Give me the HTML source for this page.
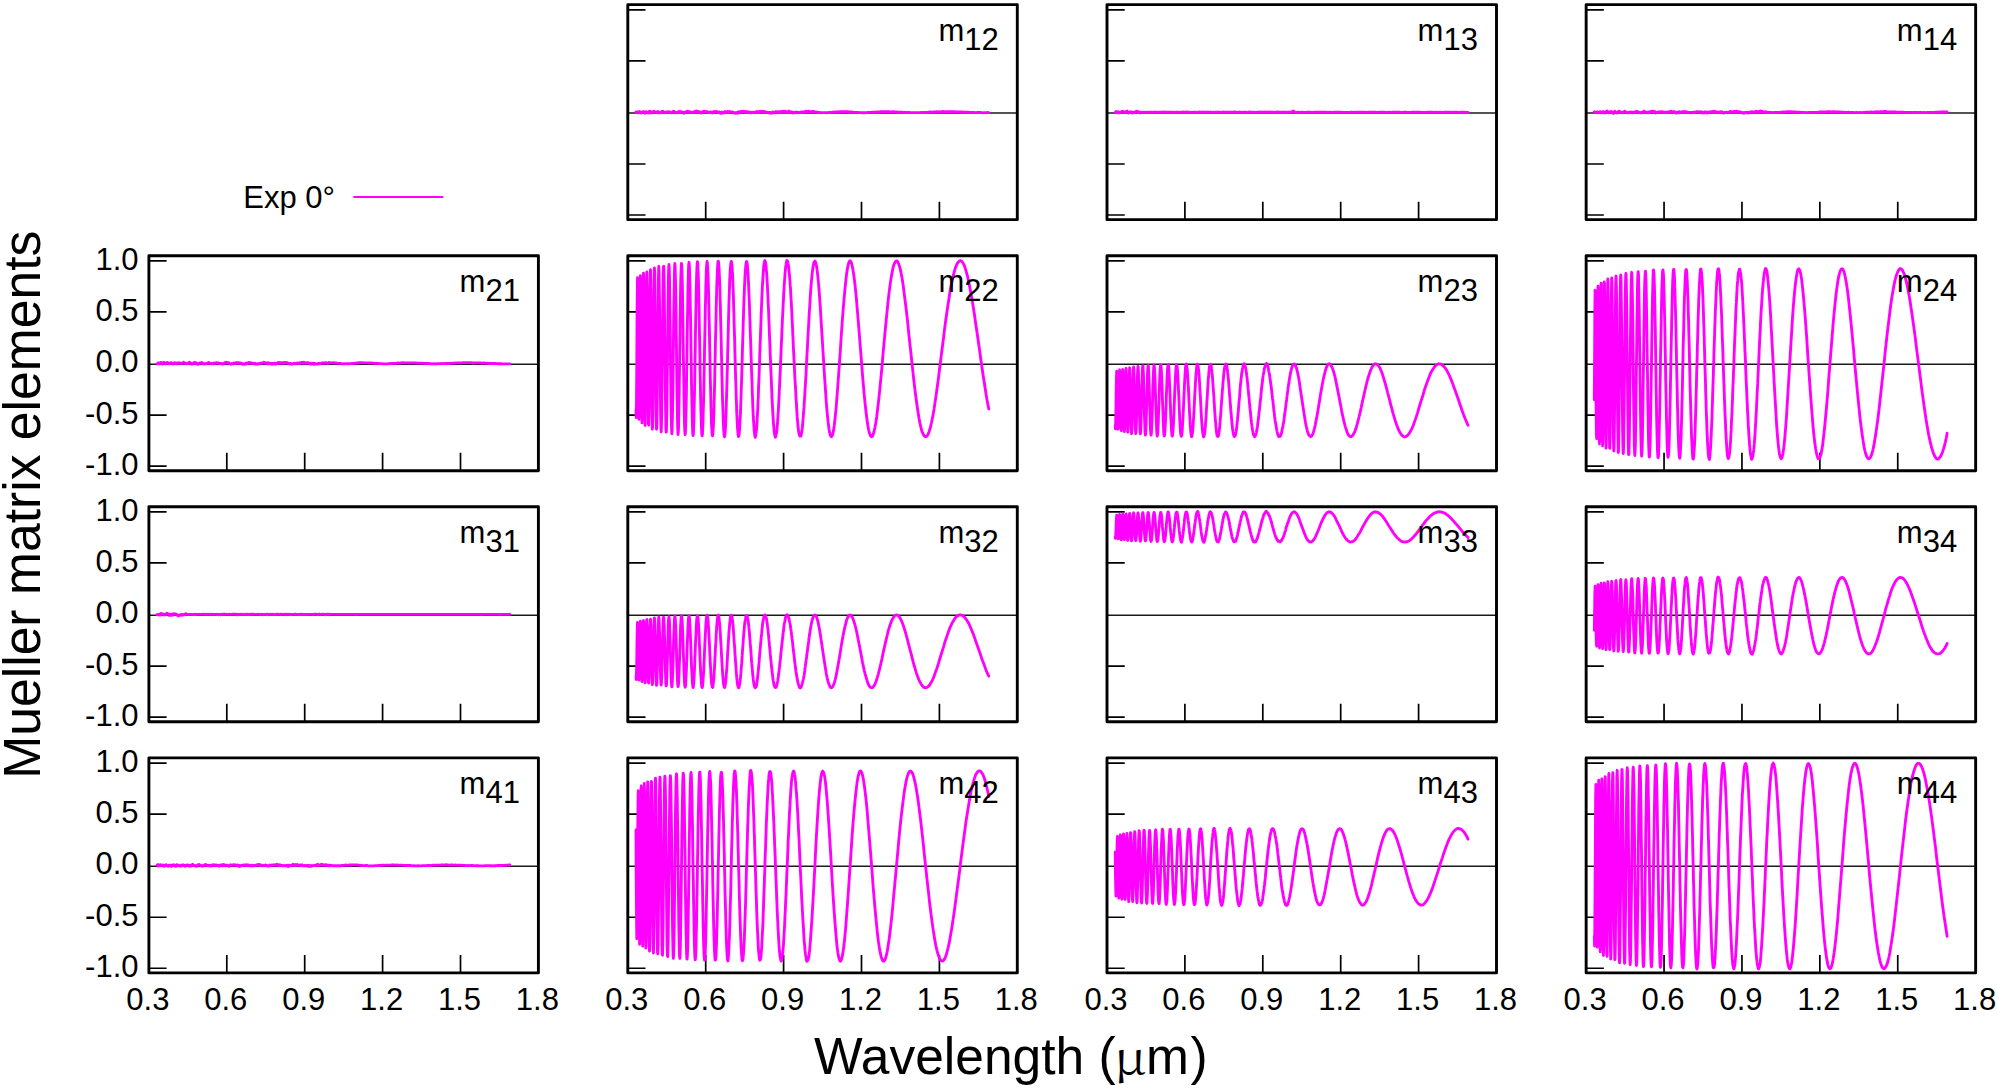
<!DOCTYPE html>
<html><head><meta charset="utf-8"><title>Mueller matrix elements</title>
<style>html,body{margin:0;padding:0;background:#fff}svg{display:block}</style>
</head><body>
<svg width="1998" height="1088" viewBox="0 0 1998 1088" font-family="'Liberation Sans', Arial, sans-serif" fill="#000">
<rect width="1998" height="1088" fill="#fff"/>
<g><line x1="627.80" y1="113.05" x2="1017.30" y2="113.05" stroke="#1a1a1a" stroke-width="1.5"/><path d="M627.80 9.80h17.7M627.80 60.80h17.7M627.80 164.00h17.7M627.80 215.00h17.7M705.70 219.65v-18M783.60 219.65v-18M861.50 219.65v-18M939.40 219.65v-18" stroke="#000" stroke-width="1.7" fill="none"/><polyline points="636.0,111.9 636.2,111.9 636.5,112.1 636.8,112.3 637.0,112.1 637.3,111.9 637.5,112.1 637.8,112.4 638.1,112.6 638.3,112.8 638.6,112.8 638.8,112.2 639.1,111.6 639.4,111.4 639.6,111.6 639.9,111.9 640.1,112.2 640.4,112.3 640.7,112.3 640.9,112.7 641.2,113.0 641.4,112.6 641.7,112.1 642.0,112.1 642.2,112.3 642.5,112.0 642.7,111.7 643.0,111.8 643.3,112.1 643.5,112.1 643.8,111.8 644.0,112.0 644.3,112.7 644.5,113.0 644.8,113.1 645.1,113.1 645.3,112.8 645.6,112.1 645.8,111.6 646.1,111.8 646.4,112.1 646.6,111.9 646.9,112.2 647.1,112.8 647.4,112.9 647.7,112.9 647.9,112.9 648.2,112.9 648.4,113.0 648.7,112.4 649.0,111.7 649.2,111.4 649.5,111.2 649.7,111.1 650.0,111.3 650.3,111.8 650.5,112.2 650.8,112.6 651.0,113.0 651.3,112.9 651.6,112.4 651.8,112.1 652.1,112.2 652.3,112.0 652.6,112.1 652.9,112.0 653.1,111.9 653.4,111.9 653.6,111.4 653.9,111.3 654.2,111.7 654.4,111.9 654.7,111.8 654.9,111.8 655.2,112.0 655.5,112.3 655.7,112.3 656.0,112.6 656.2,112.6 656.5,112.4 656.8,112.3 657.0,112.0 657.3,111.8 657.5,111.8 657.8,111.6 658.1,111.4 658.3,111.7 658.6,112.4 658.8,112.9 659.1,112.8 659.3,112.6 659.6,112.8 659.9,112.8 660.1,112.7 660.4,112.7 660.6,112.6 660.9,112.4 661.2,112.5 661.4,112.1 661.7,111.4 661.9,111.5 662.2,112.0 662.5,111.8 662.7,111.4 663.0,111.3 663.2,111.6 663.5,112.1 663.8,112.2 664.0,112.1 664.3,112.2 664.5,112.6 664.8,112.7 665.1,112.7 665.3,112.6 665.6,112.6 665.8,112.4 666.1,112.0 666.4,112.1 666.6,112.1 666.9,111.8 667.1,111.8 667.4,111.8 667.7,112.0 667.9,112.1 668.2,111.8 668.4,111.6 668.7,111.8 669.0,112.0 669.2,112.3 669.5,112.5 669.7,112.3 670.0,111.9 670.3,112.2 670.5,112.6 670.8,112.6 671.0,112.7 671.3,112.6 671.6,112.4 671.8,112.6 672.1,112.8 672.3,112.5 672.6,112.0 672.9,111.6 673.1,111.5 673.4,111.6 673.6,111.5 673.9,111.5 674.2,111.6 674.4,111.5 674.7,111.7 674.9,112.0 675.2,112.1 675.4,112.4 675.7,112.5 676.0,112.4 676.2,112.5 676.5,112.7 676.7,112.7 677.0,112.5 677.3,112.5 677.5,112.6 677.8,112.6 678.0,112.6 678.3,112.2 678.6,111.6 678.8,111.9 679.1,112.1 679.3,111.7 679.6,111.7 679.9,111.6 680.1,111.5 680.4,111.7 680.6,111.9 680.9,111.9 681.2,112.1 681.4,112.5 681.7,112.5 681.9,112.2 682.2,111.9 682.5,111.9 682.7,111.9 683.0,112.2 683.2,112.6 683.5,113.0 683.8,113.3 684.0,113.2 684.3,112.9 684.5,112.5 684.8,112.3 685.1,112.5 685.3,112.6 685.6,112.6 685.8,112.2 686.1,111.8 686.4,111.8 686.6,111.6 686.9,111.1 687.1,111.1 687.4,111.6 687.7,111.8 687.9,111.8 688.2,111.7 688.4,111.7 688.7,111.6 689.0,111.5 689.2,111.5 689.5,111.7 689.7,112.1 690.0,112.3 690.2,112.5 690.5,112.5 690.8,112.2 691.0,112.2 691.3,112.2 691.5,112.4 691.8,112.5 692.1,112.3 692.3,112.4 692.6,112.4 692.8,112.5 693.1,112.5 693.4,112.4 693.6,112.1 693.9,111.7 694.1,111.6 694.4,111.8 694.7,112.2 694.9,112.0 695.2,111.6 695.4,111.5 695.7,111.3 696.0,111.4 696.2,111.6 696.5,111.3 696.7,111.0 697.0,111.4 697.3,111.8 697.5,112.0 697.8,112.2 698.0,112.5 698.3,112.1 698.6,111.6 698.8,111.8 699.1,112.1 699.3,112.0 699.6,111.9 699.9,112.0 700.1,111.9 700.4,112.1 700.6,112.2 700.9,112.4 701.2,113.0 701.4,112.9 701.7,112.6 701.9,112.6 702.2,112.5 702.5,112.5 702.7,112.0 703.0,111.4 703.2,111.5 703.5,111.7 703.8,111.5 704.0,111.5 704.3,111.5 704.5,111.3 704.8,111.4 705.1,111.7 705.3,111.6 705.6,111.7 705.8,111.8 706.1,111.7 706.3,111.6 706.6,111.5 706.9,111.5 707.1,111.7 707.4,111.8 707.6,112.1 707.9,112.5 708.2,112.6 708.4,112.4 708.7,112.4 708.9,112.4 709.2,112.5 709.5,112.5 709.7,112.0 710.0,111.9 710.2,112.4 710.5,112.6 710.8,112.4 711.0,112.0 711.3,112.1 711.5,112.7 711.8,112.9 712.1,112.9 712.3,113.0 712.6,112.8 712.8,112.5 713.1,112.2 713.4,111.7 713.6,111.7 713.9,112.2 714.1,112.3 714.4,111.9 714.7,111.6 714.9,111.9 715.2,112.2 715.4,111.8 715.7,111.6 716.0,111.5 716.2,111.3 716.5,111.3 716.7,111.6 717.0,111.9 717.3,111.9 717.5,112.1 717.8,112.4 718.0,112.3 718.3,112.4 718.6,112.4 718.8,112.2 719.1,111.8 719.3,111.8 719.6,111.9 719.9,112.2 720.1,112.9 720.4,113.2 720.6,112.8 720.9,112.4 721.2,112.4 721.4,112.3 721.7,112.5 721.9,112.9 722.2,112.5 722.4,112.2 722.7,112.8 723.0,113.2 723.2,112.9 723.5,112.6 723.7,112.5 724.0,112.6 724.3,112.7 724.5,112.7 724.8,112.1 725.0,111.5 725.3,111.8 725.6,112.2 725.8,112.5 726.1,112.6 726.3,112.2 726.6,111.9 726.9,112.0 727.1,111.8 727.4,111.5 727.6,111.4 727.9,111.5 728.2,111.8 728.4,112.2 728.7,112.2 728.9,111.9 729.2,111.6 729.5,111.4 729.7,111.4 730.0,111.8 730.2,111.9 730.5,111.8 730.8,111.8 731.0,111.9 731.3,111.9 731.5,111.8 731.8,111.8 732.1,111.9 732.3,111.9 732.6,112.0 732.8,112.4 733.1,112.4 733.4,112.4 733.6,112.3 733.9,112.3 734.1,112.8 734.4,113.2 734.7,113.0 734.9,112.9 735.2,113.1 735.4,113.0 735.7,113.1 736.0,113.1 736.2,112.8 736.5,112.6 736.7,112.8 737.0,112.8 737.2,112.6 737.5,112.9 737.8,113.2 738.0,112.8 738.3,112.3 738.5,111.8 738.8,111.6 739.1,111.8 739.3,112.2 739.6,112.3 739.8,112.1 740.1,111.6 740.4,111.7 740.6,111.9 740.9,111.8 741.1,111.4 741.4,111.2 741.7,111.5 741.9,111.9 742.2,112.0 742.4,111.9 742.7,111.7 743.0,111.4 743.2,111.2 743.5,111.2 743.7,111.3 744.0,111.6 744.3,111.7 744.5,111.7 744.8,111.6 745.0,111.4 745.3,111.8 745.6,112.3 745.8,112.2 746.1,112.3 746.3,112.5 746.6,112.2 746.9,111.7 747.1,111.6 747.4,111.9 747.6,111.8 747.9,111.9 748.2,112.4 748.4,112.4 748.7,112.3 748.9,112.5 749.2,112.8 749.5,112.6 749.7,112.1 750.0,111.9 750.2,112.0 750.5,112.2 750.8,112.1 751.0,112.4 751.3,112.8 751.5,112.7 751.8,112.6 752.1,112.6 752.3,112.5 752.6,112.3 752.8,112.4 753.1,112.5 753.3,112.3 753.6,112.4 753.9,112.4 754.1,112.3 754.4,112.5 754.6,112.7 754.9,112.8 755.2,112.8 755.4,112.4 755.7,112.0 755.9,112.2 756.2,112.4 756.5,112.5 756.7,112.2 757.0,111.6 757.2,111.7 757.5,112.0 757.8,112.1 758.0,112.2 758.3,112.2 758.5,112.2 758.8,112.1 759.1,111.7 759.3,111.5 759.6,111.5 759.8,111.8 760.1,112.0 760.4,111.9 760.6,111.8 760.9,111.4 761.1,111.3 761.4,111.4 761.7,111.8 761.9,112.0 762.2,111.5 762.4,111.4 762.7,111.9 763.0,111.7 763.2,111.6 763.5,111.7 763.7,111.5 764.0,111.8 764.3,112.0 764.5,111.6 764.8,111.8 765.0,112.0 765.3,112.1 765.6,112.2 765.8,112.0 766.1,112.1 766.3,112.3 766.6,112.2 766.9,112.1 767.1,112.1 767.4,112.3 767.6,112.3 767.9,112.5 768.1,112.7 768.4,112.7 768.7,112.9 768.9,112.7 769.2,112.4 769.4,112.3 769.7,112.3 770.0,112.5 770.2,113.1 770.5,113.3 770.7,113.0 771.0,112.7 771.3,112.7 771.5,112.7 771.8,112.7 772.0,113.1 772.3,113.1 772.6,112.5 772.8,112.0 773.1,112.3 773.3,112.7 773.6,112.4 773.9,112.2 774.1,112.2 774.4,112.5 774.6,112.7 774.9,112.4 775.2,112.0 775.4,111.6 775.7,111.7 775.9,112.2 776.2,112.4 776.5,112.3 776.7,112.2 777.0,112.0 777.2,111.9 777.5,111.7 777.8,111.7 778.0,112.0 778.3,112.4 778.5,112.5 778.8,112.4 779.1,112.4 779.3,112.3 779.6,111.8 779.8,111.7 780.1,111.9 780.4,112.2 780.6,112.3 780.9,111.9 781.1,111.6 781.4,111.9 781.7,111.8 781.9,111.4 782.2,111.5 782.4,111.6 782.7,111.6 783.0,111.7 783.2,111.4 783.5,111.3 783.7,111.8 784.0,112.0 784.2,111.6 784.5,111.3 784.8,111.2 785.0,111.5 785.3,112.0 785.5,112.1 785.8,111.8 786.1,111.8 786.3,112.1 786.6,112.0 786.8,111.7 787.1,111.8 787.4,112.0 787.6,112.1 787.9,112.3 788.1,112.3 788.4,112.0 788.7,111.4 788.9,111.1 789.2,111.7 789.4,112.0 789.7,112.1 790.0,112.4 790.2,112.5 790.5,112.4 790.7,112.0 791.0,111.8 791.3,112.2 791.5,112.4 791.8,112.1 792.0,112.2 792.3,112.4 792.6,112.6 792.8,112.9 793.1,112.6 793.3,112.3 793.6,112.4 793.9,112.7 794.1,112.8 794.4,112.6 794.6,112.5 794.9,112.7 795.2,112.7 795.4,112.3 795.7,112.2 795.9,112.3 796.2,112.2 796.5,112.0 796.7,112.0 797.0,112.4 797.2,112.7 797.5,112.7 797.8,112.5 798.0,112.3 798.3,112.3 798.5,112.5 798.8,112.6 799.1,112.5 799.3,112.3 799.6,112.3 799.8,112.4 800.1,112.5 800.3,112.6 800.6,112.3 800.9,111.9 801.1,111.9 801.4,112.3 801.6,112.5 801.9,112.3 802.2,111.8 802.4,111.8 802.7,112.3 802.9,112.4 803.2,112.2 803.5,112.3 803.7,112.4 804.0,112.0 804.2,111.9 804.5,112.1 804.8,111.8 805.0,111.4 805.3,111.5 805.5,111.5 805.8,111.2 806.1,111.4 806.3,111.7 806.6,111.7 806.8,111.7 807.1,111.7 807.4,111.8 807.6,111.7 807.9,111.5 808.1,111.3 808.4,111.2 808.7,111.4 808.9,111.4 809.2,111.6 809.4,111.9 809.6,111.6 810.4,111.6 811.3,111.6 812.2,111.5 813.1,111.5 814.0,111.7 814.9,111.9 815.7,111.9 816.6,112.1 817.5,112.2 818.4,112.3 819.3,112.5 820.2,112.7 821.0,112.7 821.9,112.6 822.8,112.6 823.7,112.6 824.6,112.6 825.5,112.6 826.3,112.7 827.2,112.7 828.1,112.6 829.0,112.4 829.9,112.5 830.8,112.6 831.6,112.4 832.5,112.2 833.4,112.1 834.3,112.2 835.2,112.0 836.1,111.9 836.9,111.9 837.8,111.9 838.7,111.9 839.6,111.7 840.5,111.6 841.3,111.6 842.2,111.6 843.1,111.6 844.0,111.6 844.9,111.6 845.8,111.6 846.6,111.6 847.5,111.7 848.4,111.8 849.3,111.9 850.2,111.9 851.1,112.0 851.9,112.0 852.8,112.2 853.7,112.3 854.6,112.3 855.5,112.3 856.4,112.4 857.2,112.4 858.1,112.4 859.0,112.6 859.9,112.7 860.8,112.6 861.7,112.7 862.5,112.7 863.4,112.7 864.3,112.7 865.2,112.8 866.1,112.7 867.0,112.6 867.8,112.5 868.7,112.4 869.6,112.4 870.5,112.4 871.4,112.4 872.3,112.2 873.1,112.1 874.0,112.1 874.9,112.3 875.8,112.1 876.7,111.9 877.5,112.0 878.4,111.9 879.3,111.8 880.2,111.8 881.1,111.6 882.0,111.6 882.8,111.6 883.7,111.6 884.6,111.7 885.5,111.7 886.4,111.6 887.3,111.6 888.1,111.6 889.0,111.7 889.9,111.8 890.8,111.8 891.7,111.8 892.6,111.7 893.4,111.7 894.3,111.8 895.2,111.9 896.1,111.9 897.0,112.0 897.9,112.2 898.7,112.2 899.6,112.1 900.5,112.1 901.4,112.2 902.3,112.2 903.2,112.3 904.0,112.4 904.9,112.5 905.8,112.5 906.7,112.6 907.6,112.5 908.4,112.4 909.3,112.5 910.2,112.6 911.1,112.6 912.0,112.7 912.9,112.6 913.7,112.6 914.6,112.6 915.5,112.6 916.4,112.6 917.3,112.6 918.2,112.6 919.0,112.6 919.9,112.6 920.8,112.5 921.7,112.5 922.6,112.6 923.5,112.5 924.3,112.4 925.2,112.4 926.1,112.4 927.0,112.3 927.9,112.3 928.8,112.1 929.6,112.0 930.5,112.0 931.4,112.1 932.3,112.2 933.2,112.1 934.1,111.9 934.9,111.9 935.8,111.8 936.7,111.7 937.6,111.8 938.5,111.8 939.3,111.7 940.2,111.8 941.1,111.8 942.0,111.7 942.9,111.5 943.8,111.6 944.6,111.9 945.5,111.9 946.4,111.7 947.3,111.6 948.2,111.6 949.1,111.6 949.9,111.7 950.8,111.6 951.7,111.6 952.6,111.6 953.5,111.6 954.4,111.7 955.2,111.8 956.1,111.8 957.0,111.8 957.9,111.9 958.8,111.9 959.7,111.8 960.5,111.8 961.4,111.8 962.3,112.0 963.2,112.1 964.1,112.2 965.0,112.2 965.8,112.2 966.7,112.2 967.6,112.2 968.5,112.2 969.4,112.4 970.2,112.5 971.1,112.4 972.0,112.4 972.9,112.4 973.8,112.5 974.7,112.6 975.5,112.7 976.4,112.6 977.3,112.5 978.2,112.5 979.1,112.5 980.0,112.5 980.8,112.5 981.7,112.7 982.6,112.8 983.5,112.7 984.4,112.6 985.3,112.6 986.1,112.7 987.0,112.6 987.9,112.5 988.8,112.6" fill="none" stroke="#ff00ff" stroke-width="2.85" stroke-linejoin="round" stroke-linecap="round"/><rect x="627.80" y="4.65" width="389.50" height="215.00" fill="none" stroke="#000" stroke-width="2.9" stroke-linejoin="round"/><text x="938.40" y="40.65" font-size="31">m<tspan x="964.30" dy="9">12</tspan></text></g>
<g><line x1="1107.00" y1="113.05" x2="1496.50" y2="113.05" stroke="#1a1a1a" stroke-width="1.5"/><path d="M1107.00 9.80h17.7M1107.00 60.80h17.7M1107.00 164.00h17.7M1107.00 215.00h17.7M1184.90 219.65v-18M1262.80 219.65v-18M1340.70 219.65v-18M1418.60 219.65v-18" stroke="#000" stroke-width="1.7" fill="none"/><polyline points="1115.2,112.8 1115.4,112.5 1115.7,111.7 1116.0,111.4 1116.2,111.5 1116.5,112.0 1116.7,112.0 1117.0,112.3 1117.3,112.6 1117.5,112.7 1117.8,112.6 1118.0,112.1 1118.3,111.7 1118.6,112.3 1118.8,112.3 1119.1,112.6 1119.3,112.9 1119.6,112.5 1119.9,112.4 1120.1,112.4 1120.4,112.3 1120.6,112.4 1120.9,112.2 1121.2,112.3 1121.4,112.0 1121.7,112.1 1121.9,111.8 1122.2,111.3 1122.5,111.5 1122.7,111.9 1123.0,111.9 1123.2,111.7 1123.5,111.4 1123.7,111.6 1124.0,111.9 1124.3,112.4 1124.5,112.6 1124.8,112.6 1125.0,112.5 1125.3,112.5 1125.6,112.2 1125.8,111.8 1126.1,112.0 1126.3,112.4 1126.6,111.6 1126.9,111.2 1127.1,111.0 1127.4,111.3 1127.6,111.8 1127.9,112.2 1128.2,112.5 1128.4,112.9 1128.7,112.3 1128.9,112.5 1129.2,112.5 1129.5,112.6 1129.7,112.6 1130.0,112.5 1130.2,111.8 1130.5,112.0 1130.8,111.9 1131.0,112.6 1131.3,112.8 1131.5,112.6 1131.8,112.2 1132.1,111.9 1132.3,112.3 1132.6,113.1 1132.8,112.5 1133.1,112.5 1133.4,112.5 1133.6,112.4 1133.9,112.3 1134.1,112.2 1134.4,112.1 1134.7,112.4 1134.9,112.2 1135.2,112.1 1135.4,112.4 1135.7,112.1 1136.0,111.5 1136.2,111.2 1136.5,111.2 1136.7,111.6 1137.0,111.9 1137.3,111.5 1137.5,111.5 1137.8,111.7 1138.0,112.2 1138.3,112.3 1138.5,112.2 1138.8,112.6 1139.1,112.6 1139.3,112.0 1139.6,112.2 1139.8,112.6 1140.1,113.0 1140.4,112.9 1140.6,112.7 1140.9,112.5 1141.1,112.3 1141.4,112.1 1141.7,112.1 1141.9,112.1 1142.2,112.1 1142.4,112.3 1142.7,112.3 1143.0,112.3 1143.2,112.2 1143.5,112.2 1143.7,112.3 1144.0,112.4 1144.3,112.5 1144.5,112.4 1144.8,112.2 1145.0,112.3 1145.3,112.3 1145.6,112.3 1145.8,112.3 1146.1,112.2 1146.3,112.1 1146.6,112.2 1146.9,112.2 1147.1,112.2 1147.4,112.1 1147.6,112.1 1147.9,112.1 1148.2,112.2 1148.4,112.3 1148.7,112.2 1148.9,112.1 1149.2,112.1 1149.5,112.1 1149.7,112.2 1150.0,112.3 1150.2,112.4 1150.5,112.4 1150.8,112.3 1151.0,112.2 1151.3,112.2 1151.5,112.2 1151.8,112.2 1152.1,112.2 1152.3,112.3 1152.6,112.3 1152.8,112.4 1153.1,112.3 1153.4,112.2 1153.6,112.3 1153.9,112.3 1154.1,112.2 1154.4,112.2 1154.6,112.2 1154.9,112.1 1155.2,112.1 1155.4,112.1 1155.7,112.1 1155.9,112.1 1156.2,112.3 1156.5,112.3 1156.7,112.2 1157.0,112.2 1157.2,112.1 1157.5,112.3 1157.8,112.3 1158.0,112.2 1158.3,112.3 1158.5,112.4 1158.8,112.3 1159.1,112.3 1159.3,112.2 1159.6,112.2 1159.8,112.2 1160.1,112.3 1160.4,112.4 1160.6,112.4 1160.9,112.3 1161.1,112.2 1161.4,112.1 1161.7,112.1 1161.9,112.2 1162.2,112.2 1162.4,112.0 1162.7,112.0 1163.0,112.2 1163.2,112.4 1163.5,112.5 1163.7,112.4 1164.0,112.3 1164.3,112.1 1164.5,112.0 1164.8,112.2 1165.0,112.3 1165.3,112.2 1165.6,112.1 1165.8,112.1 1166.1,112.3 1166.3,112.2 1166.6,112.1 1166.9,112.2 1167.1,112.4 1167.4,112.3 1167.6,112.3 1167.9,112.4 1168.2,112.2 1168.4,112.2 1168.7,112.3 1168.9,112.2 1169.2,112.1 1169.4,112.2 1169.7,112.4 1170.0,112.5 1170.2,112.4 1170.5,112.2 1170.7,112.1 1171.0,112.4 1171.3,112.5 1171.5,112.3 1171.8,112.2 1172.0,112.2 1172.3,112.3 1172.6,112.4 1172.8,112.5 1173.1,112.5 1173.3,112.4 1173.6,112.3 1173.9,112.2 1174.1,112.2 1174.4,112.2 1174.6,112.2 1174.9,112.3 1175.2,112.3 1175.4,112.3 1175.7,112.5 1175.9,112.5 1176.2,112.4 1176.5,112.2 1176.7,112.1 1177.0,112.1 1177.2,112.2 1177.5,112.2 1177.8,112.2 1178.0,112.1 1178.3,112.1 1178.5,112.2 1178.8,112.3 1179.1,112.3 1179.3,112.3 1179.6,112.4 1179.8,112.4 1180.1,112.4 1180.4,112.4 1180.6,112.4 1180.9,112.2 1181.1,112.1 1181.4,112.2 1181.7,112.2 1181.9,112.1 1182.2,112.0 1182.4,112.1 1182.7,112.1 1183.0,112.0 1183.2,112.2 1183.5,112.2 1183.7,112.2 1184.0,112.1 1184.3,112.1 1184.5,112.2 1184.8,112.1 1185.0,112.2 1185.3,112.4 1185.5,112.5 1185.8,112.3 1186.1,112.0 1186.3,112.0 1186.6,112.0 1186.8,112.1 1187.1,112.3 1187.4,112.4 1187.6,112.3 1187.9,112.2 1188.1,112.2 1188.4,112.2 1188.7,112.2 1188.9,112.3 1189.2,112.4 1189.4,112.3 1189.7,112.2 1190.0,112.4 1190.2,112.4 1190.5,112.4 1190.7,112.3 1191.0,112.3 1191.3,112.3 1191.5,112.4 1191.8,112.3 1192.0,112.4 1192.3,112.5 1192.6,112.5 1192.8,112.5 1193.1,112.4 1193.3,112.2 1193.6,112.2 1193.9,112.2 1194.1,112.3 1194.4,112.3 1194.6,112.2 1194.9,112.1 1195.2,112.2 1195.4,112.3 1195.7,112.3 1195.9,112.4 1196.2,112.4 1196.5,112.4 1196.7,112.5 1197.0,112.5 1197.2,112.3 1197.5,112.1 1197.8,112.2 1198.0,112.2 1198.3,112.2 1198.5,112.2 1198.8,112.4 1199.1,112.4 1199.3,112.1 1199.6,112.0 1199.8,112.1 1200.1,112.2 1200.4,112.3 1200.6,112.3 1200.9,112.3 1201.1,112.4 1201.4,112.3 1201.6,112.1 1201.9,112.0 1202.2,112.1 1202.4,112.3 1202.7,112.3 1202.9,112.1 1203.2,112.1 1203.5,112.2 1203.7,112.3 1204.0,112.3 1204.2,112.1 1204.5,112.0 1204.8,112.1 1205.0,112.3 1205.3,112.2 1205.5,112.1 1205.8,112.2 1206.1,112.4 1206.3,112.5 1206.6,112.4 1206.8,112.2 1207.1,112.3 1207.4,112.3 1207.6,112.1 1207.9,112.0 1208.1,112.2 1208.4,112.4 1208.7,112.3 1208.9,112.2 1209.2,112.3 1209.4,112.4 1209.7,112.4 1210.0,112.4 1210.2,112.3 1210.5,112.1 1210.7,112.0 1211.0,112.1 1211.3,112.2 1211.5,112.2 1211.8,112.3 1212.0,112.4 1212.3,112.4 1212.6,112.4 1212.8,112.3 1213.1,112.3 1213.3,112.2 1213.6,112.2 1213.9,112.2 1214.1,112.4 1214.4,112.5 1214.6,112.3 1214.9,112.1 1215.2,112.1 1215.4,112.3 1215.7,112.3 1215.9,112.3 1216.2,112.3 1216.4,112.2 1216.7,112.1 1217.0,112.1 1217.2,112.2 1217.5,112.3 1217.7,112.3 1218.0,112.2 1218.3,112.2 1218.5,112.1 1218.8,112.0 1219.0,112.0 1219.3,112.1 1219.6,112.3 1219.8,112.3 1220.1,112.3 1220.3,112.4 1220.6,112.4 1220.9,112.4 1221.1,112.4 1221.4,112.2 1221.6,112.1 1221.9,112.2 1222.2,112.3 1222.4,112.3 1222.7,112.2 1222.9,112.2 1223.2,112.1 1223.5,112.0 1223.7,112.0 1224.0,112.2 1224.2,112.3 1224.5,112.4 1224.8,112.4 1225.0,112.4 1225.3,112.2 1225.5,112.1 1225.8,112.0 1226.1,112.1 1226.3,112.3 1226.6,112.2 1226.8,112.1 1227.1,112.2 1227.4,112.2 1227.6,112.2 1227.9,112.2 1228.1,112.2 1228.4,112.1 1228.7,112.1 1228.9,112.1 1229.2,112.2 1229.4,112.2 1229.7,112.2 1230.0,112.2 1230.2,112.2 1230.5,112.2 1230.7,112.2 1231.0,112.2 1231.3,112.3 1231.5,112.3 1231.8,112.3 1232.0,112.1 1232.3,112.1 1232.5,112.1 1232.8,112.1 1233.1,112.2 1233.3,112.2 1233.6,112.0 1233.8,111.9 1234.1,112.0 1234.4,112.0 1234.6,112.2 1234.9,112.3 1235.1,112.1 1235.4,112.1 1235.7,112.1 1235.9,112.2 1236.2,112.4 1236.4,112.5 1236.7,112.4 1237.0,112.3 1237.2,112.3 1237.5,112.3 1237.7,112.2 1238.0,112.2 1238.3,112.4 1238.5,112.3 1238.8,112.2 1239.0,112.1 1239.3,112.2 1239.6,112.3 1239.8,112.2 1240.1,112.1 1240.3,112.2 1240.6,112.3 1240.9,112.3 1241.1,112.4 1241.4,112.5 1241.6,112.5 1241.9,112.4 1242.2,112.2 1242.4,112.3 1242.7,112.3 1242.9,112.3 1243.2,112.3 1243.5,112.3 1243.7,112.1 1244.0,112.1 1244.2,112.1 1244.5,112.1 1244.8,112.2 1245.0,112.2 1245.3,112.3 1245.5,112.3 1245.8,112.2 1246.1,112.2 1246.3,112.3 1246.6,112.4 1246.8,112.5 1247.1,112.5 1247.3,112.3 1247.6,112.3 1247.9,112.3 1248.1,112.2 1248.4,112.2 1248.6,112.3 1248.9,112.4 1249.2,112.4 1249.4,112.2 1249.7,112.0 1249.9,112.0 1250.2,112.2 1250.5,112.2 1250.7,112.1 1251.0,112.0 1251.2,112.1 1251.5,112.2 1251.8,112.3 1252.0,112.3 1252.3,112.3 1252.5,112.3 1252.8,112.4 1253.1,112.5 1253.3,112.4 1253.6,112.3 1253.8,112.4 1254.1,112.4 1254.4,112.3 1254.6,112.2 1254.9,112.3 1255.1,112.3 1255.4,112.3 1255.7,112.4 1255.9,112.4 1256.2,112.3 1256.4,112.3 1256.7,112.4 1257.0,112.4 1257.2,112.2 1257.5,112.1 1257.7,112.2 1258.0,112.2 1258.3,112.1 1258.5,112.1 1258.8,112.2 1259.0,112.2 1259.3,112.0 1259.6,112.0 1259.8,112.1 1260.1,112.1 1260.3,112.1 1260.6,112.2 1260.9,112.3 1261.1,112.2 1261.4,112.1 1261.6,112.2 1261.9,112.3 1262.2,112.3 1262.4,112.2 1262.7,112.2 1262.9,112.2 1263.2,112.3 1263.4,112.3 1263.7,112.3 1264.0,112.2 1264.2,112.1 1264.5,112.0 1264.7,112.2 1265.0,112.2 1265.3,112.3 1265.5,112.3 1265.8,112.1 1266.0,112.1 1266.3,112.2 1266.6,112.2 1266.8,111.9 1267.1,111.9 1267.3,112.3 1267.6,112.4 1267.9,112.4 1268.1,112.3 1268.4,112.3 1268.6,112.3 1268.9,112.2 1269.2,112.0 1269.4,112.1 1269.7,112.2 1269.9,112.0 1270.2,112.1 1270.5,112.2 1270.7,112.2 1271.0,112.2 1271.2,112.2 1271.5,112.3 1271.8,112.3 1272.0,112.4 1272.3,112.3 1272.5,112.2 1272.8,112.1 1273.1,112.2 1273.3,112.2 1273.6,112.2 1273.8,112.3 1274.1,112.4 1274.4,112.5 1274.6,112.5 1274.9,112.5 1275.1,112.4 1275.4,112.3 1275.7,112.2 1275.9,112.2 1276.2,112.1 1276.4,112.1 1276.7,112.2 1277.0,112.2 1277.2,112.0 1277.5,112.0 1277.7,112.3 1278.0,112.3 1278.3,112.1 1278.5,112.1 1278.8,112.2 1279.0,112.2 1279.3,112.3 1279.5,112.3 1279.8,112.2 1280.1,112.2 1280.3,112.2 1280.6,112.2 1280.8,112.3 1281.1,112.4 1281.4,112.3 1281.6,112.2 1281.9,112.2 1282.1,112.1 1282.4,112.1 1282.7,112.2 1282.9,112.2 1283.2,112.0 1283.4,112.1 1283.7,112.2 1284.0,112.2 1284.2,112.1 1284.5,112.1 1284.7,112.2 1285.0,112.2 1285.3,112.2 1285.5,112.1 1285.8,112.1 1286.0,112.2 1286.3,112.3 1286.6,112.3 1286.8,112.3 1287.1,112.2 1287.3,112.4 1287.6,112.4 1287.9,112.4 1288.1,112.3 1288.4,112.2 1288.6,112.1 1288.8,112.2 1289.6,112.2 1290.5,112.2 1291.4,112.1 1292.3,111.6 1293.2,111.0 1294.1,111.6 1294.9,112.2 1295.8,112.3 1296.7,112.3 1297.6,112.2 1298.5,112.2 1299.4,112.3 1300.2,112.3 1301.1,112.2 1302.0,112.2 1302.9,112.3 1303.8,112.3 1304.7,112.3 1305.5,112.3 1306.4,112.3 1307.3,112.2 1308.2,112.2 1309.1,112.2 1310.0,112.2 1310.8,112.2 1311.7,112.3 1312.6,112.3 1313.5,112.3 1314.4,112.2 1315.3,112.2 1316.1,112.2 1317.0,112.2 1317.9,112.2 1318.8,112.2 1319.7,112.2 1320.5,112.2 1321.4,112.2 1322.3,112.2 1323.2,112.2 1324.1,112.2 1325.0,112.2 1325.8,112.2 1326.7,112.2 1327.6,112.3 1328.5,112.3 1329.4,112.2 1330.3,112.2 1331.1,112.3 1332.0,112.3 1332.9,112.3 1333.8,112.2 1334.7,112.2 1335.6,112.2 1336.4,112.2 1337.3,112.2 1338.2,112.2 1339.1,112.2 1340.0,112.2 1340.9,112.2 1341.7,112.3 1342.6,112.3 1343.5,112.3 1344.4,112.3 1345.3,112.3 1346.2,112.3 1347.0,112.3 1347.9,112.3 1348.8,112.3 1349.7,112.3 1350.6,112.2 1351.5,112.2 1352.3,112.2 1353.2,112.3 1354.1,112.3 1355.0,112.2 1355.9,112.2 1356.7,112.2 1357.6,112.2 1358.5,112.2 1359.4,112.2 1360.3,112.2 1361.2,112.2 1362.0,112.2 1362.9,112.2 1363.8,112.2 1364.7,112.2 1365.6,112.3 1366.5,112.3 1367.3,112.3 1368.2,112.2 1369.1,112.2 1370.0,112.2 1370.9,112.2 1371.8,112.2 1372.6,112.2 1373.5,112.2 1374.4,112.2 1375.3,112.2 1376.2,112.3 1377.1,112.3 1377.9,112.3 1378.8,112.2 1379.7,112.2 1380.6,112.2 1381.5,112.2 1382.4,112.2 1383.2,112.2 1384.1,112.2 1385.0,112.3 1385.9,112.3 1386.8,112.3 1387.6,112.3 1388.5,112.2 1389.4,112.2 1390.3,112.3 1391.2,112.3 1392.1,112.2 1392.9,112.2 1393.8,112.2 1394.7,112.2 1395.6,112.2 1396.5,112.1 1397.4,112.2 1398.2,112.2 1399.1,112.2 1400.0,112.3 1400.9,112.3 1401.8,112.3 1402.7,112.3 1403.5,112.3 1404.4,112.2 1405.3,112.2 1406.2,112.2 1407.1,112.3 1408.0,112.3 1408.8,112.3 1409.7,112.3 1410.6,112.3 1411.5,112.2 1412.4,112.2 1413.3,112.2 1414.1,112.2 1415.0,112.2 1415.9,112.3 1416.8,112.2 1417.7,112.2 1418.5,112.2 1419.4,112.2 1420.3,112.2 1421.2,112.3 1422.1,112.3 1423.0,112.3 1423.8,112.3 1424.7,112.3 1425.6,112.3 1426.5,112.3 1427.4,112.2 1428.3,112.2 1429.1,112.2 1430.0,112.2 1430.9,112.2 1431.8,112.2 1432.7,112.2 1433.6,112.3 1434.4,112.3 1435.3,112.3 1436.2,112.2 1437.1,112.2 1438.0,112.3 1438.9,112.3 1439.7,112.2 1440.6,112.2 1441.5,112.3 1442.4,112.3 1443.3,112.3 1444.2,112.2 1445.0,112.2 1445.9,112.2 1446.8,112.2 1447.7,112.2 1448.6,112.2 1449.4,112.2 1450.3,112.2 1451.2,112.3 1452.1,112.3 1453.0,112.2 1453.9,112.2 1454.7,112.2 1455.6,112.2 1456.5,112.2 1457.4,112.2 1458.3,112.3 1459.2,112.3 1460.0,112.3 1460.9,112.2 1461.8,112.2 1462.7,112.2 1463.6,112.2 1464.5,112.2 1465.3,112.3 1466.2,112.3 1467.1,112.3 1468.0,112.3" fill="none" stroke="#ff00ff" stroke-width="2.85" stroke-linejoin="round" stroke-linecap="round"/><rect x="1107.00" y="4.65" width="389.50" height="215.00" fill="none" stroke="#000" stroke-width="2.9" stroke-linejoin="round"/><text x="1417.60" y="40.65" font-size="31">m<tspan x="1443.50" dy="9">13</tspan></text></g>
<g><line x1="1586.15" y1="113.05" x2="1975.65" y2="113.05" stroke="#1a1a1a" stroke-width="1.5"/><path d="M1586.15 9.80h17.7M1586.15 60.80h17.7M1586.15 164.00h17.7M1586.15 215.00h17.7M1664.05 219.65v-18M1741.95 219.65v-18M1819.85 219.65v-18M1897.75 219.65v-18" stroke="#000" stroke-width="1.7" fill="none"/><polyline points="1594.3,111.7 1594.6,111.9 1594.8,112.0 1595.1,112.1 1595.4,112.1 1595.6,112.2 1595.9,112.4 1596.1,112.7 1596.4,112.6 1596.7,112.2 1596.9,111.9 1597.2,111.9 1597.4,112.0 1597.7,111.9 1598.0,111.9 1598.2,112.2 1598.5,112.4 1598.7,112.5 1599.0,112.5 1599.3,112.1 1599.5,112.0 1599.8,112.1 1600.0,112.0 1600.3,111.8 1600.6,111.9 1600.8,112.1 1601.1,112.3 1601.3,112.5 1601.6,112.8 1601.9,112.9 1602.1,112.6 1602.4,112.3 1602.6,112.2 1602.9,111.7 1603.2,111.6 1603.4,111.7 1603.7,111.7 1603.9,111.9 1604.2,112.5 1604.5,113.0 1604.7,113.0 1605.0,112.5 1605.2,112.6 1605.5,112.6 1605.8,112.1 1606.0,111.7 1606.3,111.5 1606.5,111.2 1606.8,110.8 1607.1,110.8 1607.3,111.6 1607.6,112.3 1607.8,112.3 1608.1,112.3 1608.4,112.5 1608.6,112.7 1608.9,112.8 1609.1,112.4 1609.4,112.0 1609.6,111.7 1609.9,111.7 1610.2,111.7 1610.4,111.9 1610.7,112.2 1610.9,112.1 1611.2,111.6 1611.5,111.5 1611.7,112.1 1612.0,112.4 1612.2,112.2 1612.5,112.5 1612.8,112.8 1613.0,113.2 1613.3,113.4 1613.5,112.6 1613.8,112.1 1614.1,112.0 1614.3,111.9 1614.6,111.5 1614.8,111.2 1615.1,111.4 1615.4,111.9 1615.6,112.1 1615.9,112.3 1616.1,112.5 1616.4,112.4 1616.7,112.5 1616.9,113.0 1617.2,112.8 1617.4,112.3 1617.7,112.0 1618.0,111.8 1618.2,111.8 1618.5,111.8 1618.7,111.6 1619.0,111.2 1619.3,111.2 1619.5,111.8 1619.8,112.4 1620.0,112.4 1620.3,112.3 1620.6,112.3 1620.8,112.1 1621.1,112.1 1621.3,112.2 1621.6,112.3 1621.9,112.4 1622.1,112.4 1622.4,112.6 1622.6,112.7 1622.9,112.5 1623.2,112.1 1623.4,111.9 1623.7,112.1 1623.9,111.9 1624.2,111.4 1624.5,111.2 1624.7,111.2 1625.0,111.3 1625.2,111.6 1625.5,111.7 1625.7,112.0 1626.0,112.4 1626.3,112.4 1626.5,112.3 1626.8,112.4 1627.0,112.6 1627.3,112.8 1627.6,112.8 1627.8,112.7 1628.1,112.8 1628.3,112.6 1628.6,112.4 1628.9,112.3 1629.1,112.1 1629.4,112.2 1629.6,112.6 1629.9,112.7 1630.2,112.6 1630.4,112.3 1630.7,112.1 1630.9,112.0 1631.2,112.0 1631.5,112.1 1631.7,112.5 1632.0,112.8 1632.2,112.8 1632.5,112.5 1632.8,112.1 1633.0,112.2 1633.3,112.7 1633.5,112.6 1633.8,112.2 1634.1,112.1 1634.3,112.1 1634.6,112.0 1634.8,112.0 1635.1,111.9 1635.4,112.1 1635.6,112.2 1635.9,111.8 1636.1,111.5 1636.4,111.7 1636.7,111.9 1636.9,111.6 1637.2,111.5 1637.4,111.6 1637.7,111.8 1638.0,112.3 1638.2,112.6 1638.5,112.7 1638.7,112.8 1639.0,112.5 1639.3,112.1 1639.5,112.2 1639.8,112.5 1640.0,112.6 1640.3,112.7 1640.6,112.8 1640.8,112.6 1641.1,112.4 1641.3,112.4 1641.6,112.8 1641.8,112.9 1642.1,112.6 1642.4,112.3 1642.6,112.1 1642.9,112.0 1643.1,112.1 1643.4,112.0 1643.7,111.7 1643.9,111.2 1644.2,111.1 1644.4,111.7 1644.7,112.1 1645.0,112.1 1645.2,112.1 1645.5,112.4 1645.7,112.4 1646.0,112.2 1646.3,112.0 1646.5,111.9 1646.8,112.0 1647.0,112.4 1647.3,112.4 1647.6,112.6 1647.8,112.8 1648.1,112.6 1648.3,112.4 1648.6,112.0 1648.9,112.2 1649.1,112.7 1649.4,112.5 1649.6,112.1 1649.9,111.7 1650.2,111.7 1650.4,111.7 1650.7,111.7 1650.9,111.9 1651.2,111.7 1651.5,111.5 1651.7,111.7 1652.0,111.7 1652.2,111.5 1652.5,111.1 1652.8,111.2 1653.0,111.8 1653.3,112.1 1653.5,112.1 1653.8,112.2 1654.1,112.4 1654.3,112.3 1654.6,111.8 1654.8,111.6 1655.1,112.3 1655.4,113.0 1655.6,113.0 1655.9,112.7 1656.1,112.8 1656.4,112.8 1656.6,112.6 1656.9,112.4 1657.2,112.3 1657.4,112.5 1657.7,112.6 1657.9,112.5 1658.2,112.5 1658.5,112.6 1658.7,112.2 1659.0,111.8 1659.2,111.9 1659.5,111.9 1659.8,111.9 1660.0,111.8 1660.3,111.8 1660.5,111.8 1660.8,112.0 1661.1,111.9 1661.3,111.8 1661.6,111.9 1661.8,111.7 1662.1,111.6 1662.4,112.1 1662.6,112.3 1662.9,112.1 1663.1,112.3 1663.4,112.4 1663.7,112.0 1663.9,111.9 1664.2,112.3 1664.4,112.6 1664.7,112.3 1665.0,112.2 1665.2,112.5 1665.5,112.5 1665.7,112.5 1666.0,112.5 1666.3,112.5 1666.5,112.3 1666.8,111.9 1667.0,111.9 1667.3,112.3 1667.6,112.1 1667.8,112.1 1668.1,112.6 1668.3,112.4 1668.6,112.1 1668.9,112.0 1669.1,111.8 1669.4,111.9 1669.6,112.0 1669.9,112.1 1670.2,112.3 1670.4,111.8 1670.7,111.3 1670.9,111.4 1671.2,111.5 1671.5,111.3 1671.7,111.5 1672.0,111.8 1672.2,111.8 1672.5,111.8 1672.7,112.3 1673.0,112.4 1673.3,112.0 1673.5,111.8 1673.8,111.7 1674.0,111.5 1674.3,112.1 1674.6,112.5 1674.8,112.4 1675.1,112.6 1675.3,112.4 1675.6,112.2 1675.9,112.8 1676.1,113.2 1676.4,113.1 1676.6,112.9 1676.9,112.9 1677.2,112.8 1677.4,112.3 1677.7,111.9 1677.9,111.9 1678.2,111.9 1678.5,112.2 1678.7,112.8 1679.0,112.9 1679.2,112.4 1679.5,111.7 1679.8,111.7 1680.0,112.3 1680.3,112.5 1680.5,112.2 1680.8,112.1 1681.1,112.1 1681.3,112.1 1681.6,112.1 1681.8,112.2 1682.1,112.2 1682.4,111.7 1682.6,111.5 1682.9,112.0 1683.1,112.4 1683.4,112.2 1683.7,111.9 1683.9,111.7 1684.2,111.7 1684.4,112.0 1684.7,112.2 1685.0,112.0 1685.2,111.6 1685.5,111.8 1685.7,112.2 1686.0,112.3 1686.3,112.3 1686.5,112.3 1686.8,112.1 1687.0,111.9 1687.3,112.1 1687.5,112.3 1687.8,112.3 1688.1,112.3 1688.3,112.4 1688.6,112.5 1688.8,112.6 1689.1,112.4 1689.4,112.3 1689.6,112.3 1689.9,112.4 1690.1,112.7 1690.4,112.7 1690.7,112.6 1690.9,112.6 1691.2,112.9 1691.4,112.9 1691.7,112.3 1692.0,112.3 1692.2,112.5 1692.5,112.4 1692.7,112.5 1693.0,112.5 1693.3,112.4 1693.5,112.1 1693.8,112.0 1694.0,112.2 1694.3,112.6 1694.6,112.7 1694.8,112.5 1695.1,112.2 1695.3,112.1 1695.6,112.3 1695.9,112.2 1696.1,111.9 1696.4,111.7 1696.6,111.7 1696.9,111.6 1697.2,111.7 1697.4,111.9 1697.7,111.9 1697.9,112.0 1698.2,112.1 1698.5,112.0 1698.7,111.9 1699.0,111.8 1699.2,111.9 1699.5,112.1 1699.8,111.9 1700.0,111.7 1700.3,111.8 1700.5,112.0 1700.8,111.9 1701.1,111.9 1701.3,112.0 1701.6,112.1 1701.8,112.0 1702.1,112.0 1702.4,112.5 1702.6,112.9 1702.9,112.6 1703.1,112.4 1703.4,112.7 1703.6,112.9 1703.9,113.0 1704.2,112.8 1704.4,112.7 1704.7,112.4 1704.9,112.0 1705.2,111.8 1705.5,111.9 1705.7,112.1 1706.0,112.2 1706.2,112.3 1706.5,112.9 1706.8,112.8 1707.0,112.3 1707.3,112.5 1707.5,112.9 1707.8,112.6 1708.1,112.1 1708.3,111.9 1708.6,112.0 1708.8,112.3 1709.1,112.2 1709.4,112.1 1709.6,112.0 1709.9,112.1 1710.1,112.2 1710.4,111.9 1710.7,111.8 1710.9,112.0 1711.2,112.3 1711.4,112.3 1711.7,111.9 1712.0,111.8 1712.2,111.9 1712.5,111.7 1712.7,111.6 1713.0,111.5 1713.3,111.2 1713.5,111.4 1713.8,111.8 1714.0,111.6 1714.3,111.3 1714.6,111.7 1714.8,112.2 1715.1,112.1 1715.3,111.9 1715.6,111.7 1715.9,111.7 1716.1,112.2 1716.4,112.2 1716.6,112.0 1716.9,112.4 1717.2,112.6 1717.4,112.4 1717.7,112.3 1717.9,112.2 1718.2,112.1 1718.5,112.2 1718.7,112.4 1719.0,112.5 1719.2,112.4 1719.5,112.3 1719.7,112.2 1720.0,112.0 1720.3,111.7 1720.5,111.8 1720.8,112.4 1721.0,112.6 1721.3,112.4 1721.6,112.2 1721.8,111.9 1722.1,111.7 1722.3,112.0 1722.6,112.7 1722.9,113.0 1723.1,113.0 1723.4,112.9 1723.6,113.0 1723.9,113.0 1724.2,113.0 1724.4,112.8 1724.7,112.5 1724.9,112.3 1725.2,112.4 1725.5,112.5 1725.7,112.5 1726.0,112.4 1726.2,112.2 1726.5,112.2 1726.8,112.3 1727.0,112.3 1727.3,112.4 1727.5,112.4 1727.8,112.4 1728.1,112.2 1728.3,112.2 1728.6,112.4 1728.8,112.2 1729.1,111.9 1729.4,111.9 1729.6,111.7 1729.9,111.8 1730.1,112.2 1730.4,112.1 1730.7,111.5 1730.9,111.4 1731.2,111.6 1731.4,112.0 1731.7,112.4 1732.0,112.3 1732.2,112.3 1732.5,112.1 1732.7,111.8 1733.0,111.7 1733.3,111.6 1733.5,111.8 1733.8,112.1 1734.0,111.9 1734.3,111.3 1734.5,111.3 1734.8,111.7 1735.1,111.7 1735.3,111.4 1735.6,111.5 1735.8,111.6 1736.1,111.3 1736.4,111.2 1736.6,111.7 1736.9,112.2 1737.1,112.3 1737.4,111.7 1737.7,111.5 1737.9,111.8 1738.2,112.0 1738.4,111.8 1738.7,111.7 1739.0,112.0 1739.2,112.1 1739.5,112.1 1739.7,112.0 1740.0,111.8 1740.3,111.9 1740.5,112.2 1740.8,112.5 1741.0,112.6 1741.3,112.5 1741.6,112.2 1741.8,112.5 1742.1,112.8 1742.3,112.6 1742.6,112.7 1742.9,113.0 1743.1,112.8 1743.4,112.6 1743.6,112.8 1743.9,112.9 1744.2,113.1 1744.4,112.8 1744.7,112.4 1744.9,112.6 1745.2,112.5 1745.5,112.4 1745.7,112.8 1746.0,112.9 1746.2,112.6 1746.5,112.3 1746.8,112.2 1747.0,112.5 1747.3,112.7 1747.5,112.4 1747.8,112.4 1748.1,112.4 1748.3,112.3 1748.6,112.7 1748.8,112.9 1749.1,112.5 1749.4,112.2 1749.6,112.3 1749.9,112.3 1750.1,111.9 1750.4,111.9 1750.6,111.9 1750.9,111.8 1751.2,112.0 1751.4,112.3 1751.7,112.3 1751.9,112.0 1752.2,111.8 1752.5,112.2 1752.7,112.4 1753.0,112.2 1753.2,112.0 1753.5,112.1 1753.8,112.2 1754.0,112.1 1754.3,112.0 1754.5,111.8 1754.8,111.8 1755.1,111.9 1755.3,111.7 1755.6,111.4 1755.8,111.3 1756.1,111.6 1756.4,111.8 1756.6,111.9 1756.9,112.0 1757.1,112.1 1757.4,111.8 1757.7,111.4 1757.9,111.6 1758.2,111.9 1758.4,112.0 1758.7,111.9 1759.0,111.7 1759.2,111.9 1759.5,111.8 1759.7,111.3 1760.0,111.2 1760.3,111.6 1760.5,111.7 1760.8,111.3 1761.0,111.1 1761.3,111.5 1761.6,111.7 1761.8,111.5 1762.1,111.3 1762.3,111.5 1762.6,111.7 1762.9,112.0 1763.1,112.0 1763.4,111.9 1763.6,111.9 1763.9,112.1 1764.2,112.3 1764.4,112.2 1764.7,112.2 1764.9,112.0 1765.2,111.7 1765.4,111.6 1765.7,111.9 1766.0,112.3 1766.2,112.2 1766.5,112.3 1766.7,112.3 1767.0,112.2 1767.3,112.3 1767.5,112.4 1767.8,112.5 1767.9,112.4 1768.8,112.4 1769.7,112.4 1770.6,112.4 1771.4,112.5 1772.3,112.6 1773.2,112.6 1774.1,112.5 1775.0,112.5 1775.9,112.5 1776.7,112.5 1777.6,112.4 1778.5,112.3 1779.4,112.3 1780.3,112.2 1781.2,112.2 1782.0,112.1 1782.9,112.0 1783.8,112.0 1784.7,112.0 1785.6,111.9 1786.5,111.8 1787.3,111.7 1788.2,111.6 1789.1,111.7 1790.0,111.8 1790.9,111.7 1791.8,111.8 1792.6,111.9 1793.5,111.9 1794.4,111.9 1795.3,112.0 1796.2,112.1 1797.1,112.1 1797.9,112.1 1798.8,112.1 1799.7,112.2 1800.6,112.3 1801.5,112.4 1802.3,112.5 1803.2,112.4 1804.1,112.5 1805.0,112.5 1805.9,112.6 1806.8,112.7 1807.6,112.7 1808.5,112.5 1809.4,112.4 1810.3,112.4 1811.2,112.4 1812.1,112.5 1812.9,112.5 1813.8,112.4 1814.7,112.4 1815.6,112.4 1816.5,112.3 1817.4,112.3 1818.2,112.3 1819.1,112.1 1820.0,112.0 1820.9,112.0 1821.8,112.0 1822.7,111.9 1823.5,111.9 1824.4,111.9 1825.3,111.9 1826.2,111.9 1827.1,111.8 1828.0,111.6 1828.8,111.6 1829.7,111.6 1830.6,111.8 1831.5,112.0 1832.4,111.9 1833.2,111.7 1834.1,111.7 1835.0,111.8 1835.9,111.9 1836.8,111.9 1837.7,111.9 1838.5,112.0 1839.4,112.0 1840.3,112.0 1841.2,112.1 1842.1,112.2 1843.0,112.2 1843.8,112.2 1844.7,112.3 1845.6,112.4 1846.5,112.4 1847.4,112.3 1848.3,112.2 1849.1,112.3 1850.0,112.4 1850.9,112.4 1851.8,112.4 1852.7,112.4 1853.6,112.5 1854.4,112.6 1855.3,112.6 1856.2,112.5 1857.1,112.5 1858.0,112.6 1858.9,112.6 1859.7,112.5 1860.6,112.5 1861.5,112.6 1862.4,112.6 1863.3,112.5 1864.1,112.3 1865.0,112.3 1865.9,112.2 1866.8,112.2 1867.7,112.2 1868.6,112.2 1869.4,112.1 1870.3,112.1 1871.2,112.0 1872.1,112.1 1873.0,112.1 1873.9,112.1 1874.7,111.9 1875.6,111.9 1876.5,111.8 1877.4,111.7 1878.3,111.8 1879.2,111.9 1880.0,111.8 1880.9,111.7 1881.8,111.6 1882.7,111.7 1883.6,111.7 1884.5,111.5 1885.3,111.5 1886.2,111.7 1887.1,111.9 1888.0,111.9 1888.9,111.8 1889.8,111.8 1890.6,111.8 1891.5,111.8 1892.4,111.9 1893.3,112.0 1894.2,111.9 1895.0,112.0 1895.9,112.0 1896.8,112.1 1897.7,112.3 1898.6,112.2 1899.5,112.1 1900.3,112.2 1901.2,112.2 1902.1,112.2 1903.0,112.2 1903.9,112.3 1904.8,112.4 1905.6,112.4 1906.5,112.4 1907.4,112.4 1908.3,112.4 1909.2,112.4 1910.1,112.5 1910.9,112.4 1911.8,112.5 1912.7,112.6 1913.6,112.5 1914.5,112.5 1915.4,112.5 1916.2,112.5 1917.1,112.4 1918.0,112.5 1918.9,112.6 1919.8,112.4 1920.7,112.4 1921.5,112.5 1922.4,112.6 1923.3,112.5 1924.2,112.5 1925.1,112.6 1925.9,112.6 1926.8,112.5 1927.7,112.3 1928.6,112.3 1929.5,112.3 1930.4,112.3 1931.2,112.4 1932.1,112.5 1933.0,112.5 1933.9,112.5 1934.8,112.3 1935.7,112.1 1936.5,112.2 1937.4,112.2 1938.3,112.2 1939.2,112.1 1940.1,112.0 1941.0,112.0 1941.8,112.0 1942.7,111.9 1943.6,111.8 1944.5,111.9 1945.4,112.0 1946.3,112.0 1947.1,111.9" fill="none" stroke="#ff00ff" stroke-width="2.85" stroke-linejoin="round" stroke-linecap="round"/><rect x="1586.15" y="4.65" width="389.50" height="215.00" fill="none" stroke="#000" stroke-width="2.9" stroke-linejoin="round"/><text x="1896.75" y="40.65" font-size="31">m<tspan x="1922.65" dy="9">14</tspan></text></g>
<g><line x1="148.90" y1="364.15" x2="538.40" y2="364.15" stroke="#1a1a1a" stroke-width="1.5"/><path d="M148.90 260.90h17.7M148.90 311.90h17.7M148.90 415.10h17.7M148.90 466.10h17.7M226.80 470.75v-18M304.70 470.75v-18M382.60 470.75v-18M460.50 470.75v-18" stroke="#000" stroke-width="1.7" fill="none"/><polyline points="157.1,363.9 157.3,363.8 157.6,363.4 157.9,363.0 158.1,362.9 158.4,362.9 158.6,362.9 158.9,363.0 159.2,363.3 159.4,363.8 159.7,363.9 159.9,363.3 160.2,362.9 160.5,362.9 160.7,362.5 161.0,362.4 161.2,362.8 161.5,363.0 161.8,363.3 162.0,363.7 162.3,364.0 162.5,363.8 162.8,363.5 163.1,363.2 163.3,363.2 163.6,362.8 163.8,362.3 164.1,362.4 164.4,362.7 164.6,363.1 164.9,363.6 165.1,363.6 165.4,363.8 165.6,363.8 165.9,363.4 166.2,363.4 166.4,363.4 166.7,363.0 166.9,362.6 167.2,362.5 167.5,362.5 167.7,362.5 168.0,362.8 168.2,363.2 168.5,363.4 168.8,363.7 169.0,363.7 169.3,363.6 169.5,363.7 169.8,363.6 170.1,363.2 170.3,363.0 170.6,363.0 170.8,362.8 171.1,362.6 171.4,362.7 171.6,362.9 171.9,363.2 172.1,363.7 172.4,363.7 172.7,363.5 172.9,363.6 173.2,364.0 173.4,363.8 173.7,363.3 174.0,363.4 174.2,363.2 174.5,362.8 174.7,362.6 175.0,362.8 175.3,363.2 175.5,363.0 175.8,363.0 176.0,363.5 176.3,363.7 176.6,363.7 176.8,363.6 177.1,363.2 177.3,363.3 177.6,363.7 177.9,363.4 178.1,362.9 178.4,362.8 178.6,362.8 178.9,362.8 179.2,362.8 179.4,363.0 179.7,363.0 179.9,363.0 180.2,363.1 180.4,363.3 180.7,363.4 181.0,363.4 181.2,363.2 181.5,363.2 181.7,363.5 182.0,363.6 182.3,363.2 182.5,363.0 182.8,363.1 183.0,363.2 183.3,362.8 183.6,362.3 183.8,362.4 184.1,362.7 184.3,362.9 184.6,363.0 184.9,363.1 185.1,363.4 185.4,363.5 185.6,363.3 185.9,363.4 186.2,363.6 186.4,363.8 186.7,363.8 186.9,363.5 187.2,363.3 187.5,363.3 187.7,363.4 188.0,363.5 188.2,363.0 188.5,362.9 188.8,363.1 189.0,362.6 189.3,362.2 189.5,362.3 189.8,362.6 190.1,363.1 190.3,363.2 190.6,363.0 190.8,363.1 191.1,363.5 191.4,363.8 191.6,364.1 191.9,364.2 192.1,363.9 192.4,363.8 192.7,363.6 192.9,363.4 193.2,363.3 193.4,363.2 193.7,363.3 194.0,363.1 194.2,362.7 194.5,362.3 194.7,362.5 195.0,363.0 195.3,363.0 195.5,362.7 195.8,362.6 196.0,363.2 196.3,363.7 196.5,363.9 196.8,363.9 197.1,363.5 197.3,363.4 197.6,363.9 197.8,364.4 198.1,364.3 198.4,364.0 198.6,363.7 198.9,363.5 199.1,363.4 199.4,363.2 199.7,363.0 199.9,363.0 200.2,363.0 200.4,362.8 200.7,362.8 201.0,363.2 201.2,362.8 201.5,362.4 201.7,362.4 202.0,362.7 202.3,363.0 202.5,363.3 202.8,363.4 203.0,363.2 203.3,363.3 203.6,363.8 203.8,364.0 204.1,364.0 204.3,363.8 204.6,363.6 204.9,363.6 205.1,363.9 205.4,363.9 205.6,363.6 205.9,363.6 206.2,363.7 206.4,363.5 206.7,363.5 206.9,363.5 207.2,363.1 207.5,363.1 207.7,363.3 208.0,363.0 208.2,362.8 208.5,362.6 208.8,362.4 209.0,362.6 209.3,363.0 209.5,363.3 209.8,363.6 210.1,363.6 210.3,363.3 210.6,363.1 210.8,363.3 211.1,363.7 211.3,363.8 211.6,363.7 211.9,363.6 212.1,363.6 212.4,363.6 212.6,363.7 212.9,363.9 213.2,363.9 213.4,363.8 213.7,363.4 213.9,363.0 214.2,363.0 214.5,363.1 214.7,363.2 215.0,363.2 215.2,363.0 215.5,363.2 215.8,363.2 216.0,363.1 216.3,362.9 216.5,362.6 216.8,362.6 217.1,362.8 217.3,363.0 217.6,363.0 217.8,362.8 218.1,362.7 218.4,363.1 218.6,363.2 218.9,363.1 219.1,363.4 219.4,363.7 219.7,363.6 219.9,363.4 220.2,363.3 220.4,363.3 220.7,363.3 221.0,363.4 221.2,363.8 221.5,363.8 221.7,363.9 222.0,364.0 222.3,363.9 222.5,364.0 222.8,364.0 223.0,363.9 223.3,363.5 223.6,363.5 223.8,363.7 224.1,363.4 224.3,363.1 224.6,362.8 224.9,362.7 225.1,363.0 225.4,363.1 225.6,362.8 225.9,362.4 226.2,362.2 226.4,362.3 226.7,362.5 226.9,362.6 227.2,362.6 227.4,362.7 227.7,363.0 228.0,363.0 228.2,362.9 228.5,363.2 228.7,362.9 229.0,362.8 229.3,363.4 229.5,363.6 229.8,363.6 230.0,363.9 230.3,363.9 230.6,364.1 230.8,364.3 231.1,364.1 231.3,363.9 231.6,363.6 231.9,363.4 232.1,363.6 232.4,363.9 232.6,363.9 232.9,363.9 233.2,363.9 233.4,363.5 233.7,363.0 233.9,363.0 234.2,363.3 234.5,363.3 234.7,363.1 235.0,363.1 235.2,363.0 235.5,363.1 235.8,363.4 236.0,363.1 236.3,362.7 236.5,362.5 236.8,362.8 237.1,363.0 237.3,362.9 237.6,362.9 237.8,362.9 238.1,362.8 238.4,362.9 238.6,362.7 238.9,362.9 239.1,363.5 239.4,363.6 239.7,363.5 239.9,363.4 240.2,363.2 240.4,362.9 240.7,362.9 241.0,363.3 241.2,363.4 241.5,363.7 241.7,363.8 242.0,363.6 242.3,363.7 242.5,364.0 242.8,364.2 243.0,364.1 243.3,363.8 243.5,363.6 243.8,363.8 244.1,364.3 244.3,364.2 244.6,363.8 244.8,363.7 245.1,363.7 245.4,363.4 245.6,363.2 245.9,363.6 246.1,364.1 246.4,363.8 246.7,363.1 246.9,363.2 247.2,363.6 247.4,363.6 247.7,363.2 248.0,363.2 248.2,363.3 248.5,363.0 248.7,362.5 249.0,362.5 249.3,362.9 249.5,363.1 249.8,363.0 250.0,362.9 250.3,362.6 250.6,362.8 250.8,363.3 251.1,363.2 251.3,363.3 251.6,363.3 251.9,362.9 252.1,363.0 252.4,363.2 252.6,363.1 252.9,363.3 253.2,363.4 253.4,363.4 253.7,363.4 253.9,363.4 254.2,363.8 254.5,363.7 254.7,363.3 255.0,363.5 255.2,363.6 255.5,363.4 255.8,363.7 256.0,364.2 256.3,364.1 256.5,363.8 256.8,363.8 257.1,364.1 257.3,364.1 257.6,364.0 257.8,364.0 258.1,363.8 258.3,363.7 258.6,363.6 258.9,363.5 259.1,363.5 259.4,363.6 259.6,363.9 259.9,363.9 260.2,363.6 260.4,363.6 260.7,363.6 260.9,363.3 261.2,362.9 261.5,362.9 261.7,363.1 262.0,363.3 262.2,363.2 262.5,363.1 262.8,362.9 263.0,362.8 263.3,362.9 263.5,362.8 263.8,362.3 264.1,362.4 264.3,363.0 264.6,363.0 264.8,362.8 265.1,362.7 265.4,362.7 265.6,362.9 265.9,363.2 266.1,363.1 266.4,363.0 266.7,363.0 266.9,363.4 267.2,363.7 267.4,363.3 267.7,362.9 268.0,362.9 268.2,362.8 268.5,363.2 268.7,363.7 269.0,363.6 269.3,363.3 269.5,363.2 269.8,363.2 270.0,363.3 270.3,363.4 270.6,363.8 270.8,363.9 271.1,363.5 271.3,363.3 271.6,363.8 271.9,364.1 272.1,363.9 272.4,363.6 272.6,363.8 272.9,364.1 273.2,364.0 273.4,363.5 273.7,363.4 273.9,363.6 274.2,363.5 274.4,363.3 274.7,363.1 275.0,363.6 275.2,364.1 275.5,363.9 275.7,363.5 276.0,363.8 276.3,363.9 276.5,363.4 276.8,363.5 277.0,363.6 277.3,363.4 277.6,363.4 277.8,362.8 278.1,362.4 278.3,362.8 278.6,363.2 278.9,363.4 279.1,363.0 279.4,362.4 279.6,362.5 279.9,362.8 280.2,363.0 280.4,363.1 280.7,362.8 280.9,362.8 281.2,362.8 281.5,363.0 281.7,363.0 282.0,363.2 282.2,363.3 282.5,362.9 282.8,362.7 283.0,363.0 283.3,363.1 283.5,362.9 283.8,362.6 284.1,362.9 284.3,363.4 284.6,362.9 284.8,362.3 285.1,362.3 285.4,362.3 285.6,362.5 285.9,362.8 286.1,363.0 286.4,363.1 286.7,362.9 286.9,362.5 287.2,362.6 287.4,363.2 287.7,363.3 288.0,363.0 288.2,363.2 288.5,363.5 288.7,363.4 289.0,363.5 289.2,363.9 289.5,364.0 289.8,363.9 290.0,363.5 290.3,363.4 290.5,363.4 290.8,363.5 291.1,363.7 291.3,363.7 291.6,364.0 291.8,364.2 292.1,364.0 292.4,363.9 292.6,363.9 292.9,363.9 293.1,363.8 293.4,363.8 293.7,363.6 293.9,363.3 294.2,363.1 294.4,363.2 294.7,363.7 295.0,363.9 295.2,363.7 295.5,363.7 295.7,363.7 296.0,363.5 296.3,363.4 296.5,363.2 296.8,362.9 297.0,363.1 297.3,363.3 297.6,363.1 297.8,363.0 298.1,363.1 298.3,363.1 298.6,363.4 298.9,363.6 299.1,363.2 299.4,363.0 299.6,363.3 299.9,363.6 300.2,363.3 300.4,362.8 300.7,362.6 300.9,362.7 301.2,362.7 301.5,362.4 301.7,362.3 302.0,362.6 302.2,362.7 302.5,362.4 302.8,362.4 303.0,363.1 303.3,363.3 303.5,362.8 303.8,362.3 304.1,362.6 304.3,363.2 304.6,363.0 304.8,362.7 305.1,362.7 305.3,362.9 305.6,363.2 305.9,363.0 306.1,362.7 306.4,362.8 306.6,362.8 306.9,362.9 307.2,363.0 307.4,363.0 307.7,363.0 307.9,362.7 308.2,362.6 308.5,363.1 308.7,363.4 309.0,363.4 309.2,363.5 309.5,363.4 309.8,363.1 310.0,363.2 310.3,363.2 310.5,363.5 310.8,364.3 311.1,364.2 311.3,363.5 311.6,363.2 311.8,363.4 312.1,363.7 312.4,363.8 312.6,363.7 312.9,363.5 313.1,363.2 313.4,363.1 313.7,363.7 313.9,364.2 314.2,363.9 314.4,363.5 314.7,363.5 315.0,363.5 315.2,363.9 315.5,364.1 315.7,363.8 316.0,363.9 316.3,364.1 316.5,364.1 316.8,364.1 317.0,364.0 317.3,364.0 317.6,363.8 317.8,363.6 318.1,363.8 318.3,363.6 318.6,363.5 318.9,363.8 319.1,363.9 319.4,363.5 319.6,363.3 319.9,363.6 320.2,363.8 320.4,363.6 320.7,363.5 320.9,363.4 321.2,363.4 321.4,363.2 321.7,363.2 322.0,363.2 322.2,362.9 322.5,362.7 322.7,362.7 323.0,362.9 323.3,362.9 323.5,363.0 323.8,363.2 324.0,363.4 324.3,363.4 324.6,363.0 324.8,362.8 325.1,363.1 325.3,363.0 325.6,362.7 325.9,362.8 326.1,362.9 326.4,362.8 326.6,363.0 326.9,363.2 327.2,363.3 327.4,363.3 327.7,363.2 327.9,362.9 328.2,362.9 328.5,363.1 328.7,363.3 329.0,362.9 329.2,362.6 329.5,362.8 329.8,362.9 330.0,362.7 330.3,362.7 330.5,362.8 330.7,362.8 331.5,362.9 332.4,362.8 333.3,362.7 334.2,362.8 335.1,363.0 336.0,363.0 336.8,363.1 337.7,363.3 338.6,363.4 339.5,363.4 340.4,363.4 341.3,363.6 342.1,363.8 343.0,363.8 343.9,363.7 344.8,363.8 345.7,363.7 346.6,363.6 347.4,363.7 348.3,363.7 349.2,363.7 350.1,363.6 351.0,363.6 351.9,363.5 352.7,363.4 353.6,363.3 354.5,363.2 355.4,363.2 356.3,363.1 357.2,363.0 358.0,362.9 358.9,362.7 359.8,362.7 360.7,362.7 361.6,362.6 362.4,362.7 363.3,362.8 364.2,362.9 365.1,362.9 366.0,362.8 366.9,362.8 367.7,362.8 368.6,363.0 369.5,363.0 370.4,362.9 371.3,362.9 372.2,363.1 373.0,363.1 373.9,363.1 374.8,363.3 375.7,363.4 376.6,363.4 377.5,363.4 378.3,363.5 379.2,363.6 380.1,363.6 381.0,363.6 381.9,363.7 382.8,363.8 383.6,363.8 384.5,363.8 385.4,363.8 386.3,363.8 387.2,363.8 388.1,363.8 388.9,363.7 389.8,363.6 390.7,363.5 391.6,363.5 392.5,363.4 393.4,363.3 394.2,363.3 395.1,363.3 396.0,363.3 396.9,363.2 397.8,363.0 398.6,363.0 399.5,363.1 400.4,363.0 401.3,362.8 402.2,362.7 403.1,362.7 403.9,362.8 404.8,362.8 405.7,362.8 406.6,362.8 407.5,362.8 408.4,362.9 409.2,363.0 410.1,362.9 411.0,362.8 411.9,362.8 412.8,362.8 413.7,362.9 414.5,363.0 415.4,363.0 416.3,363.0 417.2,363.1 418.1,363.2 419.0,363.1 419.8,363.2 420.7,363.3 421.6,363.1 422.5,363.1 423.4,363.3 424.3,363.3 425.1,363.3 426.0,363.4 426.9,363.4 427.8,363.5 428.7,363.5 429.5,363.6 430.4,363.7 431.3,363.8 432.2,363.8 433.1,363.7 434.0,363.7 434.8,363.8 435.7,363.8 436.6,363.7 437.5,363.7 438.4,363.6 439.3,363.7 440.1,363.6 441.0,363.5 441.9,363.6 442.8,363.7 443.7,363.6 444.6,363.5 445.4,363.5 446.3,363.5 447.2,363.3 448.1,363.4 449.0,363.5 449.9,363.4 450.7,363.3 451.6,363.1 452.5,363.1 453.4,363.1 454.3,363.1 455.2,363.0 456.0,362.9 456.9,362.9 457.8,362.9 458.7,362.9 459.6,362.9 460.4,363.0 461.3,362.9 462.2,362.8 463.1,362.7 464.0,362.6 464.9,362.7 465.7,362.8 466.6,362.7 467.5,362.6 468.4,362.6 469.3,362.6 470.2,362.6 471.0,362.6 471.9,362.8 472.8,363.0 473.7,363.0 474.6,363.0 475.5,362.9 476.3,362.9 477.2,362.9 478.1,362.9 479.0,362.9 479.9,362.8 480.8,363.0 481.6,363.2 482.5,363.1 483.4,363.0 484.3,363.0 485.2,363.1 486.1,363.2 486.9,363.2 487.8,363.2 488.7,363.3 489.6,363.5 490.5,363.5 491.3,363.5 492.2,363.5 493.1,363.5 494.0,363.4 494.9,363.5 495.8,363.5 496.6,363.6 497.5,363.7 498.4,363.7 499.3,363.7 500.2,363.7 501.1,363.7 501.9,363.8 502.8,363.8 503.7,363.8 504.6,363.8 505.5,363.8 506.4,363.8 507.2,363.8 508.1,363.8 509.0,363.8 509.9,363.9" fill="none" stroke="#ff00ff" stroke-width="2.85" stroke-linejoin="round" stroke-linecap="round"/><rect x="148.90" y="255.75" width="389.50" height="215.00" fill="none" stroke="#000" stroke-width="2.9" stroke-linejoin="round"/><text x="459.50" y="291.75" font-size="31">m<tspan x="485.40" dy="9">21</tspan></text><text x="138.50" y="269.75" font-size="31" text-anchor="end">1.0</text><text x="138.50" y="321.00" font-size="31" text-anchor="end">0.5</text><text x="138.50" y="372.25" font-size="31" text-anchor="end">0.0</text><text x="138.50" y="423.50" font-size="31" text-anchor="end">-0.5</text><text x="138.50" y="474.75" font-size="31" text-anchor="end">-1.0</text></g>
<g><line x1="627.80" y1="364.15" x2="1017.30" y2="364.15" stroke="#1a1a1a" stroke-width="1.5"/><path d="M627.80 260.90h17.7M627.80 311.90h17.7M627.80 415.10h17.7M627.80 466.10h17.7M705.70 470.75v-18M783.60 470.75v-18M861.50 470.75v-18M939.40 470.75v-18" stroke="#000" stroke-width="1.7" fill="none"/><polyline points="636.0,409.9 636.2,417.6 636.5,400.0 636.8,364.4 637.0,323.1 637.3,290.3 637.5,277.7 637.8,289.7 638.1,321.8 638.3,362.6 638.6,399.0 638.8,419.3 639.1,416.4 639.4,392.0 639.6,354.6 639.9,315.6 640.1,286.6 640.4,275.7 640.7,286.8 640.9,316.4 641.2,354.8 641.4,391.7 641.7,417.0 642.0,422.9 642.2,408.6 642.5,378.5 642.7,340.5 643.0,304.5 643.3,279.8 643.5,273.1 643.8,285.6 644.0,313.3 644.3,349.7 644.5,386.3 644.8,413.7 645.1,425.5 645.3,419.1 645.6,396.4 645.8,363.2 646.1,327.2 646.4,295.8 646.6,276.0 646.9,271.9 647.1,284.0 647.4,309.7 647.7,343.6 647.9,378.6 648.2,407.1 648.4,423.5 648.7,425.1 649.0,411.7 649.2,386.2 649.5,353.4 649.7,319.7 650.0,291.4 650.3,273.4 650.5,269.6 650.8,280.2 651.0,302.7 651.3,333.2 651.6,366.4 651.8,396.5 652.1,418.4 652.3,429.1 652.6,426.2 652.9,409.9 653.1,384.0 653.4,352.7 653.6,321.6 653.9,294.7 654.2,275.6 654.4,267.9 654.7,272.5 654.9,288.3 655.2,313.4 655.5,343.7 655.7,374.2 656.0,400.9 656.2,420.0 656.5,429.2 656.8,427.6 657.0,415.4 657.3,394.1 657.5,366.5 657.8,336.6 658.1,308.6 658.3,285.6 658.6,270.9 658.8,266.3 659.1,272.2 659.3,287.4 659.6,309.8 659.9,336.8 660.1,365.1 660.4,391.5 660.6,413.1 660.9,426.9 661.2,431.8 661.4,427.1 661.7,413.3 661.9,392.6 662.2,367.1 662.5,340.0 662.7,313.7 663.0,291.1 663.2,275.2 663.5,266.6 663.8,266.3 664.0,275.3 664.3,291.7 664.5,313.6 664.8,338.5 665.1,364.3 665.3,389.0 665.6,410.0 665.8,424.7 666.1,432.1 666.4,431.7 666.6,423.7 666.9,409.3 667.1,389.3 667.4,365.4 667.7,340.4 667.9,316.4 668.2,295.2 668.4,278.5 668.7,268.1 669.0,264.5 669.2,267.7 669.5,277.8 669.7,294.1 670.0,314.6 670.3,337.6 670.5,361.6 670.8,384.1 671.0,403.5 671.3,419.0 671.6,429.5 671.8,433.8 672.1,431.1 672.3,422.5 672.6,408.3 672.9,389.8 673.1,368.9 673.4,346.7 673.6,324.2 673.9,303.5 674.2,286.1 674.4,273.2 674.7,265.4 674.9,263.5 675.2,267.5 675.4,276.9 675.7,291.0 676.0,309.0 676.2,329.2 676.5,350.6 676.7,371.5 677.0,390.8 677.3,407.9 677.5,421.0 677.8,430.2 678.0,434.5 678.3,432.5 678.6,426.0 678.8,415.2 679.1,400.4 679.3,383.0 679.6,363.2 679.9,342.0 680.1,321.4 680.4,303.1 680.6,287.8 680.9,275.5 681.2,267.3 681.4,263.5 681.7,264.1 681.9,269.4 682.2,278.9 682.5,291.9 682.7,307.8 683.0,325.3 683.2,344.4 683.5,363.8 683.8,382.0 684.0,398.6 684.3,413.0 684.5,423.9 684.8,431.1 685.1,434.7 685.3,433.9 685.6,428.4 685.8,420.1 686.1,409.0 686.4,394.0 686.6,377.6 686.9,360.2 687.1,341.1 687.4,322.9 687.7,306.9 687.9,292.7 688.2,280.3 688.4,270.9 688.7,265.0 689.0,262.3 689.2,263.6 689.5,268.9 689.7,277.0 690.0,288.0 690.2,301.6 690.5,316.5 690.8,332.4 691.0,350.2 691.3,367.9 691.5,384.1 691.8,398.9 692.1,411.6 692.3,421.9 692.6,429.7 692.8,434.4 693.1,435.6 693.4,433.7 693.6,428.7 693.9,420.2 694.1,409.8 694.4,397.5 694.7,383.2 694.9,367.5 695.2,351.6 695.4,335.7 695.7,320.0 696.0,304.8 696.2,291.5 696.5,281.0 696.7,272.9 697.0,266.5 697.3,262.4 697.5,261.6 697.8,264.0 698.0,269.0 698.3,276.3 698.6,285.7 698.8,297.5 699.1,311.3 699.3,325.6 699.6,340.4 699.9,355.6 700.1,370.6 700.4,384.8 700.6,397.6 700.9,409.3 701.2,419.0 701.4,426.4 701.7,432.2 701.9,435.5 702.2,435.7 702.5,433.4 702.7,429.1 703.0,422.9 703.2,414.2 703.5,403.1 703.8,391.2 704.0,378.7 704.3,365.1 704.5,351.1 704.8,337.2 705.1,323.7 705.3,310.4 705.6,297.9 705.8,287.5 706.1,278.5 706.3,271.1 706.6,266.1 706.9,262.6 707.1,261.5 707.4,263.0 707.6,266.5 707.9,271.6 708.2,278.3 708.4,287.0 708.7,297.9 708.9,309.8 709.2,321.9 709.5,334.6 709.7,347.6 710.0,360.5 710.2,373.3 710.5,385.5 710.8,397.0 711.0,408.0 711.3,417.2 711.5,424.2 711.8,429.5 712.1,433.4 712.3,435.5 712.6,435.7 712.8,434.2 713.1,430.9 713.4,426.0 713.6,419.6 713.9,412.0 714.1,402.6 714.4,391.7 714.7,380.1 714.9,368.0 715.2,356.1 715.4,344.2 715.7,331.9 716.0,319.6 716.2,307.8 716.5,297.4 716.7,288.3 717.0,280.4 717.3,273.7 717.5,268.0 717.8,263.9 718.0,261.7 718.3,261.2 718.6,262.4 718.8,264.9 719.1,269.0 719.3,274.1 719.6,280.2 719.9,288.3 720.1,297.9 720.4,307.9 720.6,318.3 720.9,329.6 721.2,341.0 721.4,352.1 721.7,363.5 721.9,374.9 722.2,385.4 722.4,395.1 722.7,404.1 723.0,412.2 723.2,419.5 723.5,425.5 723.7,430.3 724.0,433.9 724.3,436.3 724.5,436.9 724.8,435.8 725.0,433.5 725.3,430.3 725.6,425.9 725.8,420.0 726.1,412.8 726.3,404.6 726.6,395.3 726.9,385.9 727.1,376.6 727.4,366.5 727.6,356.2 727.9,345.8 728.2,335.1 728.4,324.4 728.7,314.3 728.9,305.2 729.2,296.6 729.5,288.1 729.7,280.3 730.0,274.5 730.2,270.4 730.5,266.7 730.8,263.8 731.0,262.1 731.3,261.4 731.5,261.9 731.8,263.8 732.1,266.9 732.3,270.7 732.6,275.4 732.8,281.0 733.1,287.8 733.4,295.9 733.6,304.8 733.9,314.0 734.1,322.9 734.4,332.0 734.7,341.7 734.9,351.5 735.2,361.2 735.4,370.2 735.7,379.5 736.0,388.5 736.2,396.7 736.5,404.5 736.7,411.6 737.0,417.4 737.2,422.7 737.5,427.7 737.8,431.5 738.0,434.0 738.3,435.8 738.5,436.6 738.8,436.0 739.1,434.6 739.3,432.6 739.6,429.4 739.8,424.6 740.1,419.4 740.4,414.4 740.6,408.3 740.9,401.3 741.1,394.0 741.4,386.0 741.7,377.4 741.9,368.6 742.2,359.7 742.4,350.6 742.7,341.3 743.0,332.5 743.2,323.9 743.5,315.5 743.7,307.4 744.0,299.6 744.3,292.5 744.5,286.3 744.8,281.0 745.0,276.2 745.3,271.6 745.6,267.8 745.8,265.2 746.1,263.2 746.3,262.0 746.6,261.5 746.9,261.8 747.1,263.0 747.4,265.1 747.6,268.2 747.9,271.9 748.2,276.3 748.4,281.2 748.7,286.7 748.9,292.7 749.2,299.2 749.5,306.3 749.7,314.0 750.0,321.7 750.2,329.4 750.5,337.8 750.8,346.3 751.0,354.0 751.3,361.7 751.5,369.3 751.8,377.1 752.1,385.0 752.3,392.3 752.6,399.3 752.8,406.3 753.1,412.2 753.3,416.7 753.6,421.1 753.9,425.8 754.1,429.5 754.4,432.0 754.6,434.1 754.9,436.2 755.2,437.4 755.4,437.1 755.7,435.5 755.9,433.9 756.2,432.4 756.5,430.0 756.7,426.8 757.0,422.8 757.2,418.3 757.5,413.4 757.8,408.3 758.0,402.8 758.3,396.6 758.5,389.4 758.8,382.1 759.1,375.5 759.3,368.7 759.6,361.2 759.8,353.0 760.1,345.0 760.4,338.1 760.6,331.4 760.9,324.0 761.1,316.4 761.4,309.2 761.7,302.8 761.9,297.1 762.2,291.4 762.4,286.0 762.7,281.3 763.0,277.0 763.2,272.9 763.5,269.5 763.7,266.6 764.0,264.1 764.3,262.6 764.5,261.4 764.8,260.5 765.0,260.7 765.3,261.6 765.6,262.8 765.8,264.1 766.1,266.5 766.3,269.8 766.6,272.7 766.9,276.2 767.1,280.8 767.4,285.3 767.6,290.2 767.9,295.7 768.1,300.9 768.4,307.0 768.7,313.7 768.9,320.0 769.2,326.2 769.4,333.2 769.7,340.3 770.0,346.9 770.2,353.5 770.5,360.3 770.7,367.0 771.0,373.4 771.3,379.3 771.5,385.4 771.8,391.4 772.0,397.2 772.3,403.1 772.6,408.3 772.8,412.6 773.1,416.6 773.3,421.0 773.6,424.7 773.9,427.7 774.1,430.8 774.4,433.1 774.6,434.4 774.9,435.5 775.2,436.6 775.4,437.2 775.7,436.4 775.9,435.1 776.2,434.1 776.5,433.0 776.7,431.3 777.0,429.2 777.2,426.3 777.5,423.0 777.8,419.2 778.0,415.3 778.3,411.5 778.5,407.3 778.8,402.3 779.1,396.1 779.3,390.4 779.6,385.7 779.8,380.2 780.1,374.1 780.4,368.2 780.6,361.9 780.9,355.8 781.1,349.7 781.4,343.2 781.7,337.3 781.9,331.4 782.2,325.3 782.4,319.7 782.7,314.3 783.0,308.8 783.2,303.8 783.5,298.9 783.7,293.6 784.0,289.1 784.2,285.6 784.5,281.7 784.8,277.5 785.0,274.1 785.3,271.2 785.5,268.5 785.8,266.2 786.1,264.4 786.3,262.9 786.6,261.5 786.8,260.5 787.1,260.8 787.4,261.2 787.6,261.3 787.9,262.2 788.1,263.7 788.4,265.2 788.7,267.0 788.9,269.6 789.2,272.3 789.4,274.7 789.7,277.6 790.0,281.5 790.2,285.2 790.5,288.5 790.7,292.8 791.0,298.0 791.3,302.4 791.5,306.8 791.8,312.3 792.0,317.8 792.3,323.0 792.6,328.6 792.8,334.2 793.1,339.7 793.3,345.7 793.6,351.5 793.9,356.5 794.1,361.5 794.4,366.7 794.6,372.2 794.9,377.6 795.2,382.5 795.4,386.7 795.7,390.9 795.9,395.8 796.2,400.7 796.5,404.7 796.7,408.8 797.0,413.1 797.2,416.9 797.5,420.3 797.8,423.7 798.0,426.5 798.3,428.4 798.5,430.5 798.8,432.6 799.1,433.7 799.3,434.5 799.6,435.7 799.8,435.9 800.1,435.6 800.3,435.4 800.6,435.7 800.9,436.1 801.1,435.1 801.4,433.9 801.6,432.8 801.9,430.8 802.2,428.7 802.4,427.0 802.7,424.5 802.9,421.0 803.2,417.3 803.5,414.0 803.7,410.8 804.0,407.4 804.2,403.6 804.5,399.2 804.8,394.8 805.0,390.6 805.3,386.3 805.5,382.2 805.8,378.1 806.1,373.0 806.3,367.5 806.6,362.5 806.8,357.8 807.1,352.9 807.4,348.0 807.6,343.3 807.9,338.6 808.1,333.7 808.4,328.8 808.7,324.1 808.9,319.4 809.2,314.6 809.4,310.4 809.6,308.5 810.4,294.7 811.3,282.8 812.2,273.3 813.1,266.4 814.0,262.3 814.9,261.0 815.7,262.4 816.6,266.5 817.5,273.1 818.4,282.1 819.3,293.1 820.2,305.6 821.0,319.1 821.9,333.3 822.8,348.0 823.7,362.8 824.6,377.1 825.5,390.4 826.3,402.5 827.2,413.1 828.1,422.0 829.0,428.9 829.9,433.7 830.8,436.3 831.6,436.7 832.5,435.0 833.4,431.1 834.3,425.2 835.2,417.4 836.1,408.1 836.9,397.6 837.8,386.0 838.7,373.6 839.6,360.8 840.5,347.8 841.3,335.0 842.2,322.5 843.1,310.5 844.0,299.6 844.9,289.8 845.8,281.1 846.6,273.8 847.5,268.0 848.4,263.9 849.3,261.4 850.2,260.8 851.1,262.0 851.9,264.7 852.8,268.8 853.7,274.4 854.6,281.3 855.5,289.4 856.4,298.7 857.2,308.7 858.1,319.2 859.0,330.2 859.9,341.6 860.8,352.9 861.7,364.1 862.5,375.1 863.4,385.5 864.3,395.3 865.2,404.3 866.1,412.5 867.0,419.5 867.8,425.3 868.7,430.1 869.6,433.6 870.5,435.8 871.4,436.7 872.3,436.4 873.1,434.6 874.0,431.8 874.9,427.8 875.8,422.8 876.7,416.9 877.5,410.2 878.4,402.6 879.3,394.2 880.2,385.4 881.1,376.1 882.0,366.4 882.8,356.5 883.7,346.7 884.6,337.1 885.5,327.5 886.4,318.2 887.3,309.4 888.1,301.1 889.0,293.4 889.9,286.4 890.8,280.1 891.7,274.5 892.6,269.9 893.4,266.3 894.3,263.8 895.2,262.0 896.1,261.0 897.0,261.0 897.9,262.0 898.7,264.0 899.6,266.7 900.5,270.2 901.4,274.5 902.3,279.5 903.2,285.4 904.0,291.9 904.9,298.9 905.8,306.1 906.7,313.7 907.6,321.7 908.4,330.0 909.3,338.4 910.2,346.6 911.1,355.0 912.0,363.3 912.9,371.3 913.7,379.2 914.6,386.9 915.5,394.1 916.4,400.8 917.3,407.2 918.2,413.0 919.0,418.2 919.9,422.8 920.8,426.9 921.7,430.4 922.6,432.9 923.5,434.8 924.3,436.0 925.2,436.6 926.1,436.6 927.0,436.0 927.9,434.7 928.8,432.6 929.6,430.0 930.5,426.8 931.4,423.0 932.3,418.7 933.2,414.0 934.1,408.9 934.9,403.4 935.8,397.4 936.7,391.1 937.6,384.5 938.5,377.9 939.3,371.0 940.2,364.0 941.1,356.9 942.0,349.8 942.9,342.8 943.8,335.7 944.6,328.8 945.5,322.0 946.4,315.7 947.3,309.5 948.2,303.5 949.1,297.8 949.9,292.2 950.8,287.1 951.7,282.7 952.6,278.6 953.5,274.6 954.4,271.3 955.2,268.5 956.1,266.0 957.0,264.1 957.9,262.6 958.8,261.5 959.7,260.9 960.5,260.7 961.4,261.0 962.3,261.9 963.2,263.3 964.1,265.1 965.0,267.5 965.8,270.2 966.7,273.2 967.6,276.7 968.5,280.7 969.4,285.1 970.2,289.6 971.1,294.4 972.0,299.4 972.9,304.8 973.8,310.5 974.7,316.3 975.5,322.2 976.4,328.2 977.3,334.3 978.2,340.5 979.1,346.8 980.0,353.1 980.8,359.2 981.7,365.5 982.6,371.8 983.5,377.7 984.4,383.3 985.3,389.0 986.1,394.5 987.0,399.7 987.9,404.5 988.8,409.0" fill="none" stroke="#ff00ff" stroke-width="2.85" stroke-linejoin="round" stroke-linecap="round"/><rect x="627.80" y="255.75" width="389.50" height="215.00" fill="none" stroke="#000" stroke-width="2.9" stroke-linejoin="round"/><text x="938.40" y="291.75" font-size="31">m<tspan x="964.30" dy="9">22</tspan></text></g>
<g><line x1="1107.00" y1="364.15" x2="1496.50" y2="364.15" stroke="#1a1a1a" stroke-width="1.5"/><path d="M1107.00 260.90h17.7M1107.00 311.90h17.7M1107.00 415.10h17.7M1107.00 466.10h17.7M1184.90 470.75v-18M1262.80 470.75v-18M1340.70 470.75v-18M1418.60 470.75v-18" stroke="#000" stroke-width="1.7" fill="none"/><polyline points="1115.2,425.5 1115.4,428.9 1115.7,421.7 1116.0,406.8 1116.2,389.6 1116.5,376.2 1116.7,371.1 1117.0,375.8 1117.3,389.1 1117.5,406.3 1117.8,421.3 1118.0,429.2 1118.3,428.0 1118.6,418.1 1118.8,402.4 1119.1,386.2 1119.3,374.1 1119.6,369.8 1119.9,374.6 1120.1,387.0 1120.4,403.0 1120.6,417.9 1120.9,427.9 1121.2,430.6 1121.4,424.7 1121.7,412.4 1121.9,397.1 1122.2,382.2 1122.5,372.1 1122.7,369.4 1123.0,374.4 1123.2,385.8 1123.5,400.6 1123.7,415.5 1124.0,426.8 1124.3,431.6 1124.5,429.0 1124.8,420.0 1125.0,406.4 1125.3,391.1 1125.6,378.3 1125.8,370.4 1126.1,368.3 1126.3,373.2 1126.6,384.1 1126.9,398.2 1127.1,412.8 1127.4,424.7 1127.6,431.5 1127.9,432.1 1128.2,426.7 1128.4,416.1 1128.7,402.3 1128.9,388.3 1129.2,376.6 1129.5,369.4 1129.7,367.8 1130.0,372.0 1130.2,381.3 1130.5,394.4 1130.8,408.4 1131.0,420.6 1131.3,429.5 1131.5,433.7 1131.8,432.0 1132.1,425.6 1132.3,415.1 1132.6,401.8 1132.8,388.6 1133.1,377.6 1133.4,369.9 1133.6,367.0 1133.9,369.2 1134.1,375.9 1134.4,385.8 1134.7,398.0 1134.9,410.8 1135.2,421.9 1135.4,429.9 1135.7,433.7 1136.0,432.7 1136.2,427.6 1136.5,418.9 1136.7,407.3 1137.0,394.9 1137.3,383.3 1137.5,373.9 1137.8,368.0 1138.0,366.4 1138.3,368.8 1138.5,375.1 1138.8,384.4 1139.1,395.9 1139.3,408.0 1139.6,418.7 1139.8,427.1 1140.1,432.3 1140.4,433.9 1140.6,432.0 1140.9,426.6 1141.1,418.4 1141.4,407.9 1141.7,396.2 1141.9,385.3 1142.2,376.3 1142.4,369.7 1142.7,365.9 1143.0,365.8 1143.2,369.6 1143.5,376.2 1143.7,385.3 1144.0,396.0 1144.3,406.9 1144.5,417.1 1144.8,426.0 1145.0,432.2 1145.3,435.1 1145.6,434.6 1145.8,431.0 1146.1,425.0 1146.3,417.0 1146.6,407.5 1146.9,397.0 1147.1,386.7 1147.4,378.0 1147.6,371.4 1147.9,367.0 1148.2,365.5 1148.4,366.8 1148.7,370.6 1148.9,377.2 1149.2,386.0 1149.5,395.6 1149.7,405.3 1150.0,414.7 1150.2,423.4 1150.5,429.9 1150.8,433.6 1151.0,435.0 1151.3,434.0 1151.5,430.6 1151.8,425.1 1152.1,417.5 1152.3,408.6 1152.6,399.4 1152.8,390.3 1153.1,381.7 1153.4,374.5 1153.6,368.9 1153.9,365.5 1154.1,364.9 1154.4,366.5 1154.6,370.3 1154.9,376.1 1155.2,383.3 1155.4,391.5 1155.7,400.7 1155.9,409.6 1156.2,417.8 1156.5,425.1 1156.7,430.8 1157.0,434.6 1157.2,436.0 1157.5,434.9 1157.8,432.0 1158.0,427.5 1158.3,421.6 1158.5,414.5 1158.8,406.4 1159.1,398.1 1159.3,389.6 1159.6,381.8 1159.8,375.0 1160.1,370.0 1160.4,366.7 1160.6,364.9 1160.9,365.0 1161.1,367.2 1161.4,371.3 1161.7,376.6 1161.9,383.2 1162.2,390.8 1162.4,398.4 1162.7,406.0 1163.0,413.5 1163.2,420.6 1163.5,427.1 1163.7,432.2 1164.0,435.0 1164.3,436.0 1164.5,435.3 1164.8,432.9 1165.0,429.6 1165.3,424.9 1165.6,418.9 1165.8,412.3 1166.1,405.1 1166.3,397.5 1166.6,390.1 1166.9,382.9 1167.1,376.4 1167.4,371.4 1167.6,368.0 1167.9,365.8 1168.2,364.5 1168.4,364.9 1168.7,366.9 1168.9,370.3 1169.2,374.8 1169.4,380.4 1169.7,387.1 1170.0,394.0 1170.2,400.9 1170.5,407.8 1170.7,414.6 1171.0,421.1 1171.3,426.1 1171.5,430.3 1171.8,433.8 1172.0,435.7 1172.3,436.0 1172.6,435.2 1172.8,433.4 1173.1,430.2 1173.3,425.8 1173.6,420.3 1173.9,414.2 1174.1,407.9 1174.4,401.3 1174.6,394.9 1174.9,388.4 1175.2,382.2 1175.4,377.0 1175.7,372.5 1175.9,368.6 1176.2,365.9 1176.5,364.7 1176.7,364.7 1177.0,365.6 1177.2,367.5 1177.5,370.4 1177.8,374.4 1178.0,379.2 1178.3,384.6 1178.5,390.5 1178.8,396.4 1179.1,402.7 1179.3,409.2 1179.6,415.3 1179.8,420.8 1180.1,425.7 1180.4,429.8 1180.6,433.0 1180.9,434.9 1181.1,436.0 1181.4,436.2 1181.7,435.3 1181.9,433.6 1182.2,431.0 1182.4,427.2 1182.7,422.7 1183.0,417.9 1183.2,412.8 1183.5,407.4 1183.7,401.4 1184.0,395.5 1184.3,389.7 1184.5,384.1 1184.8,379.4 1185.0,375.1 1185.3,371.0 1185.5,367.6 1185.8,365.4 1186.1,364.2 1186.3,363.9 1186.6,364.6 1186.8,366.1 1187.1,368.5 1187.4,371.5 1187.6,375.0 1187.9,379.3 1188.1,383.8 1188.4,388.4 1188.7,394.1 1188.9,399.7 1189.2,404.6 1189.4,409.7 1189.7,415.2 1190.0,420.4 1190.2,424.4 1190.5,427.8 1190.7,430.8 1191.0,433.7 1191.3,436.0 1191.5,436.7 1191.8,436.4 1192.0,435.5 1192.3,433.8 1192.6,431.9 1192.8,429.6 1193.1,426.1 1193.3,421.9 1193.6,417.5 1193.9,413.2 1194.1,408.5 1194.4,403.4 1194.6,398.0 1194.9,392.9 1195.2,388.2 1195.4,383.5 1195.7,378.9 1195.9,375.4 1196.2,372.3 1196.5,369.1 1196.7,366.7 1197.0,365.1 1197.2,364.1 1197.5,364.1 1197.8,364.8 1198.0,365.8 1198.3,367.2 1198.5,369.3 1198.8,372.2 1199.1,375.5 1199.3,379.1 1199.6,383.1 1199.8,387.7 1200.1,392.4 1200.4,396.8 1200.6,401.3 1200.9,406.4 1201.1,411.3 1201.4,415.8 1201.6,420.1 1201.9,423.8 1202.2,426.8 1202.4,429.9 1202.7,432.4 1202.9,434.0 1203.2,435.4 1203.5,436.6 1203.7,436.9 1204.0,436.3 1204.2,435.3 1204.5,434.2 1204.8,432.7 1205.0,430.1 1205.3,426.9 1205.5,423.4 1205.8,420.1 1206.1,416.3 1206.3,411.6 1206.6,407.3 1206.8,403.5 1207.1,399.3 1207.4,394.5 1207.6,390.1 1207.9,386.1 1208.1,382.0 1208.4,378.2 1208.7,375.1 1208.9,372.2 1209.2,369.5 1209.4,367.2 1209.7,366.0 1210.0,365.3 1210.2,364.7 1210.5,364.4 1210.7,364.4 1211.0,364.8 1211.3,366.1 1211.5,368.4 1211.8,370.7 1212.0,372.9 1212.3,375.4 1212.6,378.7 1212.8,382.5 1213.1,386.0 1213.3,389.4 1213.6,393.0 1213.9,397.1 1214.1,401.3 1214.4,405.4 1214.6,409.5 1214.9,413.5 1215.2,417.2 1215.4,420.3 1215.7,423.2 1215.9,426.2 1216.2,428.8 1216.4,431.1 1216.7,433.4 1217.0,435.0 1217.2,435.9 1217.5,436.3 1217.7,436.5 1218.0,436.4 1218.3,436.1 1218.5,435.5 1218.8,434.3 1219.0,432.4 1219.3,430.1 1219.6,428.0 1219.8,425.2 1220.1,421.9 1220.3,418.9 1220.6,415.6 1220.9,411.7 1221.1,408.0 1221.4,404.5 1221.6,401.0 1221.9,397.6 1222.2,393.8 1222.4,390.0 1222.7,386.9 1222.9,383.6 1223.2,380.4 1223.5,377.6 1223.7,374.7 1224.0,372.1 1224.2,370.2 1224.5,368.3 1224.8,366.8 1225.0,365.8 1225.3,365.0 1225.5,364.2 1225.8,363.9 1226.1,364.1 1226.3,364.8 1226.6,365.6 1226.8,366.6 1227.1,368.2 1227.4,370.1 1227.6,372.2 1227.9,374.4 1228.1,376.8 1228.4,379.6 1228.7,382.6 1228.9,385.7 1229.2,389.2 1229.4,392.6 1229.7,395.8 1230.0,399.1 1230.2,402.3 1230.5,405.6 1230.7,409.2 1231.0,412.5 1231.3,415.3 1231.5,418.1 1231.8,421.1 1232.0,424.0 1232.3,426.3 1232.5,428.2 1232.8,430.3 1233.1,432.4 1233.3,433.7 1233.6,434.7 1233.8,435.7 1234.1,436.3 1234.4,436.5 1234.6,436.3 1234.9,435.9 1235.1,435.7 1235.4,435.3 1235.7,433.9 1235.9,432.5 1236.2,431.2 1236.4,429.5 1236.7,427.6 1237.0,425.0 1237.2,422.2 1237.5,419.7 1237.7,417.3 1238.0,414.5 1238.3,411.5 1238.5,408.4 1238.8,405.1 1239.0,402.0 1239.3,399.3 1239.6,396.4 1239.8,393.2 1240.1,390.0 1240.3,386.7 1240.6,383.6 1240.9,380.9 1241.1,378.7 1241.4,376.6 1241.6,374.3 1241.9,372.1 1242.2,370.4 1242.4,368.9 1242.7,367.8 1242.9,366.8 1243.2,365.5 1243.5,364.4 1243.7,364.0 1244.0,363.9 1244.2,363.8 1244.5,363.9 1244.8,364.3 1245.0,365.5 1245.3,366.8 1245.5,367.6 1245.8,368.8 1246.1,370.7 1246.3,372.6 1246.6,374.3 1246.8,376.0 1247.1,378.0 1247.3,380.4 1247.6,383.3 1247.9,385.8 1248.1,388.4 1248.4,391.4 1248.6,394.0 1248.9,396.5 1249.2,399.4 1249.4,402.2 1249.7,404.8 1249.9,407.8 1250.2,410.3 1250.5,412.7 1250.7,415.3 1251.0,418.0 1251.2,420.5 1251.5,422.9 1251.8,424.8 1252.0,426.5 1252.3,428.3 1252.5,429.8 1252.8,431.3 1253.1,432.9 1253.3,434.1 1253.6,434.9 1253.8,435.4 1254.1,435.8 1254.4,436.4 1254.6,436.7 1254.9,436.2 1255.1,436.1 1255.4,435.8 1255.7,435.0 1255.9,434.0 1256.2,433.1 1256.4,432.3 1256.7,430.9 1257.0,429.4 1257.2,427.9 1257.5,426.2 1257.7,423.9 1258.0,421.7 1258.3,419.6 1258.5,417.6 1258.8,415.4 1259.0,413.0 1259.3,410.6 1259.6,408.2 1259.8,405.8 1260.1,403.5 1260.3,401.1 1260.6,398.7 1260.9,396.4 1261.1,393.5 1261.4,390.4 1261.6,388.0 1261.9,385.9 1262.2,383.6 1262.4,381.6 1262.7,379.3 1262.9,377.1 1263.2,375.4 1263.4,374.0 1263.7,372.6 1264.0,371.0 1264.2,369.1 1264.5,368.0 1264.7,367.6 1265.0,366.8 1265.3,365.7 1265.5,364.9 1265.8,364.4 1266.0,364.1 1266.3,363.5 1266.6,363.4 1266.8,363.7 1267.1,364.2 1267.3,364.8 1267.6,365.2 1267.9,366.0 1268.1,366.9 1268.4,368.3 1268.6,370.4 1268.9,372.0 1269.2,373.1 1269.4,374.4 1269.7,375.7 1269.9,377.5 1270.2,379.7 1270.5,381.6 1270.7,383.3 1271.0,385.2 1271.2,387.3 1271.5,389.5 1271.8,391.7 1272.0,394.1 1272.3,396.6 1272.5,398.5 1272.8,400.3 1273.1,402.6 1273.3,405.1 1273.6,407.4 1273.8,409.9 1274.1,412.0 1274.4,413.9 1274.6,416.4 1274.9,418.8 1275.1,420.5 1275.4,422.0 1275.7,423.6 1275.9,424.9 1276.2,426.3 1276.4,428.3 1276.7,429.6 1277.0,430.7 1277.2,432.0 1277.5,433.2 1277.7,434.3 1278.0,435.0 1278.3,435.6 1278.5,436.3 1278.8,436.5 1279.0,436.5 1279.3,436.4 1279.5,436.3 1279.8,436.1 1280.1,436.1 1280.3,436.2 1280.6,435.6 1280.8,434.7 1281.1,434.2 1281.4,433.4 1281.6,432.2 1281.9,431.1 1282.1,429.8 1282.4,428.4 1282.7,427.5 1282.9,426.3 1283.2,424.6 1283.4,423.1 1283.7,421.7 1284.0,419.9 1284.2,417.7 1284.5,415.8 1284.7,414.1 1285.0,412.3 1285.3,410.3 1285.5,408.2 1285.8,406.2 1286.0,404.1 1286.3,401.9 1286.6,400.0 1286.8,398.1 1287.1,395.9 1287.3,393.9 1287.6,391.9 1287.9,389.9 1288.1,387.7 1288.4,385.7 1288.6,384.0 1288.8,383.5 1289.6,377.9 1290.5,373.1 1291.4,369.1 1292.3,366.1 1293.2,364.4 1294.1,363.9 1294.9,364.6 1295.8,366.2 1296.7,368.8 1297.6,372.5 1298.5,377.1 1299.4,382.3 1300.2,388.0 1301.1,394.0 1302.0,400.0 1302.9,406.0 1303.8,411.9 1304.7,417.5 1305.5,422.5 1306.4,426.9 1307.3,430.6 1308.2,433.5 1309.1,435.3 1310.0,436.3 1310.8,436.5 1311.7,435.9 1312.6,434.4 1313.5,431.9 1314.4,428.6 1315.3,424.8 1316.1,420.6 1317.0,415.9 1317.9,410.8 1318.8,405.3 1319.7,399.7 1320.5,394.4 1321.4,389.4 1322.3,384.4 1323.2,379.8 1324.1,375.7 1325.0,372.1 1325.8,369.2 1326.7,366.7 1327.6,364.9 1328.5,364.0 1329.4,363.8 1330.3,364.3 1331.1,365.5 1332.0,367.3 1332.9,369.5 1333.8,372.3 1334.7,375.6 1335.6,379.5 1336.4,383.6 1337.3,388.1 1338.2,392.6 1339.1,397.2 1340.0,401.9 1340.9,406.5 1341.7,411.1 1342.6,415.5 1343.5,419.5 1344.4,423.2 1345.3,426.6 1346.2,429.4 1347.0,431.9 1347.9,434.0 1348.8,435.4 1349.7,436.2 1350.6,436.6 1351.5,436.5 1352.3,435.8 1353.2,434.6 1354.1,433.1 1355.0,431.1 1355.9,428.6 1356.7,425.8 1357.6,422.6 1358.5,419.2 1359.4,415.5 1360.3,411.6 1361.2,407.6 1362.0,403.6 1362.9,399.5 1363.8,395.5 1364.7,391.5 1365.6,387.7 1366.5,384.0 1367.3,380.5 1368.2,377.5 1369.1,374.6 1370.0,371.9 1370.9,369.5 1371.8,367.6 1372.6,366.2 1373.5,365.0 1374.4,364.2 1375.3,363.8 1376.2,363.9 1377.1,364.4 1377.9,365.1 1378.8,366.2 1379.7,367.5 1380.6,369.4 1381.5,371.7 1382.4,374.1 1383.2,376.7 1384.1,379.6 1385.0,382.6 1385.9,385.8 1386.8,389.1 1387.6,392.5 1388.5,395.8 1389.4,399.2 1390.3,402.8 1391.2,406.3 1392.1,409.7 1392.9,412.9 1393.8,415.9 1394.7,418.9 1395.6,421.8 1396.5,424.4 1397.4,426.8 1398.2,428.9 1399.1,430.8 1400.0,432.6 1400.9,434.0 1401.8,435.0 1402.7,435.9 1403.5,436.5 1404.4,436.8 1405.3,436.8 1406.2,436.4 1407.1,435.8 1408.0,434.9 1408.8,433.9 1409.7,432.6 1410.6,431.0 1411.5,429.3 1412.4,427.4 1413.3,425.2 1414.1,422.9 1415.0,420.5 1415.9,417.9 1416.8,415.1 1417.7,412.4 1418.5,409.5 1419.4,406.5 1420.3,403.5 1421.2,400.6 1422.1,397.9 1423.0,395.2 1423.8,392.2 1424.7,389.2 1425.6,386.5 1426.5,384.0 1427.4,381.6 1428.3,379.2 1429.1,377.0 1430.0,374.7 1430.9,372.7 1431.8,371.0 1432.7,369.5 1433.6,368.2 1434.4,367.0 1435.3,365.9 1436.2,365.2 1437.1,364.5 1438.0,364.0 1438.9,363.8 1439.7,363.9 1440.6,364.1 1441.5,364.4 1442.4,365.0 1443.3,365.9 1444.2,366.8 1445.0,367.8 1445.9,369.0 1446.8,370.5 1447.7,372.2 1448.6,373.9 1449.4,375.7 1450.3,377.7 1451.2,379.9 1452.1,382.1 1453.0,384.5 1453.9,387.0 1454.7,389.3 1455.6,391.8 1456.5,394.3 1457.4,396.8 1458.3,399.3 1459.2,402.0 1460.0,404.6 1460.9,407.1 1461.8,409.7 1462.7,412.3 1463.6,414.7 1464.5,416.9 1465.3,419.0 1466.2,421.0 1467.1,423.2 1468.0,425.3" fill="none" stroke="#ff00ff" stroke-width="2.85" stroke-linejoin="round" stroke-linecap="round"/><rect x="1107.00" y="255.75" width="389.50" height="215.00" fill="none" stroke="#000" stroke-width="2.9" stroke-linejoin="round"/><text x="1417.60" y="291.75" font-size="31">m<tspan x="1443.50" dy="9">23</tspan></text></g>
<g><line x1="1586.15" y1="364.15" x2="1975.65" y2="364.15" stroke="#1a1a1a" stroke-width="1.5"/><path d="M1586.15 260.90h17.7M1586.15 311.90h17.7M1586.15 415.10h17.7M1586.15 466.10h17.7M1664.05 470.75v-18M1741.95 470.75v-18M1819.85 470.75v-18M1897.75 470.75v-18" stroke="#000" stroke-width="1.7" fill="none"/><polyline points="1594.3,399.8 1594.6,355.1 1594.8,313.3 1595.1,290.3 1595.4,293.8 1595.6,321.7 1595.9,363.9 1596.1,406.1 1596.4,434.3 1596.7,438.7 1596.9,418.0 1597.2,379.6 1597.4,336.2 1597.7,301.4 1598.0,286.2 1598.2,294.3 1598.5,323.3 1598.7,364.9 1599.0,406.1 1599.3,435.2 1599.5,443.9 1599.8,429.2 1600.0,396.1 1600.3,355.0 1600.6,316.2 1600.8,289.8 1601.1,283.2 1601.3,297.9 1601.6,329.7 1601.9,370.2 1602.1,409.1 1602.4,436.4 1602.6,445.9 1602.9,435.4 1603.2,407.7 1603.4,369.4 1603.7,330.0 1603.9,298.7 1604.2,281.9 1604.5,283.5 1604.7,302.8 1605.0,335.1 1605.2,373.9 1605.5,410.6 1605.8,437.0 1606.0,448.1 1606.3,442.0 1606.5,420.0 1606.8,386.8 1607.1,348.9 1607.3,314.3 1607.6,289.5 1607.8,278.9 1608.1,284.8 1608.4,305.6 1608.6,336.6 1608.9,372.4 1609.1,406.6 1609.4,433.4 1609.6,448.1 1609.9,448.2 1610.2,433.9 1610.4,407.3 1610.7,373.0 1610.9,338.0 1611.2,308.3 1611.5,287.2 1611.7,277.9 1612.0,282.5 1612.2,300.0 1612.5,327.5 1612.8,360.4 1613.0,393.8 1613.3,422.8 1613.5,442.7 1613.8,451.0 1614.1,447.1 1614.3,431.1 1614.6,405.4 1614.8,374.2 1615.1,342.0 1615.4,312.5 1615.6,289.5 1615.9,276.6 1616.1,276.0 1616.4,287.1 1616.7,307.7 1616.9,334.9 1617.2,365.9 1617.4,396.9 1617.7,423.5 1618.0,442.7 1618.2,452.5 1618.5,451.6 1618.7,440.5 1619.0,420.0 1619.3,393.0 1619.5,363.1 1619.8,333.6 1620.0,307.2 1620.3,287.1 1620.6,276.1 1620.8,275.0 1621.1,282.8 1621.3,299.3 1621.6,322.5 1621.9,349.8 1622.1,378.9 1622.4,406.4 1622.6,429.2 1622.9,445.6 1623.2,453.6 1623.4,452.4 1623.7,442.7 1623.9,426.0 1624.2,403.1 1624.5,376.3 1624.7,349.2 1625.0,323.2 1625.2,300.3 1625.5,283.9 1625.7,274.9 1626.0,273.3 1626.3,279.7 1626.5,293.7 1626.8,313.5 1627.0,337.4 1627.3,363.7 1627.6,389.7 1627.8,413.6 1628.1,433.7 1628.3,447.7 1628.6,454.6 1628.9,454.2 1629.1,447.1 1629.4,433.4 1629.6,413.8 1629.9,390.6 1630.2,365.7 1630.4,341.2 1630.7,318.3 1630.9,298.8 1631.2,283.7 1631.5,274.4 1631.7,272.3 1632.0,276.8 1632.2,286.7 1632.5,301.7 1632.8,321.4 1633.0,344.1 1633.3,368.2 1633.5,392.3 1633.8,413.9 1634.1,431.7 1634.3,445.1 1634.6,453.2 1634.8,455.5 1635.1,452.5 1635.4,444.1 1635.6,430.1 1635.9,412.2 1636.1,391.6 1636.4,368.6 1636.7,345.6 1636.9,324.7 1637.2,306.1 1637.4,290.0 1637.7,278.5 1638.0,272.7 1638.2,271.6 1638.5,275.2 1638.7,284.1 1639.0,297.9 1639.3,315.3 1639.5,334.8 1639.8,355.5 1640.0,377.5 1640.3,399.0 1640.6,417.7 1640.8,432.9 1641.1,444.4 1641.3,452.5 1641.6,456.2 1641.8,455.3 1642.1,449.8 1642.4,439.2 1642.6,425.1 1642.9,408.7 1643.1,389.8 1643.4,369.5 1643.7,349.4 1643.9,330.0 1644.2,311.8 1644.4,296.3 1644.7,284.3 1645.0,276.3 1645.2,272.0 1645.5,271.1 1645.7,274.1 1646.0,281.4 1646.3,292.9 1646.5,307.6 1646.8,324.0 1647.0,342.1 1647.3,361.5 1647.6,381.1 1647.8,399.3 1648.1,415.9 1648.3,430.8 1648.6,442.6 1648.9,450.6 1649.1,455.5 1649.4,457.1 1649.6,455.4 1649.9,450.0 1650.2,440.8 1650.4,428.6 1650.7,414.2 1650.9,398.0 1651.2,380.9 1651.5,362.8 1651.7,344.4 1652.0,327.3 1652.2,311.4 1652.5,297.7 1652.8,286.7 1653.0,277.8 1653.3,272.0 1653.5,270.0 1653.8,271.6 1654.1,276.1 1654.3,283.0 1654.6,292.5 1654.8,304.5 1655.1,318.7 1655.4,335.0 1655.6,352.2 1655.9,369.3 1656.1,385.4 1656.4,400.7 1656.6,415.7 1656.9,429.4 1657.2,440.7 1657.4,448.8 1657.7,454.2 1657.9,457.2 1658.2,457.7 1658.5,455.2 1658.7,449.8 1659.0,441.6 1659.2,431.5 1659.5,419.5 1659.8,405.5 1660.0,390.1 1660.3,374.4 1660.5,359.0 1660.8,343.4 1661.1,328.2 1661.3,314.2 1661.6,301.6 1661.8,290.6 1662.1,281.8 1662.4,275.2 1662.6,271.3 1662.9,269.9 1663.1,270.7 1663.4,274.2 1663.7,279.7 1663.9,287.7 1664.2,297.3 1664.4,308.2 1664.7,321.0 1665.0,334.8 1665.2,349.3 1665.5,364.3 1665.7,379.4 1666.0,393.8 1666.3,407.0 1666.5,419.1 1666.8,430.1 1667.0,439.9 1667.3,448.1 1667.6,453.6 1667.8,456.4 1668.1,457.3 1668.3,456.7 1668.6,453.8 1668.9,449.1 1669.1,442.7 1669.4,434.2 1669.6,423.8 1669.9,411.8 1670.2,399.3 1670.4,386.2 1670.7,372.2 1670.9,358.7 1671.2,345.6 1671.5,332.3 1671.7,319.8 1672.0,308.0 1672.2,297.1 1672.5,288.4 1672.7,281.4 1673.0,275.7 1673.3,271.7 1673.5,269.5 1673.8,269.2 1674.0,270.8 1674.3,274.6 1674.6,280.4 1674.8,287.7 1675.1,296.3 1675.3,305.4 1675.6,315.2 1675.9,326.5 1676.1,339.1 1676.4,352.2 1676.6,364.8 1676.9,377.3 1677.2,389.9 1677.4,401.9 1677.7,413.5 1677.9,424.4 1678.2,434.0 1678.5,441.7 1678.7,447.6 1679.0,452.2 1679.2,455.6 1679.5,457.6 1679.8,458.3 1680.0,457.2 1680.3,453.8 1680.5,449.0 1680.8,442.9 1681.1,435.9 1681.3,428.3 1681.6,419.6 1681.8,409.6 1682.1,398.4 1682.4,386.6 1682.6,374.6 1682.9,362.4 1683.1,350.6 1683.4,339.2 1683.7,328.2 1683.9,317.4 1684.2,307.2 1684.4,298.7 1684.7,291.5 1685.0,284.5 1685.2,278.3 1685.5,273.8 1685.7,271.1 1686.0,269.8 1686.3,269.5 1686.5,270.5 1686.8,273.3 1687.0,277.2 1687.3,282.1 1687.5,288.2 1687.8,295.8 1688.1,303.8 1688.3,312.5 1688.6,321.9 1688.8,331.6 1689.1,342.4 1689.4,353.6 1689.6,364.0 1689.9,374.7 1690.1,386.1 1690.4,397.1 1690.7,406.7 1690.9,415.4 1691.2,423.8 1691.4,432.2 1691.7,439.4 1692.0,444.9 1692.2,449.9 1692.5,454.5 1692.7,457.4 1693.0,458.9 1693.3,459.1 1693.5,457.9 1693.8,455.8 1694.0,452.5 1694.3,448.1 1694.6,443.4 1694.8,437.8 1695.1,430.9 1695.3,423.0 1695.6,414.2 1695.9,404.8 1696.1,395.5 1696.4,386.0 1696.6,376.0 1696.9,366.1 1697.2,355.9 1697.4,345.8 1697.7,336.0 1697.9,326.5 1698.2,317.1 1698.5,308.1 1698.7,300.5 1699.0,294.0 1699.2,287.9 1699.5,282.6 1699.8,278.2 1700.0,274.4 1700.3,271.2 1700.5,269.3 1700.8,268.9 1701.1,269.5 1701.3,270.9 1701.6,273.2 1701.8,276.4 1702.1,280.4 1702.4,285.4 1702.6,291.1 1702.9,297.0 1703.1,303.5 1703.4,311.2 1703.6,319.4 1703.9,327.7 1704.2,336.5 1704.4,346.1 1704.7,355.7 1704.9,364.9 1705.2,373.6 1705.5,382.6 1705.7,391.9 1706.0,400.6 1706.2,408.8 1706.5,416.9 1706.8,424.4 1707.0,430.9 1707.3,436.6 1707.5,441.9 1707.8,446.8 1708.1,450.8 1708.3,454.0 1708.6,456.4 1708.8,457.8 1709.1,459.1 1709.4,459.6 1709.6,458.4 1709.9,455.9 1710.1,452.8 1710.4,449.5 1710.7,445.8 1710.9,441.1 1711.2,436.0 1711.4,430.3 1711.7,423.8 1712.0,416.9 1712.2,409.1 1712.5,400.9 1712.7,392.9 1713.0,385.0 1713.3,376.6 1713.5,368.1 1713.8,360.0 1714.0,351.7 1714.3,343.1 1714.6,334.9 1714.8,326.8 1715.1,319.4 1715.3,312.8 1715.6,306.0 1715.9,299.7 1716.1,294.2 1716.4,288.7 1716.6,283.7 1716.9,279.9 1717.2,276.4 1717.4,273.3 1717.7,270.7 1717.9,269.4 1718.2,269.0 1718.5,268.8 1718.7,269.1 1719.0,270.5 1719.2,272.4 1719.5,274.6 1719.7,278.0 1720.0,282.4 1720.3,287.1 1720.5,292.1 1720.8,297.7 1721.0,303.5 1721.3,309.0 1721.6,315.1 1721.8,322.3 1722.1,329.5 1722.3,336.9 1722.6,344.8 1722.9,352.5 1723.1,360.4 1723.4,368.2 1723.6,375.3 1723.9,382.6 1724.2,390.0 1724.4,397.6 1724.7,404.9 1724.9,411.3 1725.2,417.4 1725.5,423.4 1725.7,429.3 1726.0,434.4 1726.2,438.8 1726.5,443.4 1726.8,447.7 1727.0,451.0 1727.3,453.7 1727.5,455.7 1727.8,457.3 1728.1,458.4 1728.3,458.5 1728.6,458.1 1728.8,457.5 1729.1,456.2 1729.4,454.4 1729.6,452.5 1729.9,450.2 1730.1,447.3 1730.4,443.1 1730.7,438.6 1730.9,434.4 1731.2,429.4 1731.4,423.5 1731.7,417.6 1732.0,412.0 1732.2,406.1 1732.5,399.3 1732.7,392.2 1733.0,385.3 1733.3,378.9 1733.5,372.6 1733.8,365.7 1734.0,358.3 1734.3,351.2 1734.5,344.6 1734.8,338.1 1735.1,331.6 1735.3,325.1 1735.6,318.8 1735.8,312.6 1736.1,307.0 1736.4,302.4 1736.6,297.4 1736.9,292.0 1737.1,287.5 1737.4,283.9 1737.7,280.9 1737.9,278.1 1738.2,275.1 1738.4,273.0 1738.7,271.8 1739.0,270.6 1739.2,269.6 1739.5,269.2 1739.7,269.2 1740.0,270.4 1740.3,271.9 1740.5,272.7 1740.8,274.3 1741.0,277.0 1741.3,279.6 1741.6,282.1 1741.8,285.3 1742.1,289.3 1742.3,293.8 1742.6,298.5 1742.9,303.7 1743.1,309.2 1743.4,314.4 1743.6,319.3 1743.9,325.0 1744.2,331.5 1744.4,337.8 1744.7,343.8 1744.9,349.7 1745.2,355.8 1745.5,361.8 1745.7,368.5 1746.0,375.2 1746.2,380.9 1746.5,387.0 1746.8,393.6 1747.0,399.4 1747.3,404.4 1747.5,409.7 1747.8,415.4 1748.1,420.8 1748.3,425.4 1748.6,429.6 1748.8,433.7 1749.1,437.7 1749.4,441.5 1749.6,444.9 1749.9,448.1 1750.1,451.0 1750.4,453.0 1750.6,454.6 1750.9,456.3 1751.2,457.8 1751.4,458.7 1751.7,459.3 1751.9,459.2 1752.2,458.1 1752.5,457.0 1752.7,456.7 1753.0,456.0 1753.2,453.9 1753.5,451.6 1753.8,449.4 1754.0,446.8 1754.3,443.9 1754.5,440.5 1754.8,437.0 1755.1,433.3 1755.3,428.8 1755.6,424.4 1755.8,420.0 1756.1,415.2 1756.4,410.3 1756.6,405.1 1756.9,399.4 1757.1,393.8 1757.4,388.8 1757.7,383.9 1757.9,378.7 1758.2,373.0 1758.4,366.9 1758.7,361.0 1759.0,355.8 1759.2,350.3 1759.5,344.4 1759.7,339.1 1760.0,334.2 1760.3,329.2 1760.5,323.1 1760.8,317.9 1761.0,313.6 1761.3,309.1 1761.6,305.1 1761.8,301.1 1762.1,296.8 1762.3,292.9 1762.6,289.4 1762.9,286.3 1763.1,283.7 1763.4,280.9 1763.6,278.3 1763.9,276.1 1764.2,273.8 1764.4,272.4 1764.7,271.4 1764.9,270.4 1765.2,269.4 1765.4,268.7 1765.7,268.5 1766.0,268.8 1766.2,269.5 1766.5,270.0 1766.7,270.6 1767.0,272.1 1767.3,274.3 1767.5,276.1 1767.8,278.3 1767.9,279.7 1768.8,289.2 1769.7,301.2 1770.6,315.4 1771.4,330.9 1772.3,347.2 1773.2,364.0 1774.1,381.0 1775.0,397.2 1775.9,412.3 1776.7,425.9 1777.6,437.4 1778.5,446.6 1779.4,453.2 1780.3,457.3 1781.2,458.7 1782.0,457.4 1782.9,453.8 1783.8,447.6 1784.7,439.0 1785.6,428.4 1786.5,416.3 1787.3,402.9 1788.2,388.7 1789.1,374.0 1790.0,358.8 1790.9,343.9 1791.8,329.6 1792.6,316.4 1793.5,304.4 1794.4,293.8 1795.3,285.0 1796.2,277.9 1797.1,272.7 1797.9,269.7 1798.8,268.8 1799.7,270.1 1800.6,273.3 1801.5,278.4 1802.3,285.3 1803.2,293.8 1804.1,303.5 1805.0,314.5 1805.9,326.4 1806.8,339.2 1807.6,352.3 1808.5,365.4 1809.4,378.2 1810.3,390.8 1811.2,403.1 1812.1,414.5 1812.9,424.9 1813.8,434.1 1814.7,442.0 1815.6,448.5 1816.5,453.4 1817.4,456.7 1818.2,458.6 1819.1,458.8 1820.0,457.3 1820.9,454.6 1821.8,450.4 1822.7,444.6 1823.5,437.5 1824.4,429.5 1825.3,420.5 1826.2,410.7 1827.1,400.5 1828.0,389.5 1828.8,378.1 1829.7,366.6 1830.6,355.3 1831.5,344.1 1832.4,333.2 1833.2,323.0 1834.1,313.2 1835.0,304.1 1835.9,295.8 1836.8,288.6 1837.7,282.4 1838.5,277.4 1839.4,273.6 1840.3,270.9 1841.2,269.3 1842.1,268.8 1843.0,269.4 1843.8,271.3 1844.7,274.5 1845.6,278.7 1846.5,283.8 1847.4,289.9 1848.3,296.8 1849.1,304.4 1850.0,312.7 1850.9,321.7 1851.8,330.9 1852.7,340.3 1853.6,349.9 1854.4,359.7 1855.3,369.5 1856.2,379.0 1857.1,388.5 1858.0,397.8 1858.9,406.6 1859.7,414.9 1860.6,422.7 1861.5,429.7 1862.4,436.2 1863.3,442.1 1864.1,447.0 1865.0,451.0 1865.9,454.3 1866.8,456.7 1867.7,458.1 1868.6,458.7 1869.4,458.6 1870.3,457.6 1871.2,455.7 1872.1,453.0 1873.0,449.6 1873.9,445.4 1874.7,440.6 1875.6,435.0 1876.5,428.9 1877.4,422.4 1878.3,415.5 1879.2,408.2 1880.0,400.5 1880.9,392.4 1881.8,384.1 1882.7,375.8 1883.6,367.4 1884.5,359.1 1885.3,350.9 1886.2,342.8 1887.1,334.7 1888.0,327.1 1888.9,319.8 1889.8,312.7 1890.6,306.0 1891.5,299.8 1892.4,294.1 1893.3,289.0 1894.2,284.3 1895.0,280.3 1895.9,277.0 1896.8,274.2 1897.7,272.0 1898.6,270.2 1899.5,269.0 1900.3,268.6 1901.2,268.9 1902.1,269.8 1903.0,271.3 1903.9,273.3 1904.8,275.8 1905.6,278.8 1906.5,282.4 1907.4,286.4 1908.3,291.1 1909.2,296.1 1910.1,301.3 1910.9,306.9 1911.8,312.8 1912.7,319.0 1913.6,325.4 1914.5,332.0 1915.4,338.7 1916.2,345.6 1917.1,352.6 1918.0,359.5 1918.9,366.5 1919.8,373.5 1920.7,380.4 1921.5,387.2 1922.4,393.9 1923.3,400.4 1924.2,406.8 1925.1,412.9 1925.9,418.5 1926.8,423.9 1927.7,429.2 1928.6,434.2 1929.5,438.6 1930.4,442.6 1931.2,446.2 1932.1,449.2 1933.0,452.0 1933.9,454.4 1934.8,456.3 1935.7,457.7 1936.5,458.7 1937.4,459.1 1938.3,458.8 1939.2,458.1 1940.1,456.9 1941.0,455.6 1941.8,453.8 1942.7,451.4 1943.6,448.6 1944.5,445.4 1945.4,441.8 1946.3,437.7 1947.1,433.2" fill="none" stroke="#ff00ff" stroke-width="2.85" stroke-linejoin="round" stroke-linecap="round"/><rect x="1586.15" y="255.75" width="389.50" height="215.00" fill="none" stroke="#000" stroke-width="2.9" stroke-linejoin="round"/><text x="1896.75" y="291.75" font-size="31">m<tspan x="1922.65" dy="9">24</tspan></text></g>
<g><line x1="148.90" y1="615.20" x2="538.40" y2="615.20" stroke="#1a1a1a" stroke-width="1.5"/><path d="M148.90 511.95h17.7M148.90 562.95h17.7M148.90 666.15h17.7M148.90 717.15h17.7M226.80 721.80v-18M304.70 721.80v-18M382.60 721.80v-18M460.50 721.80v-18" stroke="#000" stroke-width="1.7" fill="none"/><polyline points="157.1,614.6 157.3,614.9 157.6,614.9 157.9,614.5 158.1,614.8 158.4,614.9 158.6,614.8 158.9,614.8 159.2,614.4 159.4,614.3 159.7,615.0 159.9,615.2 160.2,615.1 160.5,615.0 160.7,614.0 161.0,613.5 161.2,613.5 161.5,613.7 161.8,614.1 162.0,613.9 162.3,613.9 162.5,614.3 162.8,614.0 163.1,614.0 163.3,614.1 163.6,614.4 163.8,614.7 164.1,614.8 164.4,615.0 164.6,614.9 164.9,614.6 165.1,614.9 165.4,614.8 165.6,614.5 165.9,614.6 166.2,614.5 166.4,614.2 166.7,613.3 166.9,613.6 167.2,614.1 167.5,614.0 167.7,613.7 168.0,613.7 168.2,614.1 168.5,614.2 168.8,614.8 169.0,615.4 169.3,614.5 169.5,614.5 169.8,615.3 170.1,615.2 170.3,615.4 170.6,615.4 170.8,615.4 171.1,614.8 171.4,614.2 171.6,614.7 171.9,615.3 172.1,614.5 172.4,613.9 172.7,614.1 172.9,614.8 173.2,615.0 173.4,614.4 173.7,613.9 174.0,613.8 174.2,613.6 174.5,613.6 174.7,614.1 175.0,614.1 175.3,614.1 175.5,614.2 175.8,614.4 176.0,614.0 176.3,614.2 176.6,614.9 176.8,615.0 177.1,615.0 177.3,614.9 177.6,615.2 177.9,615.2 178.1,615.6 178.4,615.9 178.6,615.7 178.9,615.3 179.2,615.4 179.4,615.2 179.7,614.9 179.9,615.2 180.2,615.2 180.4,614.7 180.7,614.7 181.0,614.8 181.2,614.6 181.5,614.9 181.7,615.2 182.0,615.2 182.3,614.5 182.5,614.5 182.8,614.9 183.0,615.0 183.3,614.8 183.6,614.7 183.8,614.6 184.1,614.6 184.3,614.5 184.6,614.5 184.9,614.4 185.1,614.0 185.4,613.7 185.6,614.2 185.9,614.7 186.2,614.4 186.4,613.9 186.7,614.0 186.9,614.1 187.2,614.1 187.5,614.4 187.7,614.4 188.0,614.4 188.2,614.6 188.5,614.6 188.8,614.4 189.0,614.4 189.3,614.3 189.5,614.3 189.8,614.3 190.1,614.4 190.3,614.5 190.6,614.4 190.8,614.4 191.1,614.4 191.4,614.4 191.6,614.5 191.9,614.5 192.1,614.6 192.4,614.6 192.7,614.6 192.9,614.5 193.2,614.6 193.4,614.6 193.7,614.5 194.0,614.4 194.2,614.4 194.5,614.4 194.7,614.5 195.0,614.5 195.3,614.5 195.5,614.4 195.8,614.3 196.0,614.4 196.3,614.6 196.5,614.5 196.8,614.4 197.1,614.3 197.3,614.3 197.6,614.4 197.8,614.4 198.1,614.3 198.4,614.4 198.6,614.4 198.9,614.5 199.1,614.5 199.4,614.4 199.7,614.4 199.9,614.4 200.2,614.3 200.4,614.3 200.7,614.3 201.0,614.3 201.2,614.3 201.5,614.3 201.7,614.4 202.0,614.3 202.3,614.4 202.5,614.4 202.8,614.3 203.0,614.2 203.3,614.3 203.6,614.4 203.8,614.3 204.1,614.3 204.3,614.5 204.6,614.4 204.9,614.3 205.1,614.2 205.4,614.2 205.6,614.3 205.9,614.3 206.2,614.4 206.4,614.5 206.7,614.3 206.9,614.2 207.2,614.3 207.5,614.3 207.7,614.3 208.0,614.3 208.2,614.4 208.5,614.3 208.8,614.2 209.0,614.3 209.3,614.4 209.5,614.5 209.8,614.5 210.1,614.4 210.3,614.3 210.6,614.3 210.8,614.4 211.1,614.3 211.3,614.1 211.6,614.3 211.9,614.5 212.1,614.4 212.4,614.3 212.6,614.3 212.9,614.3 213.2,614.4 213.4,614.5 213.7,614.6 213.9,614.5 214.2,614.3 214.5,614.3 214.7,614.3 215.0,614.3 215.2,614.3 215.5,614.3 215.8,614.4 216.0,614.4 216.3,614.4 216.5,614.3 216.8,614.5 217.1,614.5 217.3,614.4 217.6,614.4 217.8,614.5 218.1,614.5 218.4,614.5 218.6,614.7 218.9,614.7 219.1,614.5 219.4,614.4 219.7,614.3 219.9,614.3 220.2,614.6 220.4,614.7 220.7,614.5 221.0,614.5 221.2,614.5 221.5,614.5 221.7,614.5 222.0,614.3 222.3,614.2 222.5,614.3 222.8,614.5 223.0,614.5 223.3,614.3 223.6,614.1 223.8,614.2 224.1,614.3 224.3,614.4 224.6,614.3 224.9,614.2 225.1,614.1 225.4,614.3 225.6,614.5 225.9,614.5 226.2,614.4 226.4,614.4 226.7,614.3 226.9,614.3 227.2,614.3 227.4,614.3 227.7,614.4 228.0,614.4 228.2,614.5 228.5,614.4 228.7,614.3 229.0,614.3 229.3,614.3 229.5,614.2 229.8,614.2 230.0,614.4 230.3,614.6 230.6,614.5 230.8,614.4 231.1,614.4 231.3,614.4 231.6,614.4 231.9,614.4 232.1,614.3 232.4,614.1 232.6,614.2 232.9,614.5 233.2,614.5 233.4,614.3 233.7,614.1 233.9,614.1 234.2,614.4 234.5,614.4 234.7,614.3 235.0,614.2 235.2,614.3 235.5,614.3 235.8,614.2 236.0,614.5 236.3,614.8 236.5,614.7 236.8,614.3 237.1,614.3 237.3,614.4 237.6,614.3 237.8,614.5 238.1,614.7 238.4,614.5 238.6,614.3 238.9,614.3 239.1,614.4 239.4,614.4 239.7,614.4 239.9,614.5 240.2,614.4 240.4,614.3 240.7,614.2 241.0,614.4 241.2,614.6 241.5,614.5 241.7,614.4 242.0,614.5 242.3,614.4 242.5,614.3 242.8,614.3 243.0,614.2 243.3,614.4 243.5,614.6 243.8,614.5 244.1,614.5 244.3,614.5 244.6,614.5 244.8,614.4 245.1,614.4 245.4,614.3 245.6,614.3 245.9,614.4 246.1,614.5 246.4,614.3 246.7,614.2 246.9,614.2 247.2,614.3 247.4,614.4 247.7,614.6 248.0,614.6 248.2,614.5 248.5,614.5 248.7,614.3 249.0,614.3 249.3,614.4 249.5,614.5 249.8,614.4 250.0,614.3 250.3,614.4 250.6,614.4 250.8,614.5 251.1,614.3 251.3,614.2 251.6,614.2 251.9,614.2 252.1,614.2 252.4,614.2 252.6,614.4 252.9,614.5 253.2,614.3 253.4,614.2 253.7,614.2 253.9,614.3 254.2,614.4 254.5,614.4 254.7,614.4 255.0,614.4 255.2,614.3 255.5,614.3 255.8,614.3 256.0,614.4 256.3,614.4 256.5,614.4 256.8,614.4 257.1,614.3 257.3,614.4 257.6,614.4 257.8,614.3 258.1,614.3 258.3,614.4 258.6,614.5 258.9,614.4 259.1,614.3 259.4,614.4 259.6,614.4 259.9,614.5 260.2,614.4 260.4,614.4 260.7,614.4 260.9,614.5 261.2,614.5 261.5,614.4 261.7,614.4 262.0,614.4 262.2,614.3 262.5,614.4 262.8,614.5 263.0,614.5 263.3,614.5 263.5,614.6 263.8,614.7 264.1,614.6 264.3,614.5 264.6,614.4 264.8,614.4 265.1,614.4 265.4,614.5 265.6,614.4 265.9,614.4 266.1,614.4 266.4,614.5 266.7,614.3 266.9,614.1 267.2,614.2 267.4,614.4 267.7,614.7 268.0,614.7 268.2,614.5 268.5,614.5 268.7,614.5 269.0,614.5 269.3,614.4 269.5,614.4 269.8,614.4 270.0,614.3 270.3,614.2 270.6,614.3 270.8,614.5 271.1,614.5 271.3,614.4 271.6,614.4 271.9,614.4 272.1,614.4 272.4,614.3 272.6,614.4 272.9,614.5 273.2,614.5 273.4,614.5 273.7,614.5 273.9,614.5 274.2,614.6 274.4,614.5 274.7,614.4 275.0,614.6 275.2,614.6 275.5,614.6 275.7,614.6 276.0,614.5 276.3,614.4 276.5,614.3 276.8,614.4 277.0,614.2 277.3,614.1 277.6,614.2 277.8,614.4 278.1,614.5 278.3,614.4 278.6,614.4 278.9,614.4 279.1,614.4 279.4,614.4 279.6,614.4 279.9,614.5 280.2,614.5 280.4,614.4 280.7,614.2 280.9,614.4 281.2,614.5 281.5,614.5 281.7,614.3 282.0,614.4 282.2,614.4 282.5,614.4 282.8,614.4 283.0,614.3 283.3,614.3 283.5,614.4 283.8,614.2 284.1,614.3 284.3,614.4 284.6,614.6 284.8,614.5 285.1,614.4 285.4,614.3 285.6,614.4 285.9,614.5 286.1,614.6 286.4,614.7 286.7,614.6 286.9,614.3 287.2,614.2 287.4,614.3 287.7,614.4 288.0,614.4 288.2,614.2 288.5,614.3 288.7,614.5 289.0,614.6 289.2,614.5 289.5,614.4 289.8,614.4 290.0,614.5 290.3,614.5 290.5,614.4 290.8,614.3 291.1,614.3 291.3,614.5 291.6,614.5 291.8,614.5 292.1,614.5 292.4,614.4 292.6,614.4 292.9,614.4 293.1,614.4 293.4,614.4 293.7,614.4 293.9,614.4 294.2,614.4 294.4,614.3 294.7,614.4 295.0,614.5 295.2,614.3 295.5,614.2 295.7,614.3 296.0,614.5 296.3,614.5 296.5,614.5 296.8,614.4 297.0,614.4 297.3,614.4 297.6,614.5 297.8,614.5 298.1,614.5 298.3,614.4 298.6,614.5 298.9,614.5 299.1,614.4 299.4,614.4 299.6,614.5 299.9,614.6 300.2,614.4 300.4,614.2 300.7,614.2 300.9,614.3 301.2,614.5 301.5,614.5 301.7,614.4 302.0,614.2 302.2,614.2 302.5,614.4 302.8,614.5 303.0,614.5 303.3,614.4 303.5,614.5 303.8,614.5 304.1,614.5 304.3,614.3 304.6,614.3 304.8,614.5 305.1,614.4 305.3,614.4 305.6,614.3 305.9,614.3 306.1,614.4 306.4,614.6 306.6,614.6 306.9,614.6 307.2,614.5 307.4,614.4 307.7,614.3 307.9,614.3 308.2,614.4 308.5,614.3 308.7,614.3 309.0,614.3 309.2,614.4 309.5,614.6 309.8,614.6 310.0,614.4 310.3,614.3 310.5,614.3 310.8,614.3 311.1,614.3 311.3,614.3 311.6,614.3 311.8,614.3 312.1,614.4 312.4,614.5 312.6,614.5 312.9,614.5 313.1,614.5 313.4,614.5 313.7,614.4 313.9,614.3 314.2,614.4 314.4,614.4 314.7,614.3 315.0,614.2 315.2,614.2 315.5,614.2 315.7,614.2 316.0,614.3 316.3,614.2 316.5,614.2 316.8,614.4 317.0,614.5 317.3,614.4 317.6,614.4 317.8,614.5 318.1,614.5 318.3,614.5 318.6,614.3 318.9,614.2 319.1,614.1 319.4,614.2 319.6,614.4 319.9,614.5 320.2,614.4 320.4,614.4 320.7,614.3 320.9,614.3 321.2,614.4 321.4,614.5 321.7,614.3 322.0,614.2 322.2,614.2 322.5,614.3 322.7,614.4 323.0,614.4 323.3,614.4 323.5,614.4 323.8,614.5 324.0,614.5 324.3,614.4 324.6,614.4 324.8,614.3 325.1,614.4 325.3,614.5 325.6,614.7 325.9,614.6 326.1,614.4 326.4,614.3 326.6,614.5 326.9,614.5 327.2,614.3 327.4,614.1 327.7,614.2 327.9,614.2 328.2,614.2 328.5,614.3 328.7,614.3 329.0,614.5 329.2,614.7 329.5,614.5 329.8,614.3 330.0,614.2 330.3,614.2 330.5,614.3 330.7,614.4 331.5,614.4 332.4,614.4 333.3,614.4 334.2,614.4 335.1,614.4 336.0,614.4 336.8,614.4 337.7,614.4 338.6,614.3 339.5,614.3 340.4,614.3 341.3,614.4 342.1,614.4 343.0,614.3 343.9,614.3 344.8,614.3 345.7,614.3 346.6,614.4 347.4,614.4 348.3,614.3 349.2,614.3 350.1,614.3 351.0,614.4 351.9,614.4 352.7,614.4 353.6,614.4 354.5,614.4 355.4,614.4 356.3,614.5 357.2,614.4 358.0,614.4 358.9,614.4 359.8,614.4 360.7,614.4 361.6,614.4 362.4,614.4 363.3,614.4 364.2,614.4 365.1,614.4 366.0,614.4 366.9,614.3 367.7,614.4 368.6,614.4 369.5,614.3 370.4,614.3 371.3,614.3 372.2,614.4 373.0,614.4 373.9,614.3 374.8,614.4 375.7,614.4 376.6,614.4 377.5,614.3 378.3,614.3 379.2,614.4 380.1,614.4 381.0,614.3 381.9,614.3 382.8,614.4 383.6,614.4 384.5,614.4 385.4,614.3 386.3,614.3 387.2,614.4 388.1,614.3 388.9,614.3 389.8,614.4 390.7,614.4 391.6,614.4 392.5,614.4 393.4,614.4 394.2,614.4 395.1,614.4 396.0,614.3 396.9,614.4 397.8,614.4 398.6,614.4 399.5,614.4 400.4,614.4 401.3,614.4 402.2,614.4 403.1,614.4 403.9,614.4 404.8,614.4 405.7,614.4 406.6,614.4 407.5,614.4 408.4,614.4 409.2,614.4 410.1,614.4 411.0,614.4 411.9,614.4 412.8,614.4 413.7,614.4 414.5,614.4 415.4,614.4 416.3,614.4 417.2,614.3 418.1,614.3 419.0,614.4 419.8,614.4 420.7,614.4 421.6,614.4 422.5,614.4 423.4,614.4 424.3,614.4 425.1,614.4 426.0,614.4 426.9,614.4 427.8,614.4 428.7,614.4 429.5,614.4 430.4,614.4 431.3,614.4 432.2,614.4 433.1,614.4 434.0,614.3 434.8,614.4 435.7,614.4 436.6,614.4 437.5,614.3 438.4,614.4 439.3,614.3 440.1,614.3 441.0,614.4 441.9,614.4 442.8,614.4 443.7,614.4 444.6,614.4 445.4,614.4 446.3,614.3 447.2,614.3 448.1,614.4 449.0,614.4 449.9,614.4 450.7,614.4 451.6,614.4 452.5,614.3 453.4,614.3 454.3,614.4 455.2,614.4 456.0,614.4 456.9,614.4 457.8,614.4 458.7,614.4 459.6,614.4 460.4,614.4 461.3,614.4 462.2,614.4 463.1,614.3 464.0,614.4 464.9,614.4 465.7,614.4 466.6,614.4 467.5,614.4 468.4,614.4 469.3,614.4 470.2,614.4 471.0,614.4 471.9,614.4 472.8,614.4 473.7,614.4 474.6,614.4 475.5,614.4 476.3,614.3 477.2,614.3 478.1,614.3 479.0,614.3 479.9,614.4 480.8,614.5 481.6,614.4 482.5,614.4 483.4,614.4 484.3,614.4 485.2,614.3 486.1,614.4 486.9,614.4 487.8,614.4 488.7,614.3 489.6,614.3 490.5,614.4 491.3,614.3 492.2,614.3 493.1,614.4 494.0,614.4 494.9,614.4 495.8,614.4 496.6,614.4 497.5,614.4 498.4,614.4 499.3,614.4 500.2,614.5 501.1,614.4 501.9,614.4 502.8,614.4 503.7,614.4 504.6,614.4 505.5,614.4 506.4,614.4 507.2,614.4 508.1,614.4 509.0,614.3 509.9,614.3" fill="none" stroke="#ff00ff" stroke-width="2.85" stroke-linejoin="round" stroke-linecap="round"/><rect x="148.90" y="506.80" width="389.50" height="215.00" fill="none" stroke="#000" stroke-width="2.9" stroke-linejoin="round"/><text x="459.50" y="542.80" font-size="31">m<tspan x="485.40" dy="9">31</tspan></text><text x="138.50" y="520.80" font-size="31" text-anchor="end">1.0</text><text x="138.50" y="572.05" font-size="31" text-anchor="end">0.5</text><text x="138.50" y="623.30" font-size="31" text-anchor="end">0.0</text><text x="138.50" y="674.55" font-size="31" text-anchor="end">-0.5</text><text x="138.50" y="725.80" font-size="31" text-anchor="end">-1.0</text></g>
<g><line x1="627.80" y1="615.20" x2="1017.30" y2="615.20" stroke="#1a1a1a" stroke-width="1.5"/><path d="M627.80 511.95h17.7M627.80 562.95h17.7M627.80 666.15h17.7M627.80 717.15h17.7M705.70 721.80v-18M783.60 721.80v-18M861.50 721.80v-18M939.40 721.80v-18" stroke="#000" stroke-width="1.7" fill="none"/><polyline points="636.0,676.1 636.2,679.5 636.5,672.5 636.8,657.8 637.0,640.7 637.3,627.4 637.5,622.5 637.8,627.3 638.1,640.2 638.3,657.2 638.6,672.0 638.8,680.0 639.1,679.1 639.4,669.3 639.6,653.8 639.9,637.3 640.1,625.2 640.4,621.1 640.7,625.7 640.9,637.8 641.2,654.2 641.4,669.6 641.7,679.5 642.0,681.6 642.2,676.2 642.5,664.2 642.7,648.5 643.0,633.5 643.3,623.3 643.5,620.5 643.8,625.5 644.0,637.0 644.3,652.3 644.5,667.1 644.8,677.8 645.1,682.8 645.3,680.4 645.6,671.2 645.8,657.8 646.1,642.8 646.4,629.2 646.6,620.8 646.9,619.5 647.1,625.0 647.4,635.8 647.7,649.8 647.9,664.0 648.2,675.5 648.4,682.2 648.7,683.0 649.0,677.4 649.2,666.8 649.5,653.4 649.7,639.4 650.0,627.8 650.3,620.7 650.5,619.1 650.8,623.2 651.0,632.4 651.3,645.1 651.6,658.7 651.8,670.9 652.1,680.2 652.3,684.7 652.6,683.3 652.9,676.5 653.1,665.7 653.4,653.1 653.6,640.0 653.9,628.7 654.2,621.1 654.4,617.9 654.7,619.8 654.9,626.3 655.2,636.6 655.5,648.9 655.7,661.4 656.0,673.0 656.2,681.6 656.5,685.4 656.8,684.3 657.0,678.9 657.3,669.8 657.5,658.1 657.8,645.7 658.1,634.3 658.3,625.0 658.6,619.1 658.8,617.0 659.1,619.2 659.3,625.4 659.6,635.3 659.9,647.2 660.1,659.0 660.4,669.6 660.6,678.0 660.9,683.2 661.2,685.1 661.4,683.3 661.7,677.7 661.9,669.2 662.2,659.0 662.5,647.5 662.7,636.3 663.0,627.2 663.2,620.5 663.5,617.2 663.8,617.5 664.0,621.3 664.3,628.0 664.5,636.9 664.8,647.2 665.1,657.7 665.3,667.4 665.6,676.1 665.8,682.6 666.1,685.9 666.4,685.7 666.6,682.2 666.9,676.0 667.1,667.6 667.4,658.1 667.7,647.9 667.9,638.0 668.2,628.9 668.4,621.8 668.7,617.8 669.0,616.7 669.2,618.1 669.5,622.1 669.7,628.4 670.0,636.7 670.3,646.1 670.5,656.3 670.8,665.8 671.0,674.2 671.3,680.9 671.6,685.1 671.8,686.8 672.1,685.6 672.3,681.6 672.6,675.6 672.9,668.3 673.1,659.8 673.4,650.2 673.6,640.7 673.9,632.3 674.2,625.5 674.4,620.2 674.7,616.8 674.9,615.9 675.2,617.5 675.4,621.1 675.7,627.1 676.0,634.7 676.2,643.0 676.5,651.8 676.7,660.8 677.0,669.3 677.3,676.2 677.5,681.3 677.8,684.8 678.0,686.6 678.3,686.1 678.6,683.4 678.8,678.9 679.1,672.7 679.3,665.3 679.6,657.4 679.9,649.0 680.1,640.4 680.4,632.5 680.6,626.0 680.9,620.6 681.2,617.1 681.4,615.6 681.7,615.7 681.9,617.9 682.2,622.1 682.5,627.4 682.7,633.6 683.0,640.9 683.2,649.1 683.5,657.2 683.8,664.8 684.0,672.1 684.3,678.1 684.5,682.6 684.8,685.9 685.1,687.3 685.3,687.1 685.6,685.1 685.8,681.1 686.1,675.6 686.4,669.7 686.6,663.3 686.9,655.9 687.1,648.1 687.4,640.9 687.7,634.2 687.9,628.1 688.2,622.9 688.4,619.1 688.7,617.0 689.0,615.8 689.2,616.0 689.5,618.6 689.7,622.1 690.0,626.1 690.2,631.5 690.5,638.0 690.8,644.8 691.0,652.0 691.3,659.5 691.5,666.2 691.8,671.9 692.1,677.0 692.3,681.3 692.6,684.6 692.8,686.8 693.1,687.6 693.4,686.7 693.6,684.3 693.9,680.9 694.1,676.4 694.4,671.0 694.7,664.5 694.9,657.9 695.2,651.7 695.4,645.4 695.7,639.3 696.0,633.4 696.2,627.6 696.5,623.0 696.7,619.7 697.0,617.2 697.3,615.7 697.5,615.7 697.8,616.7 698.0,618.4 698.3,621.5 698.6,625.9 698.8,630.8 699.1,636.2 699.3,642.1 699.6,648.0 699.9,653.9 700.1,660.2 700.4,666.2 700.6,671.2 700.9,675.7 701.2,680.0 701.4,683.6 701.7,686.0 701.9,687.3 702.2,687.6 702.5,686.6 702.7,684.8 703.0,681.9 703.2,678.1 703.5,674.0 703.8,668.9 704.0,663.4 704.3,657.7 704.5,651.8 704.8,645.8 705.1,640.2 705.3,635.2 705.6,630.2 705.8,625.5 706.1,621.7 706.3,618.8 706.6,616.9 706.9,615.6 707.1,615.1 707.4,615.8 707.6,617.0 707.9,618.9 708.2,622.0 708.4,625.8 708.7,629.7 708.9,634.5 709.2,639.9 709.5,645.2 709.7,651.0 710.0,656.5 710.2,661.4 710.5,666.3 710.8,671.3 711.0,675.8 711.3,679.6 711.5,682.6 711.8,684.8 712.1,686.1 712.3,687.1 712.6,687.5 712.8,687.0 713.1,685.4 713.4,682.7 713.6,680.1 713.9,677.6 714.1,673.8 714.4,669.0 714.7,664.0 714.9,659.1 715.2,654.2 715.4,649.3 715.7,644.4 716.0,639.8 716.2,634.9 716.5,630.3 716.7,626.7 717.0,623.3 717.3,620.2 717.5,617.8 717.8,616.2 718.0,615.4 718.3,615.1 718.6,615.4 718.8,616.6 719.1,618.4 719.3,620.8 719.6,623.4 719.9,626.4 720.1,629.9 720.4,634.5 720.6,639.1 720.9,643.6 721.2,648.2 721.4,652.9 721.7,657.7 721.9,662.1 722.2,666.3 722.4,670.7 722.7,674.4 723.0,677.7 723.2,681.0 723.5,683.5 723.7,684.9 724.0,686.1 724.3,687.0 724.5,687.5 724.8,687.4 725.0,686.4 725.3,684.5 725.6,682.6 725.8,680.3 726.1,677.3 726.3,674.1 726.6,670.7 726.9,667.3 727.1,663.1 727.4,658.3 727.6,653.9 727.9,649.7 728.2,645.5 728.4,641.3 728.7,636.8 728.9,632.8 729.2,629.5 729.5,626.4 729.7,623.6 730.0,620.9 730.2,618.6 730.5,617.0 730.8,615.9 731.0,615.5 731.3,615.5 731.5,615.2 731.8,615.9 732.1,617.4 732.3,619.0 732.6,621.0 732.8,623.4 733.1,626.4 733.4,629.8 733.6,633.5 733.9,637.2 734.1,640.9 734.4,644.7 734.7,648.3 734.9,652.4 735.2,656.3 735.4,659.9 735.7,663.7 736.0,667.5 736.2,671.3 736.5,674.6 736.7,677.4 737.0,679.8 737.2,682.2 737.5,684.2 737.8,685.5 738.0,686.5 738.3,687.3 738.5,687.8 738.8,687.8 739.1,687.0 739.3,685.7 739.6,684.6 739.8,683.1 740.1,681.0 740.4,678.5 740.6,676.2 740.9,673.4 741.1,669.9 741.4,666.6 741.7,663.4 741.9,659.9 742.2,655.9 742.4,651.7 742.7,648.1 743.0,644.6 743.2,640.8 743.5,637.2 743.7,634.3 744.0,631.5 744.3,628.3 744.5,625.4 744.8,623.3 745.0,621.6 745.3,619.9 745.6,617.9 745.8,616.2 746.1,615.6 746.3,615.6 746.6,615.7 746.9,615.6 747.1,615.7 747.4,616.6 747.6,618.0 747.9,619.3 748.2,620.9 748.4,622.8 748.7,625.2 748.9,627.7 749.2,630.4 749.5,633.7 749.7,637.1 750.0,639.9 750.2,643.1 750.5,646.7 750.8,650.2 751.0,653.4 751.3,656.7 751.5,660.6 751.8,664.0 752.1,666.5 752.3,669.3 752.6,672.5 752.8,675.3 753.1,677.5 753.3,679.7 753.6,681.8 753.9,683.7 754.1,685.2 754.4,686.2 754.6,686.7 754.9,687.2 755.2,687.7 755.4,687.5 755.7,687.3 755.9,687.2 756.2,686.6 756.5,685.5 756.7,684.1 757.0,682.3 757.2,680.3 757.5,678.2 757.8,676.0 758.0,673.6 758.3,670.9 758.5,668.1 758.8,665.5 759.1,662.3 759.3,658.8 759.6,655.6 759.8,652.8 760.1,649.8 760.4,646.6 760.6,643.8 760.9,641.1 761.1,638.2 761.4,635.8 761.7,633.2 761.9,630.4 762.2,628.1 762.4,625.6 762.7,623.2 763.0,621.6 763.2,620.3 763.5,618.7 763.7,617.2 764.0,616.4 764.3,615.8 764.5,615.3 764.8,615.0 765.0,615.0 765.3,615.2 765.6,615.7 765.8,616.4 766.1,617.2 766.3,618.3 766.6,619.8 766.9,621.4 767.1,623.3 767.4,625.2 767.6,627.0 767.9,628.8 768.1,631.1 768.4,633.9 768.7,636.5 768.9,639.4 769.2,642.4 769.4,645.2 769.7,647.8 770.0,650.6 770.2,653.7 770.5,656.4 770.7,658.7 771.0,661.5 771.3,664.2 771.5,666.6 771.8,668.8 772.0,671.1 772.3,673.3 772.6,675.6 772.8,677.7 773.1,679.4 773.3,681.0 773.6,682.6 773.9,684.1 774.1,685.5 774.4,686.0 774.6,686.3 774.9,687.1 775.2,687.5 775.4,687.4 775.7,687.4 775.9,687.4 776.2,687.1 776.5,686.6 776.7,685.5 777.0,684.3 777.2,683.2 777.5,682.0 777.8,680.4 778.0,678.6 778.3,676.9 778.5,675.0 778.8,672.8 779.1,670.7 779.3,668.5 779.6,666.2 779.8,663.8 780.1,661.3 780.4,659.2 780.6,656.8 780.9,654.0 781.1,651.3 781.4,648.6 781.7,646.1 781.9,644.1 782.2,642.0 782.4,639.5 782.7,637.2 783.0,634.8 783.2,632.7 783.5,630.8 783.7,628.4 784.0,626.1 784.2,624.3 784.5,623.0 784.8,621.8 785.0,620.2 785.3,618.7 785.5,617.7 785.8,616.7 786.1,615.8 786.3,615.4 786.6,615.4 786.8,615.0 787.1,614.8 787.4,615.0 787.6,615.6 787.9,616.0 788.1,616.2 788.4,616.9 788.7,617.6 788.9,618.2 789.2,619.3 789.4,620.8 789.7,622.3 790.0,623.5 790.2,624.6 790.5,626.2 790.7,628.4 791.0,630.3 791.3,631.9 791.5,634.2 791.8,636.6 792.0,638.4 792.3,640.1 792.6,642.5 792.8,645.3 793.1,647.6 793.3,649.8 793.6,652.2 793.9,654.1 794.1,655.8 794.4,658.4 794.6,661.1 794.9,663.1 795.2,665.1 795.4,667.5 795.7,669.5 795.9,671.2 796.2,673.1 796.5,674.7 796.7,676.1 797.0,677.5 797.2,679.1 797.5,680.5 797.8,681.9 798.0,682.9 798.3,683.8 798.5,684.5 798.8,685.2 799.1,686.2 799.3,687.1 799.6,687.6 799.8,687.8 800.1,687.6 800.3,687.5 800.6,687.7 800.9,687.4 801.1,687.0 801.4,686.6 801.6,685.8 801.9,684.9 802.2,683.8 802.4,682.6 802.7,681.6 802.9,680.6 803.2,679.6 803.5,678.5 803.7,677.3 804.0,676.0 804.2,674.5 804.5,672.6 804.8,670.5 805.0,668.3 805.3,666.4 805.5,664.7 805.8,662.7 806.1,660.7 806.3,659.0 806.6,657.2 806.8,655.0 807.1,653.0 807.4,651.1 807.6,648.9 807.9,647.1 808.1,645.5 808.4,643.4 808.7,641.0 808.9,638.8 809.2,637.2 809.4,635.7 809.6,634.6 810.4,628.9 811.3,624.0 812.2,620.0 813.1,617.2 814.0,615.6 814.9,615.0 815.7,615.4 816.6,617.1 817.5,619.9 818.4,623.7 819.3,628.2 820.2,633.4 821.0,639.0 821.9,645.0 822.8,651.1 823.7,657.1 824.6,663.0 825.5,668.6 826.3,673.8 827.2,678.1 828.1,681.6 829.0,684.4 829.9,686.5 830.8,687.7 831.6,687.8 832.5,686.9 833.4,685.3 834.3,682.9 835.2,679.8 836.1,675.9 836.9,671.6 837.8,666.8 838.7,661.7 839.6,656.3 840.5,650.9 841.3,645.7 842.2,640.5 843.1,635.5 844.0,630.9 844.9,626.9 845.8,623.3 846.6,620.2 847.5,617.9 848.4,616.2 849.3,615.2 850.2,615.0 851.1,615.4 851.9,616.6 852.8,618.3 853.7,620.7 854.6,623.7 855.5,626.9 856.4,630.5 857.2,634.6 858.1,639.0 859.0,643.6 859.9,648.3 860.8,653.0 861.7,657.7 862.5,662.2 863.4,666.5 864.3,670.6 865.2,674.2 866.1,677.4 867.0,680.4 867.8,682.9 868.7,685.0 869.6,686.5 870.5,687.4 871.4,687.6 872.3,687.6 873.1,686.9 874.0,685.8 874.9,684.2 875.8,682.1 876.7,679.6 877.5,676.8 878.4,673.6 879.3,670.1 880.2,666.3 881.1,662.5 882.0,658.6 882.8,654.6 883.7,650.4 884.6,646.4 885.5,642.4 886.4,638.6 887.3,635.0 888.1,631.4 889.0,628.3 889.9,625.5 890.8,622.9 891.7,620.7 892.6,618.9 893.4,617.3 894.3,616.1 895.2,615.4 896.1,615.0 897.0,615.0 897.9,615.5 898.7,616.2 899.6,617.3 900.5,618.8 901.4,620.6 902.3,622.7 903.2,625.1 904.0,627.7 904.9,630.5 905.8,633.5 906.7,636.8 907.6,640.2 908.4,643.5 909.3,646.9 910.2,650.3 911.1,653.7 912.0,657.3 912.9,660.8 913.7,664.0 914.6,667.0 915.5,670.0 916.4,672.9 917.3,675.5 918.2,677.9 919.0,680.0 919.9,681.9 920.8,683.5 921.7,684.9 922.6,686.0 923.5,686.9 924.3,687.5 925.2,687.7 926.1,687.7 927.0,687.4 927.9,686.8 928.8,686.0 929.6,685.0 930.5,683.6 931.4,682.0 932.3,680.3 933.2,678.4 934.1,676.2 934.9,673.8 935.8,671.3 936.7,668.9 937.6,666.2 938.5,663.4 939.3,660.5 940.2,657.5 941.1,654.6 942.0,651.8 942.9,649.0 943.8,646.1 944.6,643.1 945.5,640.2 946.4,637.7 947.3,635.1 948.2,632.6 949.1,630.0 949.9,627.8 950.8,625.9 951.7,623.9 952.6,622.2 953.5,620.7 954.4,619.3 955.2,618.0 956.1,616.9 957.0,616.2 957.9,615.7 958.8,615.2 959.7,614.9 960.5,614.9 961.4,615.2 962.3,615.5 963.2,616.0 964.1,616.8 965.0,617.7 965.8,618.8 966.7,620.0 967.6,621.4 968.5,623.0 969.4,624.8 970.2,626.8 971.1,628.7 972.0,630.9 972.9,633.1 973.8,635.4 974.7,637.9 975.5,640.4 976.4,642.9 977.3,645.4 978.2,648.0 979.1,650.6 980.0,653.1 980.8,655.6 981.7,658.3 982.6,660.8 983.5,663.1 984.4,665.6 985.3,668.1 986.1,670.3 987.0,672.4 987.9,674.3 988.8,676.1" fill="none" stroke="#ff00ff" stroke-width="2.85" stroke-linejoin="round" stroke-linecap="round"/><rect x="627.80" y="506.80" width="389.50" height="215.00" fill="none" stroke="#000" stroke-width="2.9" stroke-linejoin="round"/><text x="938.40" y="542.80" font-size="31">m<tspan x="964.30" dy="9">32</tspan></text></g>
<g><line x1="1107.00" y1="615.20" x2="1496.50" y2="615.20" stroke="#1a1a1a" stroke-width="1.5"/><path d="M1107.00 511.95h17.7M1107.00 562.95h17.7M1107.00 666.15h17.7M1107.00 717.15h17.7M1184.90 721.80v-18M1262.80 721.80v-18M1340.70 721.80v-18M1418.60 721.80v-18" stroke="#000" stroke-width="1.7" fill="none"/><polyline points="1115.2,537.0 1115.4,538.4 1115.7,535.8 1116.0,529.8 1116.2,522.6 1116.5,517.1 1116.7,515.1 1117.0,517.2 1117.3,522.7 1117.5,529.9 1117.8,536.1 1118.0,538.9 1118.3,538.2 1118.6,534.2 1118.8,528.0 1119.1,521.5 1119.3,516.4 1119.6,514.5 1119.9,516.4 1120.1,521.5 1120.4,528.3 1120.6,534.7 1120.9,538.9 1121.2,539.9 1121.4,537.4 1121.7,532.1 1121.9,525.9 1122.2,519.8 1122.5,515.2 1122.7,513.9 1123.0,516.1 1123.2,520.8 1123.5,527.2 1123.7,533.6 1124.0,538.1 1124.3,539.6 1124.5,538.8 1124.8,535.7 1125.0,530.1 1125.3,523.3 1125.6,517.7 1125.8,514.6 1126.1,513.9 1126.3,515.7 1126.6,520.1 1126.9,526.1 1127.1,532.2 1127.4,537.4 1127.6,540.3 1127.9,540.4 1128.2,537.9 1128.4,533.7 1128.7,527.8 1128.9,521.3 1129.2,516.5 1129.5,514.0 1129.7,513.4 1130.0,514.8 1130.2,518.5 1130.5,523.9 1130.8,529.6 1131.0,535.0 1131.3,539.2 1131.5,540.9 1131.8,539.8 1132.1,537.0 1132.3,533.0 1132.6,528.0 1132.8,522.2 1133.1,517.1 1133.4,514.0 1133.6,512.8 1133.9,513.6 1134.1,516.4 1134.4,520.9 1134.7,526.3 1134.9,531.6 1135.2,536.2 1135.4,539.4 1135.7,540.7 1136.0,540.3 1136.2,538.4 1136.5,534.9 1136.7,530.0 1137.0,524.7 1137.3,519.9 1137.5,516.1 1137.8,513.6 1138.0,512.9 1138.3,513.8 1138.5,516.1 1138.8,519.7 1139.1,524.6 1139.3,529.8 1139.6,534.4 1139.8,537.9 1140.1,540.3 1140.4,541.2 1140.6,540.4 1140.9,537.9 1141.1,534.2 1141.4,530.0 1141.7,525.3 1141.9,520.5 1142.2,516.6 1142.4,514.0 1142.7,512.7 1143.0,512.6 1143.2,514.2 1143.5,517.2 1143.7,520.8 1144.0,525.2 1144.3,529.7 1144.5,533.7 1144.8,537.3 1145.0,539.8 1145.3,540.7 1145.6,540.6 1145.8,539.7 1146.1,537.4 1146.3,534.0 1146.6,530.1 1146.9,525.7 1147.1,521.1 1147.4,517.4 1147.6,514.8 1147.9,513.1 1148.2,512.5 1148.4,512.9 1148.7,514.9 1148.9,517.8 1149.2,521.1 1149.5,525.1 1149.7,529.1 1150.0,532.9 1150.2,536.5 1150.5,539.5 1150.8,540.9 1151.0,541.5 1151.3,541.1 1151.5,539.7 1151.8,537.7 1152.1,534.7 1152.3,530.5 1152.6,526.5 1152.8,522.6 1153.1,519.0 1153.4,516.4 1153.6,514.4 1153.9,512.9 1154.1,512.4 1154.4,512.9 1154.6,514.5 1154.9,517.0 1155.2,520.3 1155.4,524.0 1155.7,527.4 1155.9,530.6 1156.2,534.1 1156.5,537.2 1156.7,539.5 1157.0,541.0 1157.2,541.5 1157.5,541.3 1157.8,540.3 1158.0,538.6 1158.3,536.0 1158.5,533.1 1158.8,529.6 1159.1,526.0 1159.3,522.8 1159.6,519.7 1159.8,516.8 1160.1,514.6 1160.4,513.3 1160.6,512.5 1160.9,512.5 1161.1,513.3 1161.4,514.6 1161.7,516.8 1161.9,519.9 1162.2,523.4 1162.4,526.4 1162.7,529.5 1163.0,532.7 1163.2,535.7 1163.5,538.1 1163.7,539.9 1164.0,541.1 1164.3,541.7 1164.5,541.6 1164.8,540.7 1165.0,539.3 1165.3,537.4 1165.6,534.7 1165.8,531.8 1166.1,528.6 1166.3,525.3 1166.6,522.2 1166.9,519.6 1167.1,517.1 1167.4,515.0 1167.6,513.5 1167.9,512.2 1168.2,511.8 1168.4,512.4 1168.7,513.4 1168.9,514.8 1169.2,516.7 1169.4,519.0 1169.7,521.4 1170.0,524.2 1170.2,527.2 1170.5,530.0 1170.7,532.6 1171.0,535.2 1171.3,537.4 1171.5,539.3 1171.8,540.7 1172.0,541.7 1172.3,541.9 1172.6,541.5 1172.8,540.9 1173.1,539.6 1173.3,537.7 1173.6,535.5 1173.9,532.9 1174.1,530.4 1174.4,527.7 1174.6,524.7 1174.9,521.7 1175.2,519.2 1175.4,517.2 1175.7,515.2 1175.9,513.6 1176.2,512.8 1176.5,512.3 1176.7,512.1 1177.0,512.3 1177.2,513.1 1177.5,514.6 1177.8,516.3 1178.0,518.3 1178.3,520.4 1178.5,522.9 1178.8,526.0 1179.1,528.6 1179.3,530.9 1179.6,533.1 1179.8,535.1 1180.1,537.1 1180.4,538.7 1180.6,540.1 1180.9,541.0 1181.1,541.8 1181.4,542.3 1181.7,541.9 1181.9,540.8 1182.2,539.4 1182.4,537.9 1182.7,536.3 1183.0,534.5 1183.2,532.4 1183.5,530.0 1183.7,527.4 1184.0,524.8 1184.3,522.4 1184.5,519.9 1184.8,517.7 1185.0,516.4 1185.3,515.1 1185.5,513.6 1185.8,512.6 1186.1,512.0 1186.3,511.9 1186.6,512.1 1186.8,512.5 1187.1,513.3 1187.4,514.5 1187.6,516.5 1187.9,518.6 1188.1,520.4 1188.4,522.1 1188.7,524.2 1188.9,526.6 1189.2,528.7 1189.4,530.9 1189.7,533.1 1190.0,534.8 1190.2,536.5 1190.5,538.2 1190.7,539.9 1191.0,540.9 1191.3,541.3 1191.5,541.7 1191.8,542.0 1192.0,541.8 1192.3,541.0 1192.6,540.1 1192.8,538.9 1193.1,537.3 1193.3,535.7 1193.6,534.1 1193.9,532.1 1194.1,530.1 1194.4,528.2 1194.6,526.0 1194.9,524.0 1195.2,522.2 1195.4,520.1 1195.7,518.3 1195.9,516.7 1196.2,515.4 1196.5,514.2 1196.7,513.1 1197.0,512.4 1197.2,511.9 1197.5,511.5 1197.8,511.5 1198.0,511.9 1198.3,512.8 1198.5,514.0 1198.8,515.2 1199.1,516.7 1199.3,518.2 1199.6,519.8 1199.8,521.5 1200.1,523.3 1200.4,525.2 1200.6,527.3 1200.9,529.6 1201.1,531.7 1201.4,533.5 1201.6,534.9 1201.9,536.3 1202.2,537.8 1202.4,539.0 1202.7,540.0 1202.9,540.8 1203.2,541.4 1203.5,541.8 1203.7,542.2 1204.0,542.3 1204.2,541.8 1204.5,540.8 1204.8,539.8 1205.0,538.7 1205.3,537.2 1205.5,535.9 1205.8,535.0 1206.1,533.8 1206.3,532.1 1206.6,530.0 1206.8,528.0 1207.1,526.5 1207.4,524.5 1207.6,522.3 1207.9,520.6 1208.1,519.3 1208.4,518.2 1208.7,516.7 1208.9,515.2 1209.2,514.2 1209.4,513.6 1209.7,512.8 1210.0,512.0 1210.2,511.7 1210.5,511.8 1210.7,512.1 1211.0,512.4 1211.3,513.0 1211.5,513.7 1211.8,514.3 1212.0,515.2 1212.3,516.5 1212.6,517.7 1212.8,519.1 1213.1,520.7 1213.3,522.3 1213.6,523.8 1213.9,525.3 1214.1,527.2 1214.4,529.1 1214.6,530.6 1214.9,532.2 1215.2,533.7 1215.4,534.8 1215.7,536.1 1215.9,537.4 1216.2,538.4 1216.4,539.6 1216.7,540.4 1217.0,541.1 1217.2,541.7 1217.5,541.8 1217.7,541.7 1218.0,541.9 1218.3,542.0 1218.5,541.4 1218.8,540.6 1219.0,540.0 1219.3,539.6 1219.6,538.7 1219.8,537.2 1220.1,535.9 1220.3,534.6 1220.6,533.1 1220.9,531.8 1221.1,530.5 1221.4,528.9 1221.6,527.5 1221.9,525.8 1222.2,524.2 1222.4,522.8 1222.7,521.3 1222.9,519.7 1223.2,518.5 1223.5,517.4 1223.7,516.2 1224.0,515.2 1224.2,514.2 1224.5,513.6 1224.8,513.4 1225.0,513.3 1225.3,512.5 1225.5,512.0 1225.8,511.9 1226.1,512.1 1226.3,512.5 1226.6,512.8 1226.8,513.3 1227.1,514.0 1227.4,514.9 1227.6,515.5 1227.9,516.3 1228.1,517.3 1228.4,518.5 1228.7,519.6 1228.9,520.4 1229.2,521.6 1229.4,523.3 1229.7,525.0 1230.0,526.4 1230.2,527.8 1230.5,529.2 1230.7,530.6 1231.0,531.7 1231.3,533.0 1231.5,534.4 1231.8,535.7 1232.0,537.0 1232.3,538.1 1232.5,538.6 1232.8,539.2 1233.1,540.0 1233.3,540.6 1233.6,541.3 1233.8,541.6 1234.1,541.7 1234.4,541.7 1234.6,541.7 1234.9,541.6 1235.1,541.5 1235.4,541.4 1235.7,541.1 1235.9,540.4 1236.2,539.7 1236.4,538.9 1236.7,537.9 1237.0,537.1 1237.2,536.1 1237.5,534.7 1237.7,533.4 1238.0,532.5 1238.3,531.4 1238.5,530.3 1238.8,529.1 1239.0,527.6 1239.3,526.3 1239.6,525.2 1239.8,524.0 1240.1,522.5 1240.3,521.3 1240.6,520.3 1240.9,519.1 1241.1,518.0 1241.4,517.0 1241.6,516.0 1241.9,515.2 1242.2,514.5 1242.4,513.9 1242.7,513.4 1242.9,512.7 1243.2,512.0 1243.5,512.0 1243.7,512.6 1244.0,512.6 1244.2,512.1 1244.5,512.0 1244.8,512.2 1245.0,512.4 1245.3,512.8 1245.5,513.5 1245.8,514.0 1246.1,514.6 1246.3,515.3 1246.6,516.1 1246.8,517.1 1247.1,518.1 1247.3,519.2 1247.6,520.3 1247.9,521.1 1248.1,522.0 1248.4,523.3 1248.6,524.3 1248.9,525.4 1249.2,526.8 1249.4,527.9 1249.7,528.8 1249.9,530.1 1250.2,531.4 1250.5,532.1 1250.7,532.8 1251.0,534.0 1251.2,535.1 1251.5,536.0 1251.8,536.9 1252.0,537.7 1252.3,538.6 1252.5,539.5 1252.8,540.2 1253.1,540.8 1253.3,541.4 1253.6,541.7 1253.8,541.8 1254.1,542.0 1254.4,542.0 1254.6,542.0 1254.9,541.9 1255.1,541.4 1255.4,541.6 1255.7,541.7 1255.9,541.1 1256.2,540.5 1256.4,540.1 1256.7,539.6 1257.0,539.1 1257.2,538.5 1257.5,537.9 1257.7,536.9 1258.0,535.7 1258.3,534.9 1258.5,534.1 1258.8,533.0 1259.0,532.1 1259.3,531.3 1259.6,530.2 1259.8,529.0 1260.1,528.1 1260.3,527.3 1260.6,526.3 1260.9,525.2 1261.1,523.9 1261.4,523.0 1261.6,522.2 1261.9,521.3 1262.2,520.2 1262.4,519.2 1262.7,518.6 1262.9,518.1 1263.2,517.1 1263.4,515.9 1263.7,514.8 1264.0,514.4 1264.2,514.2 1264.5,513.7 1264.7,513.2 1265.0,512.6 1265.3,512.2 1265.5,512.2 1265.8,511.9 1266.0,511.4 1266.3,511.3 1266.6,511.5 1266.8,511.8 1267.1,512.2 1267.3,512.6 1267.6,512.9 1267.9,513.1 1268.1,513.6 1268.4,514.1 1268.6,514.7 1268.9,515.2 1269.2,515.6 1269.4,516.0 1269.7,516.7 1269.9,517.4 1270.2,518.2 1270.5,519.0 1270.7,519.7 1271.0,520.5 1271.2,521.7 1271.5,522.8 1271.8,523.7 1272.0,524.6 1272.3,525.5 1272.5,526.4 1272.8,527.4 1273.1,528.2 1273.3,529.3 1273.6,530.2 1273.8,530.9 1274.1,532.0 1274.4,532.9 1274.6,533.5 1274.9,534.3 1275.1,535.1 1275.4,536.1 1275.7,536.7 1275.9,537.2 1276.2,537.7 1276.4,538.2 1276.7,539.1 1277.0,539.8 1277.2,539.9 1277.5,540.0 1277.7,540.4 1278.0,541.1 1278.3,541.4 1278.5,541.3 1278.8,541.3 1279.0,541.3 1279.3,541.2 1279.5,541.5 1279.8,541.9 1280.1,541.9 1280.3,541.7 1280.6,541.4 1280.8,541.2 1281.1,541.1 1281.4,540.8 1281.6,540.2 1281.9,539.6 1282.1,538.9 1282.4,538.6 1282.7,538.5 1282.9,538.2 1283.2,537.6 1283.4,536.7 1283.7,535.9 1284.0,535.2 1284.2,534.5 1284.5,533.8 1284.7,532.8 1285.0,531.7 1285.3,531.2 1285.5,530.7 1285.8,529.5 1286.0,528.2 1286.3,527.1 1286.6,526.3 1286.8,525.9 1287.1,524.9 1287.3,523.8 1287.6,523.3 1287.9,522.8 1288.1,522.2 1288.4,521.5 1288.6,520.6 1288.8,520.0 1289.6,517.6 1290.5,515.7 1291.4,514.0 1292.3,512.9 1293.2,512.1 1294.1,511.8 1294.9,512.0 1295.8,512.8 1296.7,513.9 1297.6,515.5 1298.5,517.3 1299.4,519.5 1300.2,521.9 1301.1,524.4 1302.0,526.8 1302.9,529.3 1303.8,531.7 1304.7,534.0 1305.5,536.1 1306.4,538.0 1307.3,539.5 1308.2,540.7 1309.1,541.4 1310.0,541.9 1310.8,542.1 1311.7,541.7 1312.6,541.0 1313.5,540.0 1314.4,538.7 1315.3,537.2 1316.1,535.3 1317.0,533.3 1317.9,531.2 1318.8,528.9 1319.7,526.7 1320.5,524.5 1321.4,522.4 1322.3,520.4 1323.2,518.5 1324.1,516.8 1325.0,515.3 1325.8,514.1 1326.7,513.1 1327.6,512.3 1328.5,512.0 1329.4,511.8 1330.3,511.9 1331.1,512.5 1332.0,513.3 1332.9,514.2 1333.8,515.3 1334.7,516.7 1335.6,518.4 1336.4,520.2 1337.3,522.0 1338.2,523.8 1339.1,525.6 1340.0,527.6 1340.9,529.5 1341.7,531.4 1342.6,533.3 1343.5,534.9 1344.4,536.4 1345.3,537.8 1346.2,539.0 1347.0,540.0 1347.9,540.8 1348.8,541.4 1349.7,541.8 1350.6,542.0 1351.5,541.9 1352.3,541.7 1353.2,541.2 1354.1,540.6 1355.0,539.8 1355.9,538.7 1356.7,537.5 1357.6,536.1 1358.5,534.6 1359.4,533.2 1360.3,531.6 1361.2,529.9 1362.0,528.2 1362.9,526.5 1363.8,524.9 1364.7,523.3 1365.6,521.8 1366.5,520.3 1367.3,518.9 1368.2,517.6 1369.1,516.4 1370.0,515.2 1370.9,514.2 1371.8,513.4 1372.6,512.8 1373.5,512.3 1374.4,511.9 1375.3,511.8 1376.2,512.0 1377.1,512.1 1377.9,512.4 1378.8,512.9 1379.7,513.6 1380.6,514.3 1381.5,515.1 1382.4,516.1 1383.2,517.2 1384.1,518.4 1385.0,519.7 1385.9,521.0 1386.8,522.3 1387.6,523.8 1388.5,525.3 1389.4,526.7 1390.3,528.0 1391.2,529.4 1392.1,530.8 1392.9,532.2 1393.8,533.5 1394.7,534.8 1395.6,535.8 1396.5,536.9 1397.4,537.9 1398.2,538.7 1399.1,539.4 1400.0,540.3 1400.9,540.9 1401.8,541.4 1402.7,541.8 1403.5,541.9 1404.4,542.0 1405.3,542.0 1406.2,541.9 1407.1,541.6 1408.0,541.3 1408.8,540.9 1409.7,540.4 1410.6,539.8 1411.5,539.0 1412.4,538.1 1413.3,537.2 1414.1,536.2 1415.0,535.2 1415.9,534.2 1416.8,533.0 1417.7,531.9 1418.5,530.8 1419.4,529.5 1420.3,528.3 1421.2,527.1 1422.1,525.9 1423.0,524.7 1423.8,523.6 1424.7,522.4 1425.6,521.2 1426.5,520.1 1427.4,519.1 1428.3,518.2 1429.1,517.3 1430.0,516.3 1430.9,515.5 1431.8,514.8 1432.7,514.1 1433.6,513.5 1434.4,513.2 1435.3,512.8 1436.2,512.4 1437.1,512.1 1438.0,511.9 1438.9,511.7 1439.7,511.8 1440.6,511.9 1441.5,512.0 1442.4,512.3 1443.3,512.6 1444.2,512.9 1445.0,513.3 1445.9,513.9 1446.8,514.6 1447.7,515.2 1448.6,516.0 1449.4,516.8 1450.3,517.6 1451.2,518.5 1452.1,519.5 1453.0,520.4 1453.9,521.5 1454.7,522.4 1455.6,523.5 1456.5,524.4 1457.4,525.4 1458.3,526.5 1459.2,527.7 1460.0,528.6 1460.9,529.7 1461.8,530.8 1462.7,531.9 1463.6,532.9 1464.5,533.8 1465.3,534.7 1466.2,535.7 1467.1,536.5 1468.0,537.4" fill="none" stroke="#ff00ff" stroke-width="2.85" stroke-linejoin="round" stroke-linecap="round"/><rect x="1107.00" y="506.80" width="389.50" height="215.00" fill="none" stroke="#000" stroke-width="2.9" stroke-linejoin="round"/><text x="1417.60" y="542.80" font-size="31">m<tspan x="1443.50" dy="9">33</tspan></text></g>
<g><line x1="1586.15" y1="615.20" x2="1975.65" y2="615.20" stroke="#1a1a1a" stroke-width="1.5"/><path d="M1586.15 511.95h17.7M1586.15 562.95h17.7M1586.15 666.15h17.7M1586.15 717.15h17.7M1664.05 721.80v-18M1741.95 721.80v-18M1819.85 721.80v-18M1897.75 721.80v-18" stroke="#000" stroke-width="1.7" fill="none"/><polyline points="1594.3,630.2 1594.6,612.2 1594.8,595.4 1595.1,586.2 1595.4,587.7 1595.6,598.9 1595.9,615.7 1596.1,633.1 1596.4,644.7 1596.7,646.2 1596.9,637.8 1597.2,622.4 1597.4,604.9 1597.7,590.9 1598.0,584.6 1598.2,587.8 1598.5,599.5 1598.7,616.0 1599.0,632.7 1599.3,644.7 1599.5,648.0 1599.8,641.8 1600.0,628.7 1600.3,612.4 1600.6,596.5 1600.8,585.6 1601.1,583.1 1601.3,589.5 1601.6,602.2 1601.9,618.2 1602.1,633.7 1602.4,644.6 1602.6,648.7 1602.9,644.7 1603.2,633.3 1603.4,617.8 1603.7,602.1 1603.9,589.7 1604.2,583.0 1604.5,583.4 1604.7,591.4 1605.0,605.3 1605.2,621.0 1605.5,635.2 1605.8,645.3 1606.0,649.8 1606.3,647.5 1606.5,638.1 1606.8,624.5 1607.1,609.6 1607.3,595.8 1607.6,585.7 1607.8,581.6 1608.1,583.6 1608.4,591.6 1608.6,604.3 1608.9,619.1 1609.1,633.2 1609.4,643.9 1609.6,649.5 1609.9,649.5 1610.2,643.7 1610.4,633.0 1610.7,619.4 1610.9,605.0 1611.2,592.9 1611.5,584.9 1611.7,581.3 1612.0,582.7 1612.2,589.7 1612.5,600.7 1612.8,613.9 1613.0,627.3 1613.3,639.2 1613.5,647.8 1613.8,651.1 1614.1,648.9 1614.3,642.3 1614.6,632.5 1614.8,620.2 1615.1,606.7 1615.4,594.5 1615.6,585.5 1615.9,580.7 1616.1,580.5 1616.4,584.7 1616.7,592.8 1616.9,603.7 1617.2,616.5 1617.4,629.3 1617.7,640.0 1618.0,647.6 1618.2,651.3 1618.5,650.6 1618.7,646.2 1619.0,638.2 1619.3,627.5 1619.5,615.5 1619.8,603.8 1620.0,593.6 1620.3,585.4 1620.6,580.2 1620.8,579.5 1621.1,582.9 1621.3,589.5 1621.6,599.1 1621.9,610.5 1622.1,621.9 1622.4,632.7 1622.6,642.0 1622.9,648.4 1623.2,651.5 1623.4,650.9 1623.7,647.2 1623.9,640.6 1624.2,631.5 1624.5,621.1 1624.7,609.8 1625.0,598.9 1625.2,590.1 1625.5,583.9 1625.7,580.3 1626.0,579.8 1626.3,582.7 1626.5,588.3 1626.8,596.2 1627.0,605.5 1627.3,615.8 1627.6,626.4 1627.8,635.9 1628.1,643.7 1628.3,649.2 1628.6,652.1 1628.9,652.0 1629.1,648.8 1629.4,643.2 1629.6,635.7 1629.9,626.6 1630.2,616.4 1630.4,606.0 1630.7,596.6 1630.9,588.9 1631.2,583.2 1631.5,579.7 1631.7,578.6 1632.0,580.2 1632.2,584.3 1632.5,590.2 1632.8,597.8 1633.0,607.3 1633.3,617.4 1633.5,626.6 1633.8,634.7 1634.1,642.3 1634.3,648.5 1634.6,651.9 1634.8,652.9 1635.1,651.7 1635.4,648.3 1635.6,642.6 1635.9,635.2 1636.1,627.0 1636.4,618.0 1636.7,608.3 1636.9,599.3 1637.2,591.9 1637.4,586.3 1637.7,582.0 1638.0,578.9 1638.2,578.5 1638.5,580.5 1638.7,583.7 1639.0,588.9 1639.3,596.1 1639.5,603.9 1639.8,612.2 1640.0,620.9 1640.3,629.4 1640.6,636.9 1640.8,643.3 1641.1,648.4 1641.3,651.7 1641.6,653.2 1641.8,652.6 1642.1,650.0 1642.4,645.9 1642.6,640.6 1642.9,633.8 1643.1,626.1 1643.4,617.9 1643.7,609.9 1643.9,602.4 1644.2,595.0 1644.4,588.6 1644.7,583.7 1645.0,580.1 1645.2,578.3 1645.5,578.6 1645.7,580.3 1646.0,583.1 1646.3,587.4 1646.5,593.2 1646.8,600.0 1647.0,607.4 1647.3,615.4 1647.6,622.9 1647.8,629.8 1648.1,636.6 1648.3,642.8 1648.6,647.7 1648.9,651.0 1649.1,652.9 1649.4,653.3 1649.6,652.4 1649.9,650.0 1650.2,646.0 1650.4,641.2 1650.7,635.4 1650.9,628.8 1651.2,621.8 1651.5,614.9 1651.7,608.1 1652.0,601.2 1652.2,594.7 1652.5,588.8 1652.8,584.2 1653.0,581.2 1653.3,579.1 1653.5,578.0 1653.8,578.4 1654.1,580.2 1654.3,583.1 1654.6,587.0 1654.8,592.1 1655.1,598.0 1655.4,604.2 1655.6,610.8 1655.9,617.5 1656.1,624.1 1656.4,630.7 1656.6,636.8 1656.9,642.3 1657.2,646.7 1657.4,649.7 1657.7,651.8 1657.9,653.0 1658.2,653.0 1658.5,652.1 1658.7,649.9 1659.0,646.9 1659.2,643.1 1659.5,638.4 1659.8,632.6 1660.0,626.4 1660.3,620.2 1660.5,613.8 1660.8,607.5 1661.1,601.3 1661.3,595.7 1661.6,591.0 1661.8,587.1 1662.1,583.5 1662.4,580.3 1662.6,578.4 1662.9,577.9 1663.1,578.4 1663.4,579.4 1663.7,581.7 1663.9,585.4 1664.2,589.1 1664.4,593.4 1664.7,598.6 1665.0,604.2 1665.2,609.9 1665.5,616.0 1665.7,622.1 1666.0,627.9 1666.3,633.5 1666.5,638.6 1666.8,642.7 1667.0,646.3 1667.3,649.3 1667.6,651.6 1667.8,653.1 1668.1,653.7 1668.3,653.1 1668.6,651.9 1668.9,649.8 1669.1,647.0 1669.4,643.9 1669.6,640.0 1669.9,635.3 1670.2,630.0 1670.4,624.7 1670.7,619.6 1670.9,613.7 1671.2,607.7 1671.5,602.7 1671.7,598.1 1672.0,593.0 1672.2,588.7 1672.5,585.4 1672.7,582.5 1673.0,580.4 1673.3,579.0 1673.5,578.1 1673.8,578.0 1674.0,578.7 1674.3,579.9 1674.6,582.0 1674.8,585.0 1675.1,588.3 1675.3,592.1 1675.6,596.2 1675.9,600.6 1676.1,605.8 1676.4,611.0 1676.6,615.9 1676.9,621.1 1677.2,626.1 1677.4,630.8 1677.7,635.6 1677.9,639.9 1678.2,643.3 1678.5,646.4 1678.7,648.8 1679.0,650.9 1679.2,652.8 1679.5,653.8 1679.8,653.8 1680.0,653.2 1680.3,651.9 1680.5,650.3 1680.8,648.5 1681.1,645.8 1681.3,642.2 1681.6,638.1 1681.8,634.0 1682.1,630.1 1682.4,625.5 1682.6,620.5 1682.9,615.8 1683.1,610.8 1683.4,606.0 1683.7,601.6 1683.9,597.1 1684.2,592.8 1684.4,589.3 1684.7,586.5 1685.0,583.7 1685.2,581.2 1685.5,579.4 1685.7,578.4 1686.0,577.8 1686.3,577.6 1686.5,578.0 1686.8,579.3 1687.0,581.0 1687.3,582.8 1687.5,584.9 1687.8,587.8 1688.1,591.5 1688.3,595.0 1688.6,598.7 1688.8,602.8 1689.1,607.0 1689.4,611.1 1689.6,615.6 1689.9,620.2 1690.1,624.6 1690.4,628.8 1690.7,633.0 1690.9,636.7 1691.2,640.1 1691.4,643.5 1691.7,646.4 1692.0,648.5 1692.2,650.3 1692.5,652.1 1692.7,653.1 1693.0,653.8 1693.3,654.1 1693.5,653.3 1693.8,652.3 1694.0,651.3 1694.3,649.5 1694.6,647.0 1694.8,644.7 1695.1,642.2 1695.3,639.1 1695.6,635.6 1695.9,632.1 1696.1,628.4 1696.4,624.2 1696.6,620.2 1696.9,616.2 1697.2,612.0 1697.4,608.2 1697.7,604.2 1697.9,600.5 1698.2,597.2 1698.5,593.7 1698.7,590.4 1699.0,587.6 1699.2,585.1 1699.5,582.9 1699.8,581.2 1700.0,579.5 1700.3,578.1 1700.5,577.6 1700.8,577.6 1701.1,577.7 1701.3,578.2 1701.6,579.3 1701.8,580.4 1702.1,581.8 1702.4,583.9 1702.6,586.5 1702.9,589.2 1703.1,591.7 1703.4,594.7 1703.6,598.1 1703.9,601.4 1704.2,605.1 1704.4,609.1 1704.7,612.9 1704.9,616.2 1705.2,619.4 1705.5,623.1 1705.7,626.8 1706.0,630.2 1706.2,633.6 1706.5,636.7 1706.8,639.7 1707.0,642.5 1707.3,645.0 1707.5,647.5 1707.8,649.5 1708.1,650.8 1708.3,651.8 1708.6,652.9 1708.8,653.2 1709.1,653.1 1709.4,653.1 1709.6,653.0 1709.9,652.4 1710.1,651.7 1710.4,650.3 1710.7,648.5 1710.9,646.9 1711.2,645.0 1711.4,642.8 1711.7,640.2 1712.0,636.9 1712.2,633.5 1712.5,630.4 1712.7,627.2 1713.0,624.1 1713.3,621.0 1713.5,617.6 1713.8,614.0 1714.0,610.6 1714.3,607.4 1714.6,603.8 1714.8,600.7 1715.1,598.0 1715.3,594.9 1715.6,591.8 1715.9,589.4 1716.1,587.2 1716.4,585.1 1716.6,582.9 1716.9,581.4 1717.2,580.5 1717.4,579.4 1717.7,578.2 1717.9,577.2 1718.2,576.9 1718.5,577.3 1718.7,577.7 1719.0,578.3 1719.2,579.1 1719.5,579.8 1719.7,581.1 1720.0,583.2 1720.3,585.0 1720.5,586.6 1720.8,588.7 1721.0,591.3 1721.3,593.6 1721.6,596.0 1721.8,599.0 1722.1,602.2 1722.3,605.1 1722.6,608.1 1722.9,611.3 1723.1,614.4 1723.4,617.4 1723.6,620.5 1723.9,623.3 1724.2,626.2 1724.4,629.5 1724.7,632.3 1724.9,634.8 1725.2,637.5 1725.5,639.9 1725.7,642.1 1726.0,644.2 1726.2,646.3 1726.5,647.9 1726.8,649.3 1727.0,650.8 1727.3,651.8 1727.5,652.5 1727.8,652.9 1728.1,653.2 1728.3,653.7 1728.6,653.9 1728.8,653.5 1729.1,652.9 1729.4,652.1 1729.6,651.3 1729.9,650.1 1730.1,648.6 1730.4,646.9 1730.7,645.5 1730.9,644.0 1731.2,641.8 1731.4,639.7 1731.7,637.7 1732.0,635.3 1732.2,632.5 1732.5,630.1 1732.7,627.5 1733.0,624.5 1733.3,621.7 1733.5,618.9 1733.8,616.4 1734.0,613.6 1734.3,610.4 1734.5,607.7 1734.8,605.2 1735.1,602.5 1735.3,599.9 1735.6,597.7 1735.8,595.4 1736.1,592.9 1736.4,590.7 1736.6,588.5 1736.9,586.2 1737.1,584.5 1737.4,583.4 1737.7,582.5 1737.9,581.4 1738.2,580.2 1738.4,579.3 1738.7,578.5 1739.0,578.1 1739.2,577.9 1739.5,577.7 1739.7,577.6 1740.0,577.8 1740.3,578.5 1740.5,579.5 1740.8,580.0 1741.0,580.3 1741.3,581.3 1741.6,582.6 1741.8,584.3 1742.1,586.2 1742.3,587.8 1742.6,589.3 1742.9,591.3 1743.1,593.6 1743.4,595.7 1743.6,597.9 1743.9,600.1 1744.2,602.3 1744.4,604.8 1744.7,607.2 1744.9,609.5 1745.2,612.0 1745.5,614.5 1745.7,617.0 1746.0,619.6 1746.2,622.4 1746.5,625.2 1746.8,627.2 1747.0,629.1 1747.3,631.9 1747.5,634.6 1747.8,636.7 1748.1,638.6 1748.3,640.2 1748.6,641.6 1748.8,643.5 1749.1,645.3 1749.4,646.8 1749.6,648.1 1749.9,649.1 1750.1,650.2 1750.4,651.4 1750.6,652.4 1750.9,653.1 1751.2,653.4 1751.4,653.6 1751.7,653.8 1751.9,654.1 1752.2,654.2 1752.5,653.7 1752.7,652.8 1753.0,651.9 1753.2,651.4 1753.5,651.0 1753.8,650.4 1754.0,649.1 1754.3,647.6 1754.5,646.2 1754.8,644.8 1755.1,643.1 1755.3,641.3 1755.6,640.0 1755.8,638.6 1756.1,636.7 1756.4,634.3 1756.6,632.0 1756.9,629.9 1757.1,628.2 1757.4,626.1 1757.7,623.5 1757.9,621.0 1758.2,618.5 1758.4,616.4 1758.7,614.8 1759.0,613.0 1759.2,610.3 1759.5,607.7 1759.7,605.5 1760.0,603.6 1760.3,601.7 1760.5,599.6 1760.8,597.6 1761.0,595.7 1761.3,594.0 1761.6,592.3 1761.8,590.6 1762.1,589.2 1762.3,587.4 1762.6,585.5 1762.9,584.4 1763.1,583.6 1763.4,582.6 1763.6,581.6 1763.9,580.5 1764.2,579.7 1764.4,579.4 1764.7,578.9 1764.9,578.0 1765.2,577.6 1765.4,578.0 1765.7,577.8 1766.0,577.6 1766.2,578.0 1766.5,578.1 1766.7,578.1 1767.0,578.9 1767.3,580.0 1767.5,580.8 1767.8,581.6 1767.9,581.8 1768.8,585.5 1769.7,590.4 1770.6,596.1 1771.4,602.4 1772.3,609.2 1773.2,616.0 1774.1,622.7 1775.0,629.2 1775.9,635.2 1776.7,640.5 1777.6,645.2 1778.5,648.9 1779.4,651.6 1780.3,653.3 1781.2,654.0 1782.0,653.4 1782.9,651.6 1783.8,649.1 1784.7,645.9 1785.6,641.8 1786.5,636.9 1787.3,631.4 1788.2,625.7 1789.1,619.9 1790.0,613.8 1790.9,607.6 1791.8,601.8 1792.6,596.6 1793.5,591.9 1794.4,587.7 1795.3,584.1 1796.2,581.3 1797.1,579.2 1797.9,577.9 1798.8,577.4 1799.7,577.8 1800.6,579.2 1801.5,581.3 1802.3,584.0 1803.2,587.5 1804.1,591.6 1805.0,596.1 1805.9,600.8 1806.8,605.7 1807.6,610.9 1808.5,616.2 1809.4,621.5 1810.3,626.5 1811.2,631.4 1812.1,636.0 1812.9,640.1 1813.8,643.9 1814.7,647.2 1815.6,649.8 1816.5,651.8 1817.4,653.0 1818.2,653.7 1819.1,653.9 1820.0,653.3 1820.9,652.1 1821.8,650.4 1822.7,648.2 1823.5,645.5 1824.4,642.3 1825.3,638.7 1826.2,634.7 1827.1,630.5 1828.0,626.0 1828.8,621.5 1829.7,616.8 1830.6,612.2 1831.5,607.6 1832.4,603.1 1833.2,599.1 1834.1,595.2 1835.0,591.6 1835.9,588.4 1836.8,585.4 1837.7,582.9 1838.5,580.9 1839.4,579.3 1840.3,578.2 1841.2,577.6 1842.1,577.4 1843.0,577.6 1843.8,578.5 1844.7,579.8 1845.6,581.5 1846.5,583.6 1847.4,586.0 1848.3,588.7 1849.1,591.7 1850.0,595.1 1850.9,598.8 1851.8,602.5 1852.7,606.2 1853.6,610.0 1854.4,614.0 1855.3,618.0 1856.2,621.9 1857.1,625.8 1858.0,629.5 1858.9,633.1 1859.7,636.3 1860.6,639.5 1861.5,642.3 1862.4,644.9 1863.3,647.2 1864.1,649.1 1865.0,650.7 1865.9,652.0 1866.8,653.0 1867.7,653.7 1868.6,654.0 1869.4,653.9 1870.3,653.5 1871.2,652.8 1872.1,651.7 1873.0,650.1 1873.9,648.4 1874.7,646.5 1875.6,644.2 1876.5,641.9 1877.4,639.3 1878.3,636.5 1879.2,633.5 1880.0,630.3 1880.9,627.1 1881.8,623.9 1882.7,620.6 1883.6,617.3 1884.5,613.9 1885.3,610.5 1886.2,607.4 1887.1,604.3 1888.0,601.2 1888.9,598.2 1889.8,595.3 1890.6,592.5 1891.5,590.1 1892.4,587.8 1893.3,585.6 1894.2,583.8 1895.0,582.2 1895.9,580.8 1896.8,579.6 1897.7,578.8 1898.6,578.1 1899.5,577.6 1900.3,577.4 1901.2,577.6 1902.1,577.8 1903.0,578.3 1903.9,579.2 1904.8,580.3 1905.6,581.5 1906.5,582.9 1907.4,584.6 1908.3,586.5 1909.2,588.4 1910.1,590.5 1910.9,592.8 1911.8,595.2 1912.7,597.7 1913.6,600.2 1914.5,602.9 1915.4,605.6 1916.2,608.2 1917.1,611.0 1918.0,613.9 1918.9,616.7 1919.8,619.4 1920.7,622.2 1921.5,625.0 1922.4,627.8 1923.3,630.5 1924.2,632.9 1925.1,635.3 1925.9,637.6 1926.8,639.7 1927.7,641.9 1928.6,644.1 1929.5,645.9 1930.4,647.4 1931.2,648.8 1932.1,650.3 1933.0,651.4 1933.9,652.2 1934.8,652.9 1935.7,653.4 1936.5,653.7 1937.4,653.9 1938.3,653.8 1939.2,653.7 1940.1,653.4 1941.0,652.7 1941.8,651.9 1942.7,651.0 1943.6,649.8 1944.5,648.5 1945.4,647.1 1946.3,645.4 1947.1,643.6" fill="none" stroke="#ff00ff" stroke-width="2.85" stroke-linejoin="round" stroke-linecap="round"/><rect x="1586.15" y="506.80" width="389.50" height="215.00" fill="none" stroke="#000" stroke-width="2.9" stroke-linejoin="round"/><text x="1896.75" y="542.80" font-size="31">m<tspan x="1922.65" dy="9">34</tspan></text></g>
<g><line x1="148.90" y1="866.30" x2="538.40" y2="866.30" stroke="#1a1a1a" stroke-width="1.5"/><path d="M148.90 763.05h17.7M148.90 814.05h17.7M148.90 917.25h17.7M148.90 968.25h17.7M226.80 972.90v-18M304.70 972.90v-18M382.60 972.90v-18M460.50 972.90v-18" stroke="#000" stroke-width="1.7" fill="none"/><polyline points="157.1,865.2 157.3,865.3 157.6,864.7 157.9,864.4 158.1,865.4 158.4,866.1 158.6,865.8 158.9,865.6 159.2,865.7 159.4,865.3 159.7,864.9 159.9,864.8 160.2,864.6 160.5,864.6 160.7,865.1 161.0,865.6 161.2,865.6 161.5,865.5 161.8,865.9 162.0,865.9 162.3,865.3 162.5,865.0 162.8,865.1 163.1,865.1 163.3,865.2 163.6,865.5 163.8,866.0 164.1,866.3 164.4,866.0 164.6,865.8 164.9,865.9 165.1,865.7 165.4,865.4 165.6,865.0 165.9,864.7 166.2,864.7 166.4,865.2 166.7,865.6 166.9,865.6 167.2,865.8 167.5,866.1 167.7,866.0 168.0,866.0 168.2,866.2 168.5,866.1 168.8,865.8 169.0,865.3 169.3,865.1 169.5,865.2 169.8,865.5 170.1,865.5 170.3,865.3 170.6,865.6 170.8,866.2 171.1,866.4 171.4,866.3 171.6,865.7 171.9,865.2 172.1,865.1 172.4,865.1 172.7,865.0 172.9,865.1 173.2,865.5 173.4,865.1 173.7,864.7 174.0,865.2 174.2,865.7 174.5,865.6 174.7,865.2 175.0,865.4 175.3,866.0 175.5,866.2 175.8,866.0 176.0,866.3 176.3,866.2 176.6,865.3 176.8,864.6 177.1,865.0 177.3,865.3 177.6,865.0 177.9,865.1 178.1,865.4 178.4,865.3 178.6,865.3 178.9,865.5 179.2,865.9 179.4,866.0 179.7,866.0 179.9,865.9 180.2,865.8 180.4,865.7 180.7,865.6 181.0,865.3 181.2,865.6 181.5,865.9 181.7,865.6 182.0,865.2 182.3,865.1 182.5,864.9 182.8,864.8 183.0,865.3 183.3,865.5 183.6,865.3 183.8,865.4 184.1,865.6 184.3,865.6 184.6,865.4 184.9,865.8 185.1,866.3 185.4,866.2 185.6,866.0 185.9,865.8 186.2,865.6 186.4,865.3 186.7,864.8 186.9,864.8 187.2,865.3 187.5,865.2 187.7,865.0 188.0,865.1 188.2,865.2 188.5,865.2 188.8,865.2 189.0,865.7 189.3,866.2 189.5,866.0 189.8,865.6 190.1,865.4 190.3,865.6 190.6,865.8 190.8,865.8 191.1,866.0 191.4,865.8 191.6,865.1 191.9,864.8 192.1,864.7 192.4,864.4 192.7,864.3 192.9,864.6 193.2,865.0 193.4,865.3 193.7,865.5 194.0,865.6 194.2,865.5 194.5,865.6 194.7,865.6 195.0,865.5 195.3,865.6 195.5,866.1 195.8,866.2 196.0,866.0 196.3,865.7 196.5,866.0 196.8,866.3 197.1,865.8 197.3,865.2 197.6,864.9 197.8,864.8 198.1,864.9 198.4,864.9 198.6,864.8 198.9,864.6 199.1,864.5 199.4,864.7 199.7,864.8 199.9,864.9 200.2,865.0 200.4,865.2 200.7,865.4 201.0,865.7 201.2,865.8 201.5,866.0 201.7,866.0 202.0,865.7 202.3,865.7 202.5,866.1 202.8,866.2 203.0,865.9 203.3,865.7 203.6,865.5 203.8,865.2 204.1,865.4 204.3,865.6 204.6,865.4 204.9,865.0 205.1,864.9 205.4,864.4 205.6,864.4 205.9,864.9 206.2,865.1 206.4,865.3 206.7,865.4 206.9,865.3 207.2,865.5 207.5,865.5 207.7,865.3 208.0,865.2 208.2,865.2 208.5,865.4 208.8,865.7 209.0,865.9 209.3,865.8 209.5,865.5 209.8,865.4 210.1,865.6 210.3,865.8 210.6,866.1 210.8,866.1 211.1,865.7 211.3,865.3 211.6,865.5 211.9,865.7 212.1,865.3 212.4,865.0 212.6,865.2 212.9,865.2 213.2,864.7 213.4,864.7 213.7,865.2 213.9,865.4 214.2,865.2 214.5,865.0 214.7,865.1 215.0,865.3 215.2,865.2 215.5,865.0 215.8,865.3 216.0,865.6 216.3,865.3 216.5,865.0 216.8,865.2 217.1,865.4 217.3,865.5 217.6,865.3 217.8,865.2 218.1,865.6 218.4,865.9 218.6,865.8 218.9,866.0 219.1,866.2 219.4,866.1 219.7,865.7 219.9,865.4 220.2,865.2 220.4,864.8 220.7,864.8 221.0,865.2 221.2,865.0 221.5,864.9 221.7,865.7 222.0,865.9 222.3,865.7 222.5,865.8 222.8,865.6 223.0,865.0 223.3,864.4 223.6,864.6 223.8,865.0 224.1,865.2 224.3,865.2 224.6,865.0 224.9,864.9 225.1,864.9 225.4,865.3 225.6,865.8 225.9,865.7 226.2,865.3 226.4,865.1 226.7,865.1 226.9,865.2 227.2,865.4 227.4,865.4 227.7,865.4 228.0,865.6 228.2,865.8 228.5,866.0 228.7,866.2 229.0,865.9 229.3,865.6 229.5,865.7 229.8,865.9 230.0,865.6 230.3,864.9 230.6,864.8 230.8,865.1 231.1,865.3 231.3,865.2 231.6,865.3 231.9,865.4 232.1,865.5 232.4,865.4 232.6,865.1 232.9,865.0 233.2,864.7 233.4,864.6 233.7,864.9 233.9,865.0 234.2,865.2 234.5,865.3 234.7,865.1 235.0,864.9 235.2,864.8 235.5,864.9 235.8,865.0 236.0,865.1 236.3,865.3 236.5,865.4 236.8,865.6 237.1,865.7 237.3,865.6 237.6,865.1 237.8,865.0 238.1,865.4 238.4,865.7 238.6,866.2 238.9,866.4 239.1,865.8 239.4,865.4 239.7,865.5 239.9,865.8 240.2,866.2 240.4,866.1 240.7,865.6 241.0,865.4 241.2,865.4 241.5,865.5 241.7,865.6 242.0,865.7 242.3,865.6 242.5,865.3 242.8,865.4 243.0,865.2 243.3,865.1 243.5,865.1 243.8,864.9 244.1,865.0 244.3,865.4 244.6,865.4 244.8,865.1 245.1,864.9 245.4,865.0 245.6,865.2 245.9,865.5 246.1,865.3 246.4,864.8 246.7,864.7 246.9,864.8 247.2,865.1 247.4,865.4 247.7,865.6 248.0,865.7 248.2,865.3 248.5,864.9 248.7,865.1 249.0,865.4 249.3,865.6 249.5,865.8 249.8,865.7 250.0,865.7 250.3,865.8 250.6,865.9 250.8,865.9 251.1,865.6 251.3,865.2 251.6,865.3 251.9,865.7 252.1,865.5 252.4,865.5 252.6,865.8 252.9,865.7 253.2,865.6 253.4,865.7 253.7,865.7 253.9,865.4 254.2,865.5 254.5,865.7 254.7,865.4 255.0,865.2 255.2,865.3 255.5,865.3 255.8,865.3 256.0,865.3 256.3,865.3 256.5,865.4 256.8,865.2 257.1,864.7 257.3,864.8 257.6,864.9 257.8,864.6 258.1,864.5 258.3,864.8 258.6,865.0 258.9,864.7 259.1,864.4 259.4,864.6 259.6,865.1 259.9,865.4 260.2,865.0 260.4,864.8 260.7,865.1 260.9,865.1 261.2,865.2 261.5,865.4 261.7,865.6 262.0,865.5 262.2,865.6 262.5,865.8 262.8,865.6 263.0,865.3 263.3,865.3 263.5,865.3 263.8,865.3 264.1,865.4 264.3,865.5 264.6,865.5 264.8,865.5 265.1,865.3 265.4,864.9 265.6,865.0 265.9,865.8 266.1,865.9 266.4,865.6 266.7,865.5 266.9,865.8 267.2,865.8 267.4,865.7 267.7,865.7 268.0,865.6 268.2,865.8 268.5,866.2 268.7,865.9 269.0,865.6 269.3,865.8 269.5,865.9 269.8,865.5 270.0,865.1 270.3,865.3 270.6,865.6 270.8,865.7 271.1,865.8 271.3,865.6 271.6,865.2 271.9,865.0 272.1,865.0 272.4,865.3 272.6,865.4 272.9,865.3 273.2,865.3 273.4,865.2 273.7,864.9 273.9,864.8 274.2,864.9 274.4,865.0 274.7,865.1 275.0,865.0 275.2,864.7 275.5,864.9 275.7,865.2 276.0,865.3 276.3,865.4 276.5,865.2 276.8,864.6 277.0,864.3 277.3,864.5 277.6,864.7 277.8,864.7 278.1,865.0 278.3,865.4 278.6,865.5 278.9,865.7 279.1,865.6 279.4,865.1 279.6,864.6 279.9,864.6 280.2,865.3 280.4,865.5 280.7,865.2 280.9,865.3 281.2,865.5 281.5,865.3 281.7,865.3 282.0,865.5 282.2,865.6 282.5,865.7 282.8,865.6 283.0,865.6 283.3,865.6 283.5,865.7 283.8,865.7 284.1,865.5 284.3,865.4 284.6,865.5 284.8,865.8 285.1,865.9 285.4,865.6 285.6,865.7 285.9,865.9 286.1,865.7 286.4,865.5 286.7,865.6 286.9,865.4 287.2,865.3 287.4,865.7 287.7,866.0 288.0,866.3 288.2,866.5 288.5,866.0 288.7,865.3 289.0,865.4 289.2,865.7 289.5,865.4 289.8,865.4 290.0,865.7 290.3,865.7 290.5,865.5 290.8,865.4 291.1,865.7 291.3,865.7 291.6,865.4 291.8,865.2 292.1,865.1 292.4,865.0 292.6,864.8 292.9,864.6 293.1,864.3 293.4,864.6 293.7,865.2 293.9,865.2 294.2,865.1 294.4,865.3 294.7,865.5 295.0,865.4 295.2,864.9 295.5,864.6 295.7,865.0 296.0,865.5 296.3,865.1 296.5,864.7 296.8,864.7 297.0,864.6 297.3,864.5 297.6,864.9 297.8,865.2 298.1,865.3 298.3,865.1 298.6,865.1 298.9,865.2 299.1,865.5 299.4,865.8 299.6,865.6 299.9,864.9 300.2,864.9 300.4,865.4 300.7,865.5 300.9,865.3 301.2,865.6 301.5,865.6 301.7,864.9 302.0,864.7 302.2,865.1 302.5,865.2 302.8,865.3 303.0,865.8 303.3,865.9 303.5,865.7 303.8,865.7 304.1,865.6 304.3,865.5 304.6,865.7 304.8,865.6 305.1,865.6 305.3,865.7 305.6,865.8 305.9,865.8 306.1,865.7 306.4,865.7 306.6,865.8 306.9,865.7 307.2,865.6 307.4,865.7 307.7,865.5 307.9,865.3 308.2,865.4 308.5,866.0 308.7,866.5 309.0,866.3 309.2,866.0 309.5,865.9 309.8,865.6 310.0,865.4 310.3,865.6 310.5,866.1 310.8,866.5 311.1,866.4 311.3,865.7 311.6,865.4 311.8,865.7 312.1,866.0 312.4,865.9 312.6,865.6 312.9,865.6 313.1,865.7 313.4,865.6 313.7,865.5 313.9,865.4 314.2,865.6 314.4,865.6 314.7,865.4 315.0,865.3 315.2,865.2 315.5,865.2 315.7,865.1 316.0,865.2 316.3,865.4 316.5,865.4 316.8,865.5 317.0,865.3 317.3,864.6 317.6,864.2 317.8,864.4 318.1,865.0 318.3,865.5 318.6,865.6 318.9,865.4 319.1,865.2 319.4,865.3 319.6,865.3 319.9,865.2 320.2,864.9 320.4,864.7 320.7,864.8 320.9,864.6 321.2,864.7 321.4,864.9 321.7,864.5 322.0,864.3 322.2,864.4 322.5,864.4 322.7,864.6 323.0,865.0 323.3,865.2 323.5,865.0 323.8,864.9 324.0,865.1 324.3,865.4 324.6,865.4 324.8,864.9 325.1,864.8 325.3,865.0 325.6,865.3 325.9,865.2 326.1,864.7 326.4,864.8 326.6,865.2 326.9,865.3 327.2,865.1 327.4,865.1 327.7,865.5 327.9,865.7 328.2,865.5 328.5,865.3 328.7,865.4 329.0,865.4 329.2,865.2 329.5,865.4 329.8,865.9 330.0,865.7 330.3,865.4 330.5,865.5 330.7,865.5 331.5,865.5 332.4,865.7 333.3,865.7 334.2,865.7 335.1,865.7 336.0,865.8 336.8,865.7 337.7,865.7 338.6,865.7 339.5,865.7 340.4,865.7 341.3,865.7 342.1,865.5 343.0,865.4 343.9,865.3 344.8,865.1 345.7,865.0 346.6,865.1 347.4,865.3 348.3,865.2 349.2,865.0 350.1,865.0 351.0,865.0 351.9,865.0 352.7,864.9 353.6,864.9 354.5,864.9 355.4,864.9 356.3,864.9 357.2,865.0 358.0,865.1 358.9,865.1 359.8,865.3 360.7,865.4 361.6,865.3 362.4,865.5 363.3,865.6 364.2,865.6 365.1,865.6 366.0,865.5 366.9,865.5 367.7,865.7 368.6,865.9 369.5,865.9 370.4,865.9 371.3,865.9 372.2,865.8 373.0,865.8 373.9,865.8 374.8,865.6 375.7,865.6 376.6,865.6 377.5,865.6 378.3,865.5 379.2,865.5 380.1,865.5 381.0,865.4 381.9,865.2 382.8,865.2 383.6,865.2 384.5,865.3 385.4,865.2 386.3,865.1 387.2,865.1 388.1,865.2 388.9,865.1 389.8,865.1 390.7,865.1 391.6,865.0 392.5,865.0 393.4,864.9 394.2,865.0 395.1,865.1 396.0,865.1 396.9,865.0 397.8,865.1 398.6,865.3 399.5,865.2 400.4,865.1 401.3,865.1 402.2,865.2 403.1,865.3 403.9,865.4 404.8,865.5 405.7,865.4 406.6,865.4 407.5,865.5 408.4,865.5 409.2,865.5 410.1,865.5 411.0,865.6 411.9,865.7 412.8,865.8 413.7,865.7 414.5,865.7 415.4,865.8 416.3,865.9 417.2,865.9 418.1,865.7 419.0,865.7 419.8,865.8 420.7,865.9 421.6,865.8 422.5,865.7 423.4,865.6 424.3,865.6 425.1,865.7 426.0,865.6 426.9,865.6 427.8,865.5 428.7,865.5 429.5,865.5 430.4,865.6 431.3,865.5 432.2,865.4 433.1,865.2 434.0,865.1 434.8,865.2 435.7,865.2 436.6,865.2 437.5,865.1 438.4,865.1 439.3,865.1 440.1,865.1 441.0,865.0 441.9,864.9 442.8,864.9 443.7,865.0 444.6,865.1 445.4,864.9 446.3,864.7 447.2,864.9 448.1,865.1 449.0,865.2 449.9,865.1 450.7,865.0 451.6,865.0 452.5,865.0 453.4,865.1 454.3,865.1 455.2,865.0 456.0,865.1 456.9,865.2 457.8,865.2 458.7,865.1 459.6,865.2 460.4,865.2 461.3,865.2 462.2,865.3 463.1,865.4 464.0,865.3 464.9,865.4 465.7,865.6 466.6,865.7 467.5,865.6 468.4,865.5 469.3,865.6 470.2,865.6 471.0,865.5 471.9,865.5 472.8,865.7 473.7,865.7 474.6,865.6 475.5,865.7 476.3,865.7 477.2,865.7 478.1,865.7 479.0,865.8 479.9,865.8 480.8,865.9 481.6,865.8 482.5,865.8 483.4,865.8 484.3,865.8 485.2,865.6 486.1,865.6 486.9,865.7 487.8,865.6 488.7,865.6 489.6,865.7 490.5,865.7 491.3,865.7 492.2,865.8 493.1,865.8 494.0,865.7 494.9,865.7 495.8,865.7 496.6,865.6 497.5,865.5 498.4,865.5 499.3,865.5 500.2,865.5 501.1,865.5 501.9,865.4 502.8,865.3 503.7,865.4 504.6,865.3 505.5,865.2 506.4,865.2 507.2,865.1 508.1,865.1 509.0,865.0 509.9,865.0" fill="none" stroke="#ff00ff" stroke-width="2.85" stroke-linejoin="round" stroke-linecap="round"/><rect x="148.90" y="757.90" width="389.50" height="215.00" fill="none" stroke="#000" stroke-width="2.9" stroke-linejoin="round"/><text x="459.50" y="793.90" font-size="31">m<tspan x="485.40" dy="9">41</tspan></text><text x="138.50" y="771.90" font-size="31" text-anchor="end">1.0</text><text x="138.50" y="823.15" font-size="31" text-anchor="end">0.5</text><text x="138.50" y="874.40" font-size="31" text-anchor="end">0.0</text><text x="138.50" y="925.65" font-size="31" text-anchor="end">-0.5</text><text x="138.50" y="976.90" font-size="31" text-anchor="end">-1.0</text><text x="147.90" y="1009.7" font-size="31" text-anchor="middle">0.3</text><text x="225.80" y="1009.7" font-size="31" text-anchor="middle">0.6</text><text x="303.70" y="1009.7" font-size="31" text-anchor="middle">0.9</text><text x="381.60" y="1009.7" font-size="31" text-anchor="middle">1.2</text><text x="459.50" y="1009.7" font-size="31" text-anchor="middle">1.5</text><text x="537.40" y="1009.7" font-size="31" text-anchor="middle">1.8</text></g>
<g><line x1="627.80" y1="866.30" x2="1017.30" y2="866.30" stroke="#1a1a1a" stroke-width="1.5"/><path d="M627.80 763.05h17.7M627.80 814.05h17.7M627.80 917.25h17.7M627.80 968.25h17.7M705.70 972.90v-18M783.60 972.90v-18M861.50 972.90v-18M939.40 972.90v-18" stroke="#000" stroke-width="1.7" fill="none"/><polyline points="636.0,829.9 636.2,874.6 636.5,915.6 636.8,938.7 637.0,936.1 637.3,908.1 637.5,865.3 637.8,823.2 638.1,795.3 638.3,790.7 638.6,811.0 638.8,849.2 639.1,892.6 639.4,927.8 639.6,944.3 639.9,936.2 640.1,906.3 640.4,864.8 640.7,823.9 640.9,794.8 641.2,786.0 641.4,800.4 641.7,833.5 642.0,875.1 642.2,914.0 642.5,940.0 642.7,946.1 643.0,931.1 643.3,899.3 643.5,859.2 643.8,820.7 644.0,793.2 644.3,783.5 644.5,794.2 644.8,822.3 645.1,860.3 645.3,899.5 645.6,931.4 645.8,948.1 646.1,946.0 646.4,926.6 646.6,894.2 646.9,855.7 647.1,819.4 647.4,793.0 647.7,781.9 647.9,788.0 648.2,810.3 648.4,843.1 648.7,880.3 649.0,915.3 649.2,940.6 649.5,951.1 649.7,945.6 650.0,925.0 650.3,893.7 650.5,857.3 650.8,822.7 651.0,795.9 651.3,781.5 651.6,781.9 651.8,796.8 652.1,823.4 652.3,857.2 652.6,892.5 652.9,923.4 653.1,944.5 653.4,953.0 653.6,948.0 653.9,930.1 654.2,902.5 654.4,869.8 654.7,836.7 654.9,807.4 655.2,786.8 655.5,778.1 655.7,782.5 656.0,799.1 656.2,824.8 656.5,856.0 656.8,888.5 657.0,917.6 657.3,939.4 657.5,952.2 657.8,953.8 658.1,943.4 658.3,922.8 658.6,895.0 658.8,863.7 659.1,832.8 659.3,806.4 659.6,787.3 659.9,777.1 660.1,777.6 660.4,789.2 660.6,809.9 660.9,836.7 661.2,866.9 661.4,896.6 661.7,922.7 661.9,942.7 662.2,953.9 662.5,955.2 662.7,946.8 663.0,930.4 663.2,907.3 663.5,879.8 663.8,851.0 664.0,823.7 664.3,800.7 664.5,784.3 664.8,776.1 665.1,777.2 665.3,786.8 665.6,803.1 665.8,825.6 666.1,852.4 666.4,880.0 666.6,906.1 666.9,928.6 667.1,945.9 667.4,955.7 667.7,956.6 667.9,949.9 668.2,936.3 668.4,916.6 668.7,892.5 669.0,866.1 669.2,840.1 669.5,816.2 669.7,796.3 670.0,782.3 670.3,775.7 670.5,776.0 670.8,782.9 671.0,796.6 671.3,815.7 671.6,838.4 671.8,863.6 672.1,888.9 672.3,911.8 672.6,931.3 672.9,946.3 673.1,955.5 673.4,958.4 673.6,954.4 673.9,943.7 674.2,928.0 674.4,908.5 674.7,886.2 674.9,862.1 675.2,838.3 675.4,817.2 675.7,799.3 676.0,785.1 676.2,776.4 676.5,773.8 676.7,777.0 677.0,786.2 677.3,800.1 677.5,817.6 677.8,838.0 678.0,860.4 678.3,883.3 678.6,905.2 678.8,924.4 679.1,939.8 679.3,950.6 679.6,956.8 679.9,958.4 680.1,955.0 680.4,945.8 680.6,931.5 680.9,914.1 681.2,894.4 681.4,873.4 681.7,852.3 681.9,832.1 682.2,813.5 682.5,796.9 682.7,784.3 683.0,776.4 683.2,773.1 683.5,774.2 683.8,780.1 684.0,790.4 684.3,804.2 684.5,821.0 684.8,840.1 685.1,860.1 685.3,880.5 685.6,900.3 685.8,918.1 686.1,933.2 686.4,945.3 686.6,954.0 686.9,958.9 687.1,959.1 687.4,955.1 687.7,947.8 687.9,936.9 688.2,922.0 688.4,905.1 688.7,887.2 689.0,868.2 689.2,849.1 689.5,830.8 689.7,813.6 690.0,799.1 690.2,787.7 690.5,779.2 690.8,774.0 691.0,772.4 691.3,774.4 691.5,780.4 691.8,789.6 692.1,801.8 692.3,816.2 692.6,832.1 692.8,849.7 693.1,868.1 693.4,885.8 693.6,902.6 693.9,918.3 694.1,932.4 694.4,944.2 694.7,952.5 694.9,957.3 695.2,959.7 695.4,959.1 695.7,954.5 696.0,946.7 696.2,936.7 696.5,924.7 696.7,910.3 697.0,894.4 697.3,878.1 697.5,861.4 697.8,844.5 698.0,828.5 698.3,814.2 698.6,801.7 698.8,790.9 699.1,782.2 699.3,775.8 699.6,772.3 699.9,772.1 700.1,774.7 700.4,780.0 700.6,788.2 700.9,798.8 701.2,811.0 701.4,825.0 701.7,839.7 701.9,855.0 702.2,870.7 702.5,885.8 702.7,900.4 703.0,914.6 703.2,927.4 703.5,938.8 703.8,947.6 704.0,953.8 704.3,958.2 704.5,960.1 704.8,959.6 705.1,956.6 705.3,950.8 705.6,943.0 705.8,933.3 706.1,921.6 706.3,908.7 706.6,894.7 706.9,879.9 707.1,865.0 707.4,850.3 707.6,836.1 707.9,823.0 708.2,810.6 708.4,799.2 708.7,789.8 708.9,782.1 709.2,776.3 709.5,772.8 709.7,771.5 710.0,772.8 710.2,775.8 710.5,780.6 710.8,787.1 711.0,795.7 711.3,806.3 711.5,817.5 711.8,830.0 712.1,843.6 712.3,857.1 712.6,870.4 712.8,884.2 713.1,898.1 713.4,910.8 713.6,922.3 713.9,932.4 714.1,940.9 714.4,948.6 714.7,954.8 714.9,958.2 715.2,959.7 715.4,960.1 715.7,958.7 716.0,955.5 716.2,950.6 716.5,943.5 716.7,934.9 717.0,925.3 717.3,914.5 717.5,902.9 717.8,890.5 718.0,877.4 718.3,864.9 718.6,852.6 718.8,840.0 719.1,827.9 719.3,816.3 719.6,806.0 719.9,797.1 720.1,789.2 720.4,782.5 720.6,777.2 720.9,774.0 721.2,772.6 721.4,772.2 721.7,772.9 721.9,775.5 722.2,779.6 722.4,785.4 722.7,792.8 723.0,801.0 723.2,810.1 723.5,820.5 723.7,831.8 724.0,843.4 724.3,854.8 724.5,866.5 724.8,878.6 725.0,890.4 725.3,901.2 725.6,911.7 725.8,921.8 726.1,930.8 726.3,938.9 726.6,945.8 726.9,951.3 727.1,955.7 727.4,958.8 727.6,960.5 727.9,960.9 728.2,959.5 728.4,956.6 728.7,952.4 728.9,947.4 729.2,941.5 729.5,934.5 729.7,926.6 730.0,917.9 730.2,908.3 730.5,898.1 730.8,887.8 731.0,877.0 731.3,865.7 731.5,854.6 731.8,843.7 732.1,833.2 732.3,823.3 732.6,814.0 732.8,805.2 733.1,797.3 733.4,790.3 733.6,784.0 733.9,778.8 734.1,775.0 734.4,772.4 734.7,771.0 734.9,771.0 735.2,771.9 735.4,774.0 735.7,777.7 736.0,782.0 736.2,786.6 736.5,792.6 736.7,799.6 737.0,806.7 737.2,815.3 737.5,825.0 737.8,834.5 738.0,844.3 738.3,854.8 738.5,864.5 738.8,873.4 739.1,883.5 739.3,894.3 739.6,903.8 739.8,911.9 740.1,920.0 740.4,928.0 740.6,935.4 740.9,941.8 741.1,947.3 741.4,952.1 741.7,955.7 741.9,958.5 742.2,960.4 742.4,960.7 742.7,960.3 743.0,959.2 743.2,956.8 743.5,953.5 743.7,949.6 744.0,945.2 744.3,939.6 744.5,933.0 744.8,926.1 745.0,918.7 745.3,910.8 745.6,902.5 745.8,893.5 746.1,884.3 746.3,874.7 746.6,865.4 746.9,856.4 747.1,847.2 747.4,837.8 747.6,829.1 747.9,821.3 748.2,813.4 748.4,805.9 748.7,799.5 748.9,793.7 749.2,788.2 749.5,783.4 749.7,779.5 750.0,775.4 750.2,772.0 750.5,770.5 750.8,770.4 751.0,771.0 751.3,772.1 751.5,773.6 751.8,776.6 752.1,780.2 752.3,783.3 752.6,787.5 752.8,793.6 753.1,799.8 753.3,806.3 753.6,813.5 753.9,820.9 754.1,828.3 754.4,836.0 754.6,844.4 754.9,853.1 755.2,861.5 755.4,869.7 755.7,877.9 755.9,886.1 756.2,894.3 756.5,903.0 756.7,911.2 757.0,918.1 757.2,924.4 757.5,930.5 757.8,936.6 758.0,942.2 758.3,946.9 758.5,950.3 758.8,953.1 759.1,955.9 759.3,958.2 759.6,959.7 759.8,960.2 760.1,959.9 760.4,959.5 760.6,958.6 760.9,957.1 761.1,954.6 761.4,951.1 761.7,947.5 761.9,943.2 762.2,938.2 762.4,933.2 762.7,927.9 763.0,921.5 763.2,914.2 763.5,906.9 763.7,899.9 764.0,892.6 764.3,885.0 764.5,877.3 764.8,869.6 765.0,861.7 765.3,853.9 765.6,846.5 765.8,839.4 766.1,832.0 766.3,824.5 766.6,817.7 766.9,811.5 767.1,805.3 767.4,799.9 767.6,795.5 767.9,790.8 768.1,785.9 768.4,781.9 768.7,778.7 768.9,775.9 769.2,774.0 769.4,772.9 769.7,771.7 770.0,771.5 770.2,771.7 770.5,771.9 770.7,773.1 771.0,775.1 771.3,777.5 771.5,779.8 771.8,782.4 772.0,786.5 772.3,791.5 772.6,796.5 772.8,801.6 773.1,806.6 773.3,811.9 773.6,817.8 773.9,823.8 774.1,830.1 774.4,836.8 774.6,843.5 774.9,850.1 775.2,857.2 775.4,864.1 775.7,870.5 775.9,877.3 776.2,884.4 776.5,891.2 776.7,898.0 777.0,904.7 777.2,911.0 777.5,916.7 777.8,922.3 778.0,927.8 778.3,932.2 778.5,936.7 778.8,941.7 779.1,945.8 779.3,949.1 779.6,952.0 779.8,954.6 780.1,956.7 780.4,958.2 780.6,959.3 780.9,960.2 781.1,961.1 781.4,961.0 781.7,959.9 781.9,958.8 782.2,957.8 782.4,955.6 782.7,952.8 783.0,950.1 783.2,947.4 783.5,944.2 783.7,939.9 784.0,935.6 784.2,931.8 784.5,927.2 784.8,921.2 785.0,915.7 785.3,910.8 785.5,905.2 785.8,899.3 786.1,893.1 786.3,886.7 786.6,880.5 786.8,874.4 787.1,868.4 787.4,862.1 787.6,855.6 787.9,849.2 788.1,842.8 788.4,837.1 788.7,831.6 788.9,825.6 789.2,819.9 789.4,814.5 789.7,809.8 790.0,805.4 790.2,800.4 790.5,795.9 790.7,792.5 791.0,788.4 791.3,784.5 791.5,781.5 791.8,778.9 792.0,777.3 792.3,775.7 792.6,773.9 792.8,772.6 793.1,772.0 793.3,771.4 793.6,771.0 793.9,771.3 794.1,772.1 794.4,773.5 794.6,774.6 794.9,775.6 795.2,777.7 795.4,780.4 795.7,783.3 795.9,786.9 796.2,790.3 796.5,793.2 796.7,796.8 797.0,801.0 797.2,805.0 797.5,809.4 797.8,814.4 798.0,819.5 798.3,824.5 798.5,829.8 798.8,835.1 799.1,840.0 799.3,845.6 799.6,851.6 799.8,857.1 800.1,863.0 800.3,869.0 800.6,874.4 800.9,879.8 801.1,885.4 801.4,890.9 801.6,896.1 801.9,901.4 802.2,906.4 802.4,911.0 802.7,915.5 802.9,919.6 803.2,924.0 803.5,928.4 803.7,933.0 804.0,937.8 804.2,941.1 804.5,943.9 804.8,947.2 805.0,950.4 805.3,952.6 805.5,954.2 805.8,955.8 806.1,957.4 806.3,959.2 806.6,960.7 806.8,961.3 807.1,960.8 807.4,960.2 807.6,960.3 807.9,960.3 808.1,959.6 808.4,958.5 808.7,957.3 808.9,955.9 809.2,954.0 809.4,951.6 809.6,950.2 810.4,940.6 811.3,928.7 812.2,914.6 813.1,899.1 814.0,882.8 814.9,865.9 815.7,849.0 816.6,832.8 817.5,817.6 818.4,804.0 819.3,792.4 820.2,783.3 821.0,776.6 821.9,772.4 822.8,771.1 823.7,772.5 824.6,776.3 825.5,782.4 826.3,790.7 827.2,801.0 828.1,813.2 829.0,826.9 829.9,841.3 830.8,856.0 831.6,871.0 832.5,885.8 833.4,900.2 834.3,913.4 835.2,925.4 836.1,936.1 836.9,945.1 837.8,952.2 838.7,957.2 839.6,960.3 840.5,961.3 841.3,960.0 842.2,956.7 843.1,951.6 844.0,944.8 844.9,936.3 845.8,926.4 846.6,915.4 847.5,903.6 848.4,891.0 849.3,877.9 850.2,864.7 851.1,851.5 851.9,838.7 852.8,826.5 853.7,815.2 854.6,805.0 855.5,796.0 856.4,788.1 857.2,781.6 858.1,776.6 859.0,773.2 859.9,771.2 860.8,771.0 861.7,772.4 862.5,775.1 863.4,779.4 864.3,785.1 865.2,792.2 866.1,800.2 867.0,809.1 867.8,819.0 868.7,829.7 869.6,840.6 870.5,851.7 871.4,863.1 872.3,874.6 873.1,886.0 874.0,896.8 874.9,907.1 875.8,916.8 876.7,925.8 877.5,934.1 878.4,941.3 879.3,947.3 880.2,952.4 881.1,956.4 882.0,959.2 882.8,960.9 883.7,961.2 884.6,960.3 885.5,958.3 886.4,955.2 887.3,951.1 888.1,946.0 889.0,940.1 889.9,933.3 890.8,925.6 891.7,917.2 892.6,908.3 893.4,899.0 894.3,889.6 895.2,880.0 896.1,870.1 897.0,860.3 897.9,850.8 898.7,841.3 899.6,832.0 900.5,823.2 901.4,814.9 902.3,807.3 903.2,800.2 904.0,793.7 904.9,788.0 905.8,782.9 906.7,778.7 907.6,775.6 908.4,773.3 909.3,771.7 910.2,771.0 911.1,771.3 912.0,772.4 912.9,774.3 913.7,776.9 914.6,780.3 915.5,784.6 916.4,789.5 917.3,794.9 918.2,801.0 919.0,807.4 919.9,814.3 920.8,821.6 921.7,829.5 922.6,837.7 923.5,845.9 924.3,854.1 925.2,862.4 926.1,870.9 927.0,879.1 927.9,887.1 928.8,894.9 929.6,902.6 930.5,909.9 931.4,916.9 932.3,923.6 933.2,929.9 934.1,935.5 934.9,940.6 935.8,945.2 936.7,949.3 937.6,952.8 938.5,955.6 939.3,957.9 940.2,959.7 941.1,960.6 942.0,961.0 942.9,960.9 943.8,960.2 944.6,958.8 945.5,956.8 946.4,954.2 947.3,951.0 948.2,947.4 949.1,943.4 949.9,938.9 950.8,933.9 951.7,928.5 952.6,922.7 953.5,916.8 954.4,910.7 955.2,904.4 956.1,897.7 957.0,890.9 957.9,884.0 958.8,877.2 959.7,870.4 960.5,863.3 961.4,856.4 962.3,849.4 963.2,842.4 964.1,835.8 965.0,829.3 965.8,822.9 966.7,817.0 967.6,811.4 968.5,805.9 969.4,800.6 970.2,795.6 971.1,791.1 972.0,787.3 972.9,783.8 973.8,780.6 974.7,777.6 975.5,775.2 976.4,773.5 977.3,772.2 978.2,771.2 979.1,770.8 980.0,770.8 980.8,771.5 981.7,772.7 982.6,774.0 983.5,776.0 984.4,778.5 985.3,781.4 986.1,784.8 987.0,788.2 987.9,792.0 988.8,796.6" fill="none" stroke="#ff00ff" stroke-width="2.85" stroke-linejoin="round" stroke-linecap="round"/><rect x="627.80" y="757.90" width="389.50" height="215.00" fill="none" stroke="#000" stroke-width="2.9" stroke-linejoin="round"/><text x="938.40" y="793.90" font-size="31">m<tspan x="964.30" dy="9">42</tspan></text><text x="626.80" y="1009.7" font-size="31" text-anchor="middle">0.3</text><text x="704.70" y="1009.7" font-size="31" text-anchor="middle">0.6</text><text x="782.60" y="1009.7" font-size="31" text-anchor="middle">0.9</text><text x="860.50" y="1009.7" font-size="31" text-anchor="middle">1.2</text><text x="938.40" y="1009.7" font-size="31" text-anchor="middle">1.5</text><text x="1016.30" y="1009.7" font-size="31" text-anchor="middle">1.8</text></g>
<g><line x1="1107.00" y1="866.30" x2="1496.50" y2="866.30" stroke="#1a1a1a" stroke-width="1.5"/><path d="M1107.00 763.05h17.7M1107.00 814.05h17.7M1107.00 917.25h17.7M1107.00 968.25h17.7M1184.90 972.90v-18M1262.80 972.90v-18M1340.70 972.90v-18M1418.60 972.90v-18" stroke="#000" stroke-width="1.7" fill="none"/><polyline points="1115.2,852.1 1115.4,870.3 1115.7,887.0 1116.0,896.1 1116.2,895.2 1116.5,884.2 1116.7,866.6 1117.0,849.5 1117.3,838.4 1117.5,836.3 1117.8,844.4 1118.0,859.9 1118.3,877.8 1118.6,892.1 1118.8,898.2 1119.1,894.8 1119.3,882.8 1119.6,865.9 1119.9,849.6 1120.1,838.4 1120.4,834.8 1120.6,840.2 1120.9,853.4 1121.2,870.4 1121.4,886.2 1121.7,896.6 1121.9,899.2 1122.2,893.3 1122.5,880.3 1122.7,863.8 1123.0,848.5 1123.2,837.9 1123.5,833.9 1123.7,837.9 1124.0,849.1 1124.3,864.6 1124.5,880.6 1124.8,892.9 1125.0,899.4 1125.3,898.9 1125.6,891.2 1125.8,877.9 1126.1,862.2 1126.3,847.8 1126.6,837.7 1126.9,833.5 1127.1,835.6 1127.4,844.1 1127.6,857.4 1127.9,872.5 1128.2,886.6 1128.4,897.1 1128.7,901.6 1128.9,898.7 1129.2,890.2 1129.5,878.2 1129.7,863.8 1130.0,849.7 1130.2,838.6 1130.5,832.7 1130.8,832.9 1131.0,838.9 1131.3,850.0 1131.5,863.6 1131.8,877.1 1132.1,888.7 1132.3,897.4 1132.6,901.5 1132.8,899.9 1133.1,892.8 1133.4,881.8 1133.6,868.1 1133.9,854.7 1134.1,843.8 1134.4,835.9 1134.7,831.7 1134.9,833.0 1135.2,839.5 1135.4,850.1 1135.7,862.8 1136.0,875.5 1136.2,887.2 1136.5,896.3 1136.7,901.8 1137.0,902.7 1137.3,898.3 1137.5,889.6 1137.8,878.3 1138.0,865.8 1138.3,853.4 1138.5,843.0 1138.8,835.1 1139.1,830.7 1139.3,831.0 1139.6,836.1 1139.8,844.6 1140.1,855.1 1140.4,867.2 1140.6,879.3 1140.9,889.6 1141.1,897.4 1141.4,902.2 1141.7,903.0 1141.9,899.3 1142.2,892.5 1142.4,883.3 1142.7,871.8 1143.0,860.0 1143.2,849.4 1143.5,840.5 1143.7,833.7 1144.0,830.1 1144.3,830.6 1144.5,834.7 1144.8,841.4 1145.0,850.5 1145.3,861.5 1145.6,872.8 1145.8,883.0 1146.1,891.9 1146.3,898.8 1146.6,902.9 1146.9,903.4 1147.1,900.3 1147.4,894.7 1147.6,887.3 1147.9,877.7 1148.2,867.2 1148.4,857.0 1148.7,847.3 1148.9,839.0 1149.2,833.4 1149.5,830.6 1149.7,830.5 1150.0,833.5 1150.2,839.3 1150.5,846.9 1150.8,856.0 1151.0,866.1 1151.3,875.9 1151.5,884.7 1151.8,892.5 1152.1,898.6 1152.3,902.4 1152.6,903.5 1152.8,902.2 1153.1,898.2 1153.4,892.1 1153.6,884.2 1153.9,874.8 1154.1,865.4 1154.4,856.2 1154.6,847.2 1154.9,839.7 1155.2,834.1 1155.4,830.8 1155.7,829.8 1155.9,831.0 1156.2,834.2 1156.5,839.6 1156.7,846.9 1157.0,855.4 1157.2,864.6 1157.5,873.9 1157.8,882.7 1158.0,890.5 1158.3,896.6 1158.5,900.7 1158.8,903.2 1159.1,903.6 1159.3,902.0 1159.6,898.4 1159.8,893.1 1160.1,886.4 1160.4,878.4 1160.6,870.0 1160.9,861.1 1161.1,852.6 1161.4,845.4 1161.7,839.5 1161.9,834.9 1162.2,831.0 1162.4,829.1 1162.7,830.2 1163.0,832.8 1163.2,836.5 1163.5,841.9 1163.7,848.6 1164.0,856.0 1164.3,864.3 1164.5,872.7 1164.8,880.8 1165.0,888.0 1165.3,894.2 1165.6,899.2 1165.8,902.4 1166.1,904.1 1166.3,904.4 1166.6,902.8 1166.9,899.7 1167.1,895.6 1167.4,890.3 1167.6,883.4 1167.9,875.7 1168.2,867.9 1168.4,860.1 1168.7,852.6 1168.9,845.9 1169.2,840.3 1169.4,835.5 1169.7,831.8 1170.0,829.5 1170.2,829.2 1170.5,830.4 1170.7,832.6 1171.0,835.9 1171.3,841.0 1171.5,847.1 1171.8,853.5 1172.0,860.3 1172.3,867.5 1172.6,874.9 1172.8,881.9 1173.1,888.4 1173.3,893.8 1173.6,898.1 1173.9,901.2 1174.1,903.5 1174.4,904.5 1174.6,904.0 1174.9,902.4 1175.2,899.4 1175.4,895.4 1175.7,890.7 1175.9,885.0 1176.2,878.6 1176.5,871.9 1176.7,864.8 1177.0,857.6 1177.2,851.0 1177.5,845.2 1177.8,839.8 1178.0,835.7 1178.3,832.9 1178.5,830.6 1178.8,829.2 1179.1,829.1 1179.3,830.0 1179.6,832.2 1179.8,835.4 1180.1,839.5 1180.4,844.5 1180.6,850.2 1180.9,856.2 1181.1,862.2 1181.4,868.7 1181.7,875.3 1181.9,881.3 1182.2,886.9 1182.4,891.6 1182.7,895.9 1183.0,899.9 1183.2,902.5 1183.5,904.0 1183.7,904.7 1184.0,904.4 1184.3,903.3 1184.5,901.3 1184.8,898.2 1185.0,894.1 1185.3,889.0 1185.5,883.5 1185.8,878.0 1186.1,872.3 1186.3,866.5 1186.6,860.9 1186.8,855.3 1187.1,849.6 1187.4,844.2 1187.6,839.6 1187.9,836.1 1188.1,833.3 1188.4,831.1 1188.7,829.7 1188.9,829.0 1189.2,829.3 1189.4,830.5 1189.7,832.3 1190.0,835.1 1190.2,838.9 1190.5,842.8 1190.7,847.5 1191.0,853.2 1191.3,858.4 1191.5,863.1 1191.8,868.3 1192.0,874.1 1192.3,879.7 1192.6,884.6 1192.8,889.2 1193.1,893.5 1193.3,897.1 1193.6,900.2 1193.9,902.9 1194.1,904.2 1194.4,904.6 1194.6,904.6 1194.9,904.1 1195.2,902.7 1195.4,900.5 1195.7,897.4 1195.9,893.8 1196.2,889.8 1196.5,885.6 1196.7,881.3 1197.0,876.9 1197.2,872.1 1197.5,866.8 1197.8,861.3 1198.0,856.2 1198.3,851.8 1198.5,847.6 1198.8,843.4 1199.1,839.3 1199.3,835.7 1199.6,833.3 1199.8,831.5 1200.1,829.8 1200.4,829.0 1200.6,828.8 1200.9,829.2 1201.1,830.5 1201.4,832.0 1201.6,834.3 1201.9,837.3 1202.2,840.6 1202.4,844.2 1202.7,848.2 1202.9,852.8 1203.2,857.5 1203.5,862.0 1203.7,866.9 1204.0,872.1 1204.2,876.7 1204.5,881.1 1204.8,885.1 1205.0,888.9 1205.3,892.9 1205.5,896.2 1205.8,898.6 1206.1,900.8 1206.3,902.8 1206.6,904.4 1206.8,905.0 1207.1,904.7 1207.4,903.6 1207.6,902.5 1207.9,901.5 1208.1,899.7 1208.4,897.1 1208.7,894.2 1208.9,891.1 1209.2,888.1 1209.4,884.7 1209.7,880.3 1210.0,875.5 1210.2,871.0 1210.5,866.8 1210.7,862.3 1211.0,857.5 1211.3,853.2 1211.5,849.4 1211.8,845.6 1212.0,842.1 1212.3,839.3 1212.6,836.9 1212.8,834.6 1213.1,832.5 1213.3,830.6 1213.6,829.2 1213.9,828.4 1214.1,828.3 1214.4,828.8 1214.6,829.8 1214.9,831.1 1215.2,832.9 1215.4,835.2 1215.7,837.9 1215.9,840.6 1216.2,843.4 1216.4,846.8 1216.7,850.5 1217.0,854.2 1217.2,858.0 1217.5,861.9 1217.7,865.8 1218.0,869.9 1218.3,874.2 1218.5,878.2 1218.8,882.0 1219.0,886.0 1219.3,889.2 1219.6,891.9 1219.8,894.9 1220.1,898.0 1220.3,900.5 1220.6,902.1 1220.9,903.3 1221.1,904.3 1221.4,905.0 1221.6,905.4 1221.9,905.0 1222.2,904.1 1222.4,903.1 1222.7,902.1 1222.9,900.7 1223.2,898.9 1223.5,896.8 1223.7,894.1 1224.0,891.1 1224.2,888.0 1224.5,884.9 1224.8,881.5 1225.0,877.4 1225.3,873.7 1225.5,870.5 1225.8,866.9 1226.1,863.0 1226.3,859.1 1226.6,855.2 1226.8,851.7 1227.1,848.7 1227.4,845.8 1227.6,842.9 1227.9,840.2 1228.1,837.4 1228.4,834.6 1228.7,832.7 1228.9,831.7 1229.2,830.4 1229.4,829.5 1229.7,828.8 1230.0,828.3 1230.2,828.8 1230.5,829.2 1230.7,829.7 1231.0,830.8 1231.3,831.8 1231.5,833.2 1231.8,835.1 1232.0,837.5 1232.3,840.3 1232.5,843.2 1232.8,845.6 1233.1,848.1 1233.3,851.3 1233.6,854.8 1233.8,858.4 1234.1,861.7 1234.4,864.9 1234.6,868.4 1234.9,871.5 1235.1,874.4 1235.4,877.9 1235.7,881.6 1235.9,884.8 1236.2,887.4 1236.4,889.9 1236.7,892.4 1237.0,894.8 1237.2,896.6 1237.5,898.8 1237.7,901.0 1238.0,902.3 1238.3,903.0 1238.5,904.1 1238.8,905.3 1239.0,905.8 1239.3,905.2 1239.6,904.4 1239.8,904.1 1240.1,904.0 1240.3,902.7 1240.6,900.9 1240.9,899.2 1241.1,897.4 1241.4,895.6 1241.6,893.7 1241.9,891.3 1242.2,888.7 1242.4,886.0 1242.7,883.0 1242.9,880.3 1243.2,877.4 1243.5,874.4 1243.7,871.3 1244.0,868.2 1244.2,865.3 1244.5,862.4 1244.8,859.1 1245.0,855.9 1245.3,853.3 1245.5,850.5 1245.8,847.7 1246.1,845.5 1246.3,843.0 1246.6,840.6 1246.8,838.7 1247.1,837.1 1247.3,835.3 1247.6,833.4 1247.9,832.1 1248.1,831.2 1248.4,830.2 1248.6,829.2 1248.9,828.9 1249.2,829.0 1249.4,828.7 1249.7,829.0 1249.9,829.7 1250.2,830.1 1250.5,831.2 1250.7,832.5 1251.0,833.6 1251.2,835.0 1251.5,836.8 1251.8,838.5 1252.0,840.4 1252.3,842.7 1252.5,845.2 1252.8,847.7 1253.1,850.0 1253.3,852.4 1253.6,855.4 1253.8,858.5 1254.1,861.2 1254.4,863.6 1254.6,866.1 1254.9,869.0 1255.1,872.0 1255.4,874.6 1255.7,877.5 1255.9,880.4 1256.2,883.0 1256.4,885.5 1256.7,887.8 1257.0,890.0 1257.2,891.9 1257.5,893.9 1257.7,896.2 1258.0,897.7 1258.3,898.7 1258.5,900.0 1258.8,901.5 1259.0,902.8 1259.3,904.0 1259.6,904.6 1259.8,904.9 1260.1,905.3 1260.3,905.3 1260.6,904.9 1260.9,904.6 1261.1,904.1 1261.4,903.6 1261.6,903.0 1261.9,902.1 1262.2,901.1 1262.4,900.1 1262.7,898.7 1262.9,896.7 1263.2,894.8 1263.4,892.9 1263.7,891.0 1264.0,889.0 1264.2,886.8 1264.5,884.9 1264.7,883.0 1265.0,880.6 1265.3,877.9 1265.5,875.1 1265.8,872.2 1266.0,869.6 1266.3,867.6 1266.6,865.2 1266.8,862.5 1267.1,860.0 1267.3,857.6 1267.6,855.1 1267.9,852.5 1268.1,850.2 1268.4,848.4 1268.6,846.5 1268.9,844.3 1269.2,842.4 1269.4,840.4 1269.7,838.6 1269.9,837.0 1270.2,835.4 1270.5,834.1 1270.7,833.2 1271.0,832.0 1271.2,830.6 1271.5,829.8 1271.8,829.5 1272.0,829.2 1272.3,828.8 1272.5,828.6 1272.8,828.6 1273.1,828.8 1273.3,829.0 1273.6,829.5 1273.8,830.3 1274.1,830.9 1274.4,831.7 1274.6,832.5 1274.9,833.8 1275.1,835.3 1275.4,836.4 1275.7,837.9 1275.9,839.7 1276.2,841.0 1276.4,842.2 1276.7,843.8 1277.0,845.9 1277.2,848.0 1277.5,850.0 1277.7,852.4 1278.0,854.9 1278.3,857.0 1278.5,859.2 1278.8,861.2 1279.0,863.5 1279.3,866.1 1279.5,868.1 1279.8,869.9 1280.1,872.2 1280.3,874.6 1280.6,876.6 1280.8,878.7 1281.1,880.9 1281.4,883.5 1281.6,885.9 1281.9,887.7 1282.1,889.3 1282.4,890.9 1282.7,892.1 1282.9,893.8 1283.2,895.8 1283.4,897.0 1283.7,898.0 1284.0,899.1 1284.2,900.3 1284.5,901.5 1284.7,902.5 1285.0,903.1 1285.3,903.9 1285.5,904.8 1285.8,905.0 1286.0,904.6 1286.3,904.8 1286.6,905.4 1286.8,905.5 1287.1,905.1 1287.3,904.9 1287.6,904.8 1287.9,904.1 1288.1,902.8 1288.4,902.0 1288.6,901.3 1288.8,900.8 1289.6,897.0 1290.5,892.2 1291.4,886.5 1292.3,880.2 1293.2,873.6 1294.1,866.7 1294.9,860.0 1295.8,853.5 1296.7,847.3 1297.6,841.9 1298.5,837.3 1299.4,833.5 1300.2,830.8 1301.1,829.2 1302.0,828.7 1302.9,829.1 1303.8,830.6 1304.7,833.2 1305.5,836.8 1306.4,840.9 1307.3,845.6 1308.2,851.0 1309.1,856.7 1310.0,862.5 1310.8,868.6 1311.7,874.7 1312.6,880.6 1313.5,886.0 1314.4,890.8 1315.3,895.1 1316.1,898.7 1317.0,901.5 1317.9,903.5 1318.8,904.7 1319.7,905.0 1320.5,904.6 1321.4,903.3 1322.3,901.3 1323.2,898.7 1324.1,895.3 1325.0,891.1 1325.8,886.6 1326.7,881.8 1327.6,876.8 1328.5,871.7 1329.4,866.4 1330.3,861.1 1331.1,856.0 1332.0,851.0 1332.9,846.4 1333.8,842.3 1334.7,838.5 1335.6,835.4 1336.4,832.9 1337.3,830.9 1338.2,829.6 1339.1,828.8 1340.0,828.7 1340.9,829.1 1341.7,830.2 1342.6,832.1 1343.5,834.4 1344.4,837.2 1345.3,840.5 1346.2,844.0 1347.0,847.9 1347.9,852.0 1348.8,856.4 1349.7,861.0 1350.6,865.7 1351.5,870.3 1352.3,874.8 1353.2,879.2 1354.1,883.4 1355.0,887.3 1355.9,891.0 1356.7,894.3 1357.6,897.2 1358.5,899.6 1359.4,901.6 1360.3,903.2 1361.2,904.4 1362.0,905.0 1362.9,905.2 1363.8,904.8 1364.7,903.8 1365.6,902.5 1366.5,901.0 1367.3,899.0 1368.2,896.5 1369.1,893.8 1370.0,890.8 1370.9,887.4 1371.8,883.8 1372.6,880.1 1373.5,876.3 1374.4,872.4 1375.3,868.6 1376.2,864.6 1377.1,860.6 1377.9,856.8 1378.8,853.2 1379.7,849.7 1380.6,846.4 1381.5,843.2 1382.4,840.3 1383.2,837.6 1384.1,835.4 1385.0,833.4 1385.9,831.7 1386.8,830.3 1387.6,829.4 1388.5,828.8 1389.4,828.6 1390.3,828.7 1391.2,829.2 1392.1,830.0 1392.9,831.0 1393.8,832.3 1394.7,834.1 1395.6,836.0 1396.5,838.3 1397.4,840.8 1398.2,843.4 1399.1,846.2 1400.0,849.0 1400.9,852.2 1401.8,855.4 1402.7,858.6 1403.5,861.9 1404.4,865.3 1405.3,868.7 1406.2,872.1 1407.1,875.4 1408.0,878.4 1408.8,881.4 1409.7,884.4 1410.6,887.4 1411.5,890.1 1412.4,892.6 1413.3,894.8 1414.1,896.8 1415.0,898.8 1415.9,900.4 1416.8,901.7 1417.7,902.9 1418.5,903.8 1419.4,904.4 1420.3,904.8 1421.2,905.0 1422.1,905.1 1423.0,904.8 1423.8,904.2 1424.7,903.2 1425.6,902.2 1426.5,900.9 1427.4,899.5 1428.3,897.9 1429.1,896.1 1430.0,894.2 1430.9,892.1 1431.8,889.9 1432.7,887.4 1433.6,884.8 1434.4,882.2 1435.3,879.6 1436.2,876.9 1437.1,874.1 1438.0,871.4 1438.9,868.5 1439.7,865.7 1440.6,862.9 1441.5,860.2 1442.4,857.6 1443.3,854.8 1444.2,852.1 1445.0,849.7 1445.9,847.3 1446.8,844.9 1447.7,842.5 1448.6,840.4 1449.4,838.6 1450.3,836.9 1451.2,835.2 1452.1,833.7 1453.0,832.3 1453.9,831.2 1454.7,830.4 1455.6,829.7 1456.5,829.0 1457.4,828.5 1458.3,828.4 1459.2,828.6 1460.0,828.8 1460.9,829.2 1461.8,829.8 1462.7,830.7 1463.6,831.6 1464.5,832.7 1465.3,834.0 1466.2,835.5 1467.1,837.2 1468.0,839.1" fill="none" stroke="#ff00ff" stroke-width="2.85" stroke-linejoin="round" stroke-linecap="round"/><rect x="1107.00" y="757.90" width="389.50" height="215.00" fill="none" stroke="#000" stroke-width="2.9" stroke-linejoin="round"/><text x="1417.60" y="793.90" font-size="31">m<tspan x="1443.50" dy="9">43</tspan></text><text x="1106.00" y="1009.7" font-size="31" text-anchor="middle">0.3</text><text x="1183.90" y="1009.7" font-size="31" text-anchor="middle">0.6</text><text x="1261.80" y="1009.7" font-size="31" text-anchor="middle">0.9</text><text x="1339.70" y="1009.7" font-size="31" text-anchor="middle">1.2</text><text x="1417.60" y="1009.7" font-size="31" text-anchor="middle">1.5</text><text x="1495.50" y="1009.7" font-size="31" text-anchor="middle">1.8</text></g>
<g><line x1="1586.15" y1="866.30" x2="1975.65" y2="866.30" stroke="#1a1a1a" stroke-width="1.5"/><path d="M1586.15 763.05h17.7M1586.15 814.05h17.7M1586.15 917.25h17.7M1586.15 968.25h17.7M1664.05 972.90v-18M1741.95 972.90v-18M1819.85 972.90v-18M1897.75 972.90v-18" stroke="#000" stroke-width="1.7" fill="none"/><polyline points="1594.3,936.3 1594.6,946.0 1594.8,926.5 1595.1,884.4 1595.4,835.8 1595.6,798.7 1595.9,784.4 1596.1,797.9 1596.4,835.6 1596.7,883.2 1596.9,924.3 1597.2,947.2 1597.4,944.5 1597.7,916.8 1598.0,872.9 1598.2,826.6 1598.5,792.4 1598.7,780.2 1599.0,792.9 1599.3,827.4 1599.5,873.5 1599.8,917.1 1600.0,945.6 1600.3,951.9 1600.6,935.2 1600.8,900.2 1601.1,856.1 1601.3,814.8 1601.6,786.6 1601.9,778.8 1602.1,792.6 1602.4,825.0 1602.6,867.5 1602.9,909.5 1603.2,941.5 1603.4,955.5 1603.7,948.6 1603.9,923.1 1604.2,883.9 1604.5,840.6 1604.7,804.0 1605.0,781.4 1605.2,776.6 1605.5,791.0 1605.8,821.3 1606.0,860.6 1606.3,901.5 1606.5,935.0 1606.8,954.1 1607.1,956.3 1607.3,940.8 1607.6,910.4 1607.8,871.6 1608.1,832.3 1608.4,799.3 1608.6,778.4 1608.9,773.5 1609.1,785.7 1609.4,812.2 1609.6,847.8 1609.9,886.2 1610.2,921.3 1610.4,947.1 1610.7,959.0 1610.9,955.7 1611.2,937.6 1611.5,907.5 1611.7,870.6 1612.0,833.5 1612.2,802.5 1612.5,781.2 1612.8,772.6 1613.0,778.1 1613.3,796.8 1613.5,825.9 1613.8,860.8 1614.1,896.6 1614.3,927.5 1614.6,949.0 1614.8,959.8 1615.1,958.3 1615.4,943.8 1615.6,918.4 1615.9,885.9 1616.1,851.2 1616.4,818.7 1616.7,792.2 1616.9,775.3 1617.2,770.3 1617.4,777.0 1617.7,794.5 1618.0,820.5 1618.2,852.0 1618.5,885.3 1618.7,916.5 1619.0,941.6 1619.3,957.3 1619.5,962.8 1619.8,957.6 1620.0,941.7 1620.3,916.9 1620.6,887.0 1620.8,855.3 1621.1,824.8 1621.3,799.0 1621.6,779.9 1621.9,769.5 1622.1,769.8 1622.4,780.1 1622.6,798.7 1622.9,823.9 1623.2,853.3 1623.4,883.9 1623.7,912.5 1623.9,936.6 1624.2,954.1 1624.5,963.3 1624.7,963.0 1625.0,953.3 1625.2,936.4 1625.5,913.2 1625.7,885.7 1626.0,856.3 1626.3,827.9 1626.5,803.2 1626.8,784.0 1627.0,771.8 1627.3,767.8 1627.6,771.9 1627.8,783.6 1628.1,802.5 1628.3,826.5 1628.6,853.0 1628.9,880.7 1629.1,907.4 1629.4,930.7 1629.6,948.9 1629.9,960.5 1630.2,964.7 1630.4,961.6 1630.7,951.9 1630.9,935.7 1631.2,914.1 1631.5,889.0 1631.7,862.5 1632.0,837.0 1632.2,813.8 1632.5,793.3 1632.8,777.8 1633.0,769.2 1633.3,767.2 1633.5,771.4 1633.8,781.9 1634.1,798.1 1634.3,818.8 1634.6,842.5 1634.8,867.6 1635.1,892.1 1635.4,915.2 1635.6,935.3 1635.9,951.0 1636.1,961.2 1636.4,965.5 1636.7,963.5 1636.9,955.9 1637.2,943.5 1637.4,926.7 1637.7,905.8 1638.0,882.7 1638.2,859.5 1638.5,836.5 1638.7,814.3 1639.0,795.2 1639.3,781.0 1639.5,771.3 1639.8,766.0 1640.0,766.2 1640.3,772.4 1640.6,783.4 1640.8,798.2 1641.1,817.0 1641.3,838.5 1641.6,860.7 1641.8,883.0 1642.1,904.6 1642.4,924.3 1642.6,941.3 1642.9,954.4 1643.1,962.8 1643.4,966.6 1643.7,965.6 1643.9,960.1 1644.2,950.1 1644.4,935.9 1644.7,918.8 1645.0,899.7 1645.2,879.0 1645.5,857.4 1645.7,836.2 1646.0,816.4 1646.3,799.5 1646.5,785.7 1646.8,774.6 1647.0,767.7 1647.3,765.6 1647.6,767.1 1647.8,772.6 1648.1,781.7 1648.3,794.5 1648.6,810.9 1648.9,829.3 1649.1,848.7 1649.4,868.5 1649.6,888.0 1649.9,907.0 1650.2,924.5 1650.4,939.5 1650.7,951.4 1650.9,960.2 1651.2,965.6 1651.5,966.9 1651.7,964.6 1652.0,959.1 1652.2,950.5 1652.5,937.9 1652.8,922.4 1653.0,905.8 1653.3,888.0 1653.5,868.9 1653.8,850.0 1654.1,831.9 1654.3,814.9 1654.6,799.7 1654.8,786.8 1655.1,776.7 1655.4,769.5 1655.6,765.8 1655.9,765.1 1656.1,767.1 1656.4,772.8 1656.6,781.5 1656.9,792.5 1657.2,806.2 1657.4,822.2 1657.7,839.1 1657.9,856.4 1658.2,874.1 1658.5,891.7 1658.7,908.3 1659.0,923.0 1659.2,936.3 1659.5,948.3 1659.8,957.4 1660.0,963.4 1660.3,966.7 1660.5,967.3 1660.8,965.3 1661.1,960.5 1661.3,953.3 1661.6,943.2 1661.8,930.6 1662.1,916.6 1662.4,901.5 1662.6,885.5 1662.9,869.1 1663.1,852.7 1663.4,836.4 1663.7,820.8 1663.9,806.7 1664.2,794.5 1664.4,783.8 1664.7,775.0 1665.0,768.9 1665.2,765.0 1665.5,763.6 1665.7,764.9 1666.0,769.0 1666.3,775.4 1666.5,783.6 1666.8,793.8 1667.0,805.8 1667.3,819.1 1667.6,833.3 1667.8,848.0 1668.1,863.5 1668.3,879.5 1668.6,894.7 1668.9,908.7 1669.1,922.1 1669.4,934.8 1669.6,945.4 1669.9,954.1 1670.2,960.9 1670.4,965.1 1670.7,967.4 1670.9,967.8 1671.2,965.9 1671.5,961.8 1671.7,955.8 1672.0,948.4 1672.2,938.9 1672.5,927.4 1672.7,915.0 1673.0,902.0 1673.3,888.4 1673.5,874.3 1673.8,859.7 1674.0,845.6 1674.3,832.3 1674.6,819.3 1674.8,806.7 1675.1,795.2 1675.3,785.9 1675.6,778.0 1675.9,771.7 1676.1,767.1 1676.4,764.1 1676.6,763.2 1676.9,764.7 1677.2,768.1 1677.4,772.7 1677.7,779.3 1677.9,787.2 1678.2,795.9 1678.5,806.3 1678.7,818.2 1679.0,831.3 1679.2,844.3 1679.5,856.7 1679.8,870.0 1680.0,883.5 1680.3,896.3 1680.5,908.8 1680.8,920.9 1681.1,931.2 1681.3,939.9 1681.6,947.7 1681.8,955.1 1682.1,961.4 1682.4,965.3 1682.6,967.3 1682.9,967.8 1683.1,967.2 1683.4,965.3 1683.7,961.4 1683.9,955.3 1684.2,947.9 1684.4,940.0 1684.7,931.1 1685.0,921.1 1685.2,909.8 1685.5,898.0 1685.7,886.0 1686.0,873.9 1686.3,862.1 1686.5,850.2 1686.8,838.0 1687.0,826.0 1687.3,815.0 1687.5,805.4 1687.8,796.2 1688.1,787.4 1688.3,780.3 1688.6,774.5 1688.8,769.5 1689.1,766.0 1689.4,764.3 1689.6,763.9 1689.9,764.4 1690.1,766.4 1690.4,770.2 1690.7,775.1 1690.9,780.6 1691.2,787.3 1691.4,795.9 1691.7,805.2 1692.0,814.6 1692.2,825.0 1692.5,835.8 1692.7,846.7 1693.0,858.1 1693.3,869.2 1693.5,880.6 1693.8,892.1 1694.0,902.5 1694.3,912.3 1694.6,921.8 1694.8,931.0 1695.1,939.4 1695.3,946.7 1695.6,953.3 1695.9,958.7 1696.1,963.0 1696.4,966.3 1696.6,968.2 1696.9,968.9 1697.2,968.4 1697.4,966.9 1697.7,964.7 1697.9,961.1 1698.2,956.2 1698.5,950.0 1698.7,942.7 1699.0,935.4 1699.2,927.6 1699.5,918.5 1699.8,908.8 1700.0,898.7 1700.3,888.8 1700.5,878.4 1700.8,867.8 1701.1,857.5 1701.3,847.5 1701.6,837.7 1701.8,827.8 1702.1,818.1 1702.4,809.3 1702.6,800.9 1702.9,793.2 1703.1,786.4 1703.4,780.6 1703.6,775.8 1703.9,771.2 1704.2,767.5 1704.4,765.1 1704.7,763.8 1704.9,763.4 1705.2,764.4 1705.5,766.3 1705.7,768.5 1706.0,771.8 1706.2,776.0 1706.5,780.8 1706.8,786.3 1707.0,792.9 1707.3,800.1 1707.5,807.2 1707.8,815.5 1708.1,824.8 1708.3,834.5 1708.6,843.8 1708.8,852.7 1709.1,862.1 1709.4,871.8 1709.6,881.4 1709.9,891.4 1710.1,901.0 1710.4,909.1 1710.7,916.6 1710.9,924.8 1711.2,932.4 1711.4,939.3 1711.7,946.0 1712.0,951.6 1712.2,956.1 1712.5,959.9 1712.7,963.4 1713.0,966.5 1713.3,967.7 1713.5,967.4 1713.8,967.2 1714.0,967.3 1714.3,966.3 1714.6,963.9 1714.8,961.0 1715.1,957.6 1715.3,952.7 1715.6,946.8 1715.9,941.2 1716.1,935.6 1716.4,928.9 1716.6,921.5 1716.9,913.9 1717.2,905.6 1717.4,896.9 1717.7,888.4 1717.9,879.9 1718.2,871.0 1718.5,861.9 1718.7,853.2 1719.0,844.5 1719.2,835.9 1719.5,828.3 1719.7,820.8 1720.0,813.3 1720.3,806.0 1720.5,799.2 1720.8,793.1 1721.0,787.4 1721.3,782.0 1721.6,777.7 1721.8,773.9 1722.1,770.4 1722.3,767.7 1722.6,765.3 1722.9,763.8 1723.1,763.4 1723.4,763.3 1723.6,764.0 1723.9,766.0 1724.2,768.0 1724.4,770.3 1724.7,773.8 1724.9,777.6 1725.2,781.9 1725.5,786.8 1725.7,792.0 1726.0,797.7 1726.2,804.0 1726.5,810.9 1726.8,818.0 1727.0,825.5 1727.3,832.8 1727.5,840.1 1727.8,847.8 1728.1,855.3 1728.3,863.2 1728.6,871.5 1728.8,879.3 1729.1,887.2 1729.4,894.5 1729.6,901.3 1729.9,908.8 1730.1,916.2 1730.4,923.1 1730.7,929.1 1730.9,934.4 1731.2,940.0 1731.4,945.7 1731.7,950.8 1732.0,954.9 1732.2,958.2 1732.5,961.4 1732.7,963.9 1733.0,965.6 1733.3,967.0 1733.5,968.1 1733.8,968.8 1734.0,968.4 1734.3,967.4 1734.5,966.2 1734.8,964.7 1735.1,962.6 1735.3,959.8 1735.6,956.3 1735.8,952.2 1736.1,947.8 1736.4,943.7 1736.6,938.9 1736.9,933.1 1737.1,927.6 1737.4,921.8 1737.7,915.8 1737.9,909.7 1738.2,902.8 1738.4,895.6 1738.7,888.7 1739.0,881.6 1739.2,874.2 1739.5,867.1 1739.7,859.9 1740.0,852.5 1740.3,845.5 1740.5,838.5 1740.8,832.3 1741.0,826.5 1741.3,819.8 1741.6,812.9 1741.8,806.8 1742.1,801.0 1742.3,795.5 1742.6,791.1 1742.9,786.8 1743.1,782.7 1743.4,778.8 1743.6,775.0 1743.9,771.9 1744.2,769.3 1744.4,767.1 1744.7,765.7 1744.9,764.8 1745.2,764.2 1745.5,763.7 1745.7,763.4 1746.0,763.9 1746.2,764.9 1746.5,766.3 1746.8,768.5 1747.0,770.9 1747.3,773.5 1747.5,776.5 1747.8,780.2 1748.1,784.0 1748.3,787.6 1748.6,792.1 1748.8,797.6 1749.1,802.6 1749.4,807.3 1749.6,812.6 1749.9,818.6 1750.1,824.5 1750.4,830.2 1750.6,836.0 1750.9,841.7 1751.2,847.8 1751.4,854.6 1751.7,861.5 1751.9,868.1 1752.2,874.5 1752.5,880.6 1752.7,887.1 1753.0,893.7 1753.2,899.4 1753.5,905.1 1753.8,911.4 1754.0,917.5 1754.3,922.7 1754.5,927.3 1754.8,931.7 1755.1,936.2 1755.3,940.7 1755.6,945.2 1755.8,949.2 1756.1,952.5 1756.4,955.7 1756.6,958.6 1756.9,960.6 1757.1,962.5 1757.4,964.4 1757.7,965.7 1757.9,967.0 1758.2,968.2 1758.4,968.9 1758.7,968.7 1759.0,968.0 1759.2,967.2 1759.5,966.4 1759.7,965.4 1760.0,964.1 1760.3,962.1 1760.5,959.5 1760.8,956.4 1761.0,952.9 1761.3,949.6 1761.6,946.1 1761.8,942.2 1762.1,938.4 1762.3,934.4 1762.6,929.9 1762.9,925.0 1763.1,919.8 1763.4,914.9 1763.6,910.0 1763.9,904.9 1764.2,899.3 1764.4,893.3 1764.7,887.9 1764.9,883.0 1765.2,877.2 1765.4,871.0 1765.7,865.3 1766.0,859.6 1766.2,853.7 1766.5,847.7 1766.7,841.8 1767.0,836.6 1767.3,831.6 1767.5,826.6 1767.8,821.0 1767.9,818.6 1768.8,802.6 1769.7,788.7 1770.6,777.7 1771.4,769.6 1772.3,764.7 1773.2,763.1 1774.1,764.9 1775.0,769.8 1775.9,777.6 1776.7,788.1 1777.6,800.7 1778.5,815.2 1779.4,831.3 1780.3,848.3 1781.2,865.5 1782.0,882.6 1782.9,899.3 1783.8,915.0 1784.7,929.2 1785.6,941.7 1786.5,951.9 1787.3,959.7 1788.2,965.2 1789.1,968.2 1790.0,968.7 1790.9,966.6 1791.8,962.1 1792.6,955.3 1793.5,946.5 1794.4,935.7 1795.3,923.3 1796.2,909.6 1797.1,895.0 1797.9,880.0 1798.8,864.8 1799.7,849.9 1800.6,835.4 1801.5,821.4 1802.3,808.6 1803.2,797.0 1804.1,786.7 1805.0,778.2 1805.9,771.5 1806.8,766.8 1807.6,764.1 1808.5,763.5 1809.4,764.8 1810.3,767.6 1811.2,772.3 1812.1,778.9 1812.9,787.1 1813.8,796.6 1814.7,807.2 1815.6,818.8 1816.5,831.2 1817.4,844.2 1818.2,857.3 1819.1,870.6 1820.0,883.9 1820.9,896.9 1821.8,909.1 1822.7,920.3 1823.5,930.7 1824.4,940.1 1825.3,948.3 1826.2,955.2 1827.1,960.9 1828.0,965.1 1828.8,967.6 1829.7,968.7 1830.6,968.4 1831.5,966.5 1832.4,963.2 1833.2,958.8 1834.1,953.0 1835.0,945.9 1835.9,937.8 1836.8,928.9 1837.7,919.3 1838.5,908.8 1839.4,897.8 1840.3,886.5 1841.2,875.1 1842.1,863.6 1843.0,852.2 1843.8,841.0 1844.7,830.3 1845.6,820.1 1846.5,810.3 1847.4,801.3 1848.3,793.1 1849.1,785.8 1850.0,779.4 1850.9,773.9 1851.8,769.7 1852.7,766.5 1853.6,764.4 1854.4,763.3 1855.3,763.4 1856.2,764.5 1857.1,766.9 1858.0,770.2 1858.9,774.2 1859.7,779.2 1860.6,785.1 1861.5,791.9 1862.4,799.3 1863.3,807.3 1864.1,815.8 1865.0,824.7 1865.9,834.2 1866.8,844.0 1867.7,853.8 1868.6,863.6 1869.4,873.4 1870.3,883.0 1871.2,892.4 1872.1,901.5 1873.0,910.3 1873.9,918.8 1874.7,926.7 1875.6,934.0 1876.5,940.7 1877.4,946.8 1878.3,952.2 1879.2,956.9 1880.0,960.8 1880.9,963.9 1881.8,966.3 1882.7,968.0 1883.6,968.8 1884.5,968.6 1885.3,967.6 1886.2,966.1 1887.1,964.0 1888.0,961.0 1888.9,957.3 1889.8,952.8 1890.6,947.6 1891.5,942.1 1892.4,936.2 1893.3,929.7 1894.2,922.7 1895.0,915.4 1895.9,907.8 1896.8,899.9 1897.7,891.7 1898.6,883.5 1899.5,875.4 1900.3,867.4 1901.2,859.1 1902.1,850.8 1903.0,842.9 1903.9,835.1 1904.8,827.4 1905.6,820.0 1906.5,813.0 1907.4,806.5 1908.3,800.1 1909.2,794.0 1910.1,788.5 1910.9,783.5 1911.8,779.1 1912.7,775.3 1913.6,772.1 1914.5,769.2 1915.4,766.8 1916.2,765.0 1917.1,763.9 1918.0,763.3 1918.9,763.3 1919.8,763.9 1920.7,765.0 1921.5,766.5 1922.4,768.5 1923.3,771.2 1924.2,774.4 1925.1,777.9 1925.9,782.0 1926.8,786.7 1927.7,791.6 1928.6,796.8 1929.5,802.4 1930.4,808.3 1931.2,814.4 1932.1,820.9 1933.0,827.8 1933.9,834.9 1934.8,841.9 1935.7,849.1 1936.5,856.5 1937.4,863.8 1938.3,871.0 1939.2,878.3 1940.1,885.6 1941.0,892.7 1941.8,899.7 1942.7,906.5 1943.6,913.0 1944.5,919.1 1945.4,925.0 1946.3,930.8 1947.1,936.3" fill="none" stroke="#ff00ff" stroke-width="2.85" stroke-linejoin="round" stroke-linecap="round"/><rect x="1586.15" y="757.90" width="389.50" height="215.00" fill="none" stroke="#000" stroke-width="2.9" stroke-linejoin="round"/><text x="1896.75" y="793.90" font-size="31">m<tspan x="1922.65" dy="9">44</tspan></text><text x="1585.15" y="1009.7" font-size="31" text-anchor="middle">0.3</text><text x="1663.05" y="1009.7" font-size="31" text-anchor="middle">0.6</text><text x="1740.95" y="1009.7" font-size="31" text-anchor="middle">0.9</text><text x="1818.85" y="1009.7" font-size="31" text-anchor="middle">1.2</text><text x="1896.75" y="1009.7" font-size="31" text-anchor="middle">1.5</text><text x="1974.65" y="1009.7" font-size="31" text-anchor="middle">1.8</text></g>
<text x="243.3" y="207.9" font-size="31">Exp 0°</text>
<line x1="353.3" y1="197" x2="443.3" y2="197" stroke="#ff00ff" stroke-width="1.9"/>
<text y="1073.9" font-size="51.5"><tspan x="814.1">Wavelength (</tspan><tspan x="1146.0">m</tspan><tspan x="1190.5">)</tspan></text>
<text transform="translate(1114.0,1073.9) scale(1.0,0.86)" font-size="51.5" font-family="'Noto Serif CJK SC', 'Liberation Serif', serif">μ</text>
<text transform="translate(40.1,504.7) rotate(-90)" font-size="51.65" text-anchor="middle">Mueller matrix elements</text>
</svg>
</body></html>
